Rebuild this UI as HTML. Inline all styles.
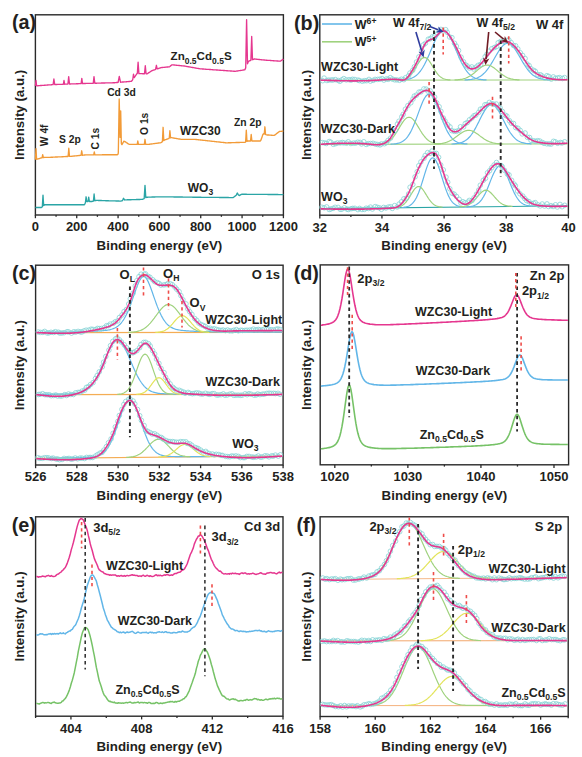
<!DOCTYPE html>
<html><head><meta charset="utf-8"><style>html,body{margin:0;padding:0;background:#fff;width:582px;height:757px;overflow:hidden}svg{display:block}</style></head>
<body><svg width="582" height="757" viewBox="0 0 582 757" font-family="Liberation Sans" font-weight="bold">
<rect width="582" height="757" fill="#fff"/>
<rect x="35.4" y="14.8" width="248.00" height="200.20" fill="none" stroke="#2a2a2a" stroke-width="1.4"/>
<line x1="35.40" y1="215.00" x2="35.40" y2="218.20" stroke="#2a2a2a" stroke-width="1.3"/>
<text x="35.40" y="231.40" font-size="13" text-anchor="middle" fill="#231f20" >0</text>
<line x1="56.07" y1="215.00" x2="56.07" y2="216.80" stroke="#2a2a2a" stroke-width="1.3"/>
<line x1="76.73" y1="215.00" x2="76.73" y2="218.20" stroke="#2a2a2a" stroke-width="1.3"/>
<text x="76.73" y="231.40" font-size="13" text-anchor="middle" fill="#231f20" >200</text>
<line x1="97.40" y1="215.00" x2="97.40" y2="216.80" stroke="#2a2a2a" stroke-width="1.3"/>
<line x1="118.07" y1="215.00" x2="118.07" y2="218.20" stroke="#2a2a2a" stroke-width="1.3"/>
<text x="118.07" y="231.40" font-size="13" text-anchor="middle" fill="#231f20" >400</text>
<line x1="138.73" y1="215.00" x2="138.73" y2="216.80" stroke="#2a2a2a" stroke-width="1.3"/>
<line x1="159.40" y1="215.00" x2="159.40" y2="218.20" stroke="#2a2a2a" stroke-width="1.3"/>
<text x="159.40" y="231.40" font-size="13" text-anchor="middle" fill="#231f20" >600</text>
<line x1="180.07" y1="215.00" x2="180.07" y2="216.80" stroke="#2a2a2a" stroke-width="1.3"/>
<line x1="200.73" y1="215.00" x2="200.73" y2="218.20" stroke="#2a2a2a" stroke-width="1.3"/>
<text x="200.73" y="231.40" font-size="13" text-anchor="middle" fill="#231f20" >800</text>
<line x1="221.40" y1="215.00" x2="221.40" y2="216.80" stroke="#2a2a2a" stroke-width="1.3"/>
<line x1="242.07" y1="215.00" x2="242.07" y2="218.20" stroke="#2a2a2a" stroke-width="1.3"/>
<text x="242.07" y="231.40" font-size="13" text-anchor="middle" fill="#231f20" >1000</text>
<line x1="262.73" y1="215.00" x2="262.73" y2="216.80" stroke="#2a2a2a" stroke-width="1.3"/>
<line x1="283.40" y1="215.00" x2="283.40" y2="218.20" stroke="#2a2a2a" stroke-width="1.3"/>
<text x="283.40" y="231.40" font-size="13" text-anchor="middle" fill="#231f20" >1200</text>
<text x="159.40" y="249.90" font-size="13.3" text-anchor="middle" fill="#231f20" >Binding energy (eV)</text>
<text x="24.2" y="114.90" font-size="13.3" text-anchor="middle" fill="#231f20" transform="rotate(-90 24.2 114.90)">Intensity (a.u.)</text>
<path d="M35.4,85.9 35.9,81.4 36.0,80.5 36.4,84.0 36.6,85.8 36.9,85.8 37.4,85.8 37.9,85.7 38.4,85.7 38.9,85.6 39.4,85.6 39.9,85.6 40.4,85.5 40.9,85.5 41.4,85.5 41.9,85.4 42.4,85.4 42.9,85.3 43.4,85.3 43.9,85.3 44.4,85.2 44.9,85.2 45.4,85.2 45.9,85.1 46.4,85.1 46.9,85.1 47.4,85.0 47.9,85.0 48.4,84.9 48.9,84.9 49.4,84.9 49.9,84.8 50.4,84.8 50.9,84.8 51.4,84.7 51.9,84.7 52.4,84.6 52.9,84.6 53.1,84.6 53.4,82.6 53.9,79.0 54.4,82.6 54.7,84.5 54.9,84.5 55.4,84.5 55.9,84.5 56.4,84.5 56.9,84.5 57.4,84.4 57.9,84.4 58.4,84.4 58.9,84.4 59.4,84.4 59.9,84.3 60.4,84.3 60.9,84.3 61.4,84.3 61.9,84.3 62.4,84.3 62.9,84.2 63.4,84.2 63.9,81.1 64.0,80.5 64.4,82.9 64.6,84.2 64.9,84.2 65.4,84.1 65.9,84.1 66.4,84.1 66.9,84.1 67.4,84.1 67.9,84.0 67.9,84.0 68.4,79.5 68.7,76.6 68.9,78.5 69.4,83.3 69.5,84.0 69.9,84.0 70.4,84.0 70.9,83.9 71.4,83.9 71.9,83.9 72.4,83.9 72.9,83.9 73.4,83.8 73.9,83.8 74.4,83.8 74.9,83.8 75.4,83.8 75.9,83.8 76.4,83.7 76.9,83.7 77.4,83.7 77.9,83.7 78.4,83.7 78.9,83.6 79.4,83.6 79.9,83.6 80.4,83.6 80.9,83.6 81.1,83.6 81.4,81.5 81.8,78.4 81.9,79.2 82.4,83.1 82.5,83.5 82.9,83.5 83.4,83.5 83.9,83.5 84.4,83.5 84.9,83.5 85.4,83.5 85.9,83.4 86.4,83.4 86.9,83.4 87.4,83.4 87.9,83.4 88.4,83.4 88.9,83.4 89.4,83.4 89.9,83.3 90.4,83.3 90.9,83.3 91.4,83.3 91.9,83.3 92.4,83.3 92.9,83.3 93.2,83.3 93.4,81.8 93.9,77.5 94.0,76.6 94.4,80.0 94.8,83.2 94.9,83.2 95.4,83.2 95.9,83.2 96.4,83.2 96.9,83.2 97.4,83.1 97.9,83.1 98.4,83.1 98.9,83.1 99.4,83.1 99.9,83.1 100.4,83.1 100.9,83.1 101.4,83.0 101.9,83.0 102.4,83.0 102.9,83.0 103.4,83.0 103.9,83.0 104.4,83.0 104.9,83.0 105.4,82.9 105.9,82.9 106.4,82.9 106.9,82.9 107.4,82.9 107.9,82.9 108.4,82.9 108.9,82.8 109.4,82.8 109.9,82.8 110.4,82.8 110.9,82.8 111.4,82.8 111.9,82.8 112.4,82.8 112.9,82.7 113.4,82.7 113.9,82.7 114.4,82.7 114.9,82.7 115.4,82.6 115.9,82.6 116.4,82.5 116.9,82.5 117.4,82.5 117.9,82.4 118.1,82.4 118.4,80.9 118.9,78.5 119.3,76.5 119.4,77.0 119.9,79.3 120.4,81.7 120.5,82.2 120.9,82.2 121.4,82.1 121.9,82.1 122.4,82.0 122.9,82.0 123.4,82.0 123.9,81.9 124.4,81.9 124.9,81.8 125.4,81.8 125.9,81.8 126.4,81.7 126.9,81.7 127.4,81.6 127.9,81.6 128.4,81.6 128.9,81.5 129.4,81.5 129.9,81.4 130.4,81.4 130.9,81.3 131.4,81.3 131.9,80.8 132.4,80.1 132.7,79.7 132.9,78.5 133.4,74.9 133.5,74.2 133.9,76.0 134.3,77.6 134.4,77.4 134.9,76.6 135.4,75.9 135.9,75.1 136.4,74.4 136.9,73.6 137.3,73.5 137.4,72.5 137.9,65.1 138.1,62.2 138.4,66.6 138.9,73.6 138.9,73.6 139.4,73.6 139.9,73.6 140.4,73.6 140.9,73.6 141.4,73.6 141.9,73.6 142.4,73.7 142.9,73.7 143.4,73.7 143.9,73.7 144.4,73.7 144.5,73.7 144.9,69.9 145.3,65.7 145.4,66.7 145.9,72.0 146.1,73.8 146.4,73.8 146.9,73.8 147.4,73.6 147.9,73.3 148.4,72.9 148.9,72.6 149.4,72.3 149.9,72.0 150.4,71.6 150.9,71.3 151.4,71.0 151.9,70.7 152.4,70.5 152.9,70.3 153.4,70.2 153.9,70.0 154.4,69.8 154.9,69.7 155.4,69.5 155.6,69.4 155.9,68.0 156.4,65.3 156.9,67.6 157.2,68.9 157.4,68.8 157.9,68.6 158.4,68.5 158.9,68.3 159.4,68.1 159.9,68.0 160.4,67.8 160.9,67.6 161.4,67.6 161.9,67.5 162.4,67.5 162.9,67.4 163.4,67.4 163.9,67.3 164.4,67.3 164.9,67.2 165.4,67.2 165.9,67.1 166.4,67.1 166.9,67.0 167.4,67.0 167.9,67.0 168.4,66.9 168.9,66.9 169.4,66.8 169.9,66.5 170.4,66.0 170.9,65.6 171.4,65.2 171.9,64.8 172.4,64.8 172.9,64.9 173.4,64.9 173.9,65.0 174.4,65.0 174.9,65.1 175.4,65.1 175.9,65.2 176.4,65.2 176.9,65.3 177.4,65.3 177.9,65.4 178.4,65.4 178.9,65.5 179.4,65.5 179.9,65.6 180.4,65.6 180.9,65.7 181.4,65.7 181.9,65.8 182.4,65.8 182.9,65.9 183.4,65.9 183.9,66.0 184.4,66.0 184.9,66.1 185.4,66.2 185.9,66.3 186.4,66.4 186.9,66.5 187.4,66.6 187.9,66.7 188.4,66.7 188.9,66.8 189.4,66.9 189.9,67.0 190.4,67.1 190.9,67.2 191.4,67.3 191.9,67.4 192.4,67.5 192.9,67.5 193.4,67.6 193.9,67.7 194.4,67.8 194.9,67.9 195.4,68.0 195.9,68.1 196.4,68.2 196.9,68.3 197.4,68.3 197.9,68.4 198.4,68.5 198.9,68.6 199.4,68.7 199.9,68.8 200.4,68.8 200.9,68.9 201.4,68.9 201.9,68.9 202.4,69.0 202.9,69.0 203.4,69.0 203.9,69.1 204.4,69.1 204.9,69.1 205.4,69.2 205.9,69.2 206.4,69.3 206.9,69.3 207.4,69.3 207.9,69.4 208.4,69.4 208.9,69.4 209.4,69.5 209.9,69.5 210.4,69.5 210.9,69.6 211.4,69.6 211.9,69.6 212.4,69.7 212.9,69.7 213.4,69.8 213.9,69.8 214.4,69.8 214.9,69.9 215.4,69.9 215.9,69.9 216.4,70.0 216.9,70.0 217.4,70.0 217.9,70.1 218.4,70.1 218.9,70.1 219.4,70.2 219.9,70.2 220.4,70.2 220.9,70.3 221.4,70.3 221.9,70.4 222.4,70.4 222.9,70.4 223.4,70.5 223.9,70.5 224.4,70.5 224.9,70.6 225.4,70.6 225.9,70.6 226.4,70.7 226.9,70.7 227.4,70.7 227.9,70.8 228.4,70.8 228.9,70.9 229.4,70.9 229.9,70.9 230.4,71.0 230.9,71.0 231.4,71.0 231.9,71.1 232.4,71.1 232.9,71.1 233.4,71.2 233.9,71.2 234.4,71.2 234.9,71.3 235.4,71.3 235.9,71.2 236.4,71.1 236.9,71.0 237.4,71.0 237.9,70.9 238.4,70.8 238.9,70.7 239.4,70.6 239.9,70.6 240.4,70.5 240.9,70.4 241.4,70.3 241.9,70.3 242.4,70.2 242.9,70.1 243.4,70.0 243.9,69.9 244.4,69.9 244.9,69.6 245.4,68.5 245.7,67.9 245.9,58.0 246.4,30.6 246.6,19.7 246.9,34.7 247.4,59.8 247.5,63.8 247.9,62.7 248.4,61.5 248.9,61.1 249.4,60.9 249.9,60.7 250.4,60.5 250.9,60.3 250.9,60.3 251.4,45.8 251.7,36.5 251.9,42.5 252.4,57.6 252.5,59.7 252.9,59.6 253.4,59.4 253.9,59.2 254.4,59.0 254.9,59.0 255.4,59.1 255.9,59.1 256.4,59.2 256.9,59.2 257.4,59.3 257.9,59.3 258.4,59.4 258.9,59.5 259.4,59.5 259.9,59.6 260.4,59.6 260.9,59.7 261.4,59.7 261.9,59.8 262.4,59.8 262.9,59.9 263.4,59.9 263.9,60.0 264.4,60.0 264.9,60.1 265.4,60.1 265.9,60.2 266.4,60.2 266.9,60.2 267.4,60.3 267.9,60.3 268.4,60.3 268.9,60.4 269.4,60.4 269.9,60.4 270.4,60.5 270.9,60.5 271.4,60.6 271.9,60.6 272.4,60.6 272.9,60.7 273.4,60.7 273.9,60.7 274.4,60.8 274.9,60.8 275.4,60.8 275.9,60.9 276.4,60.9 276.9,61.0 277.4,61.0 277.9,61.0 278.4,61.1 278.9,61.1 279.4,61.1 279.9,61.2 280.4,61.1 280.9,60.8 281.4,60.4 281.9,60.1 282.4,59.7 282.9,59.4 283.4,59.0" fill="none" stroke="#e5378f" stroke-width="1.35" stroke-linejoin="round" />
<path d="M35.4,159.7 35.9,150.5 36.0,148.6 36.4,155.8 36.6,159.3 36.9,159.2 37.4,159.1 37.9,158.9 38.4,158.8 38.9,158.6 39.4,158.5 39.9,158.3 40.4,158.2 40.9,158.0 41.4,157.9 41.9,157.7 42.1,157.7 42.4,156.1 42.7,154.6 42.9,155.6 43.3,157.5 43.4,157.5 43.9,157.5 44.4,157.4 44.9,157.4 45.4,157.4 45.9,157.4 46.4,157.4 46.9,157.4 47.4,157.4 47.9,157.3 48.4,157.3 48.9,157.3 49.4,157.3 49.9,157.3 50.4,157.3 50.9,157.2 51.4,157.2 51.9,157.2 52.4,157.2 52.9,157.2 53.4,157.1 53.9,157.1 54.4,157.1 54.9,157.1 55.4,157.0 55.9,157.0 56.4,157.0 56.9,157.0 57.4,157.0 57.9,156.9 58.4,156.9 58.9,156.9 59.4,156.9 59.9,156.8 60.4,156.8 60.9,156.8 61.4,156.8 61.9,156.7 62.4,156.7 62.9,156.7 63.4,156.7 63.9,156.6 64.4,156.6 64.9,156.6 65.4,156.6 65.9,156.5 66.4,156.5 66.9,156.5 67.4,156.5 67.9,156.5 68.1,156.4 68.4,153.2 68.8,148.2 68.9,149.4 69.4,155.6 69.5,156.4 69.9,156.4 70.4,156.3 70.9,156.3 71.4,156.3 71.9,156.2 72.4,156.2 72.9,156.1 73.4,156.1 73.9,156.0 74.4,156.0 74.9,155.9 75.4,155.9 75.9,155.8 76.4,155.8 76.9,155.7 77.4,155.7 77.9,155.6 78.4,155.6 78.9,155.5 79.4,155.5 79.9,155.4 80.4,155.4 80.9,155.3 81.0,155.3 81.4,152.9 81.7,150.8 81.9,152.1 82.4,155.2 82.4,155.2 82.9,155.2 83.4,155.1 83.9,155.1 84.4,155.0 84.9,155.0 85.4,154.9 85.9,154.9 86.4,154.8 86.9,154.8 87.4,154.8 87.9,154.8 88.4,154.8 88.9,154.8 89.4,154.8 89.9,154.8 90.4,154.8 90.9,154.8 91.4,154.8 91.9,154.8 92.4,154.8 92.9,154.8 93.4,154.8 93.7,154.8 93.9,153.9 94.3,152.0 94.4,152.5 94.9,154.8 95.4,154.8 95.9,154.8 96.4,154.8 96.9,154.8 97.4,154.8 97.9,154.8 98.4,154.8 98.9,154.8 99.4,154.8 99.9,154.8 100.4,154.8 100.9,154.8 101.4,154.8 101.9,154.8 102.4,154.7 102.9,154.7 103.4,154.7 103.9,154.7 104.4,154.7 104.9,154.7 105.4,154.7 105.9,154.7 106.4,154.7 106.9,154.7 107.4,154.7 107.9,154.7 108.4,154.7 108.9,154.7 109.4,154.7 109.9,154.7 110.4,154.7 110.9,154.7 111.4,154.7 111.9,154.7 112.4,154.7 112.9,154.7 113.4,154.7 113.9,154.7 114.4,154.7 114.9,154.7 115.4,154.7 115.9,154.7 116.4,154.7 116.9,154.7 117.4,154.7 117.9,154.4 118.3,153.0 118.4,148.0 118.9,117.3 119.2,98.9 119.4,107.7 119.9,129.5 120.1,137.4 120.1,137.1 120.4,122.5 120.7,110.9 120.9,121.2 121.3,141.9 121.4,143.6 121.9,144.6 122.4,143.8 122.9,142.9 123.4,142.0 123.9,141.2 124.4,141.3 124.9,141.6 125.4,141.9 125.9,142.2 126.4,142.6 126.9,142.9 127.4,143.2 127.9,143.6 128.4,143.9 128.9,144.2 129.4,144.4 129.9,144.4 130.4,144.4 130.9,144.4 131.4,144.4 131.9,144.4 132.4,144.4 132.9,144.4 133.4,144.4 133.9,144.4 134.4,144.4 134.9,144.4 135.4,144.4 135.9,144.4 136.4,144.4 136.9,144.4 137.2,144.4 137.4,143.3 137.8,141.0 137.9,141.6 138.4,144.4 138.9,144.4 139.4,144.4 139.9,144.4 140.4,144.4 140.9,144.4 141.4,144.4 141.9,144.4 142.4,144.4 142.9,144.4 143.4,144.4 143.9,144.4 144.3,144.4 144.4,143.9 144.9,140.1 145.0,139.3 145.4,142.4 145.7,144.4 145.9,144.4 146.4,144.4 146.9,144.4 147.4,144.4 147.9,144.4 148.4,144.4 148.9,144.3 149.4,144.2 149.9,144.2 150.4,144.1 150.9,144.0 151.4,144.0 151.9,143.9 152.4,143.8 152.9,143.8 153.4,143.7 153.9,143.6 154.4,143.6 154.9,143.5 155.4,143.4 155.9,143.4 156.4,143.3 156.9,143.2 157.4,143.2 157.9,143.1 158.4,143.0 158.9,143.0 159.4,142.9 159.9,142.8 160.4,142.8 160.9,142.7 161.4,142.4 161.9,142.0 162.4,141.6 162.4,141.6 162.9,131.6 163.1,127.3 163.4,133.3 163.8,140.6 163.9,140.5 164.4,140.1 164.9,139.9 165.4,139.7 165.9,139.6 166.4,139.4 166.9,139.2 167.4,139.0 167.9,138.8 168.4,138.7 168.9,138.5 169.2,138.3 169.4,136.5 169.9,130.7 170.4,136.1 170.6,137.9 170.9,137.7 171.4,137.6 171.9,137.7 172.4,137.8 172.9,137.9 173.4,138.0 173.9,138.1 174.4,138.2 174.9,138.2 175.4,138.3 175.9,138.4 176.4,138.5 176.9,138.6 177.4,138.7 177.9,138.8 178.4,138.9 178.9,139.0 179.4,139.0 179.9,139.1 180.4,139.2 180.9,139.3 181.4,139.3 181.9,139.3 182.4,139.3 182.9,139.3 183.4,139.3 183.9,139.3 184.4,139.3 184.9,139.3 185.4,139.3 185.9,139.3 186.4,139.3 186.9,139.3 187.4,139.3 187.9,139.3 188.4,139.3 188.9,139.3 189.4,139.3 189.9,139.3 190.4,139.3 190.9,139.3 191.4,139.3 191.9,139.3 192.4,139.3 192.9,139.3 193.4,139.3 193.9,139.3 194.4,139.3 194.9,139.3 195.4,139.4 195.9,139.5 196.4,139.5 196.9,139.6 197.4,139.6 197.9,139.7 198.4,139.7 198.9,139.8 199.4,139.8 199.9,139.9 200.4,140.0 200.9,140.0 201.4,140.1 201.9,140.1 202.4,140.2 202.9,140.2 203.4,140.3 203.9,140.3 204.4,140.4 204.9,140.4 205.4,140.5 205.9,140.6 206.4,140.6 206.9,140.7 207.4,140.7 207.9,140.8 208.4,140.8 208.9,140.9 209.4,140.9 209.9,141.0 210.4,141.1 210.9,141.1 211.4,141.2 211.9,141.2 212.4,141.3 212.9,141.3 213.4,141.4 213.9,141.4 214.4,141.5 214.9,141.6 215.4,141.6 215.9,141.7 216.4,141.7 216.9,141.8 217.4,141.8 217.9,141.9 218.4,141.9 218.9,142.0 219.4,142.0 219.9,142.1 220.4,142.2 220.9,142.2 221.4,142.3 221.9,142.3 222.4,142.4 222.9,142.4 223.4,142.5 223.9,142.5 224.4,142.6 224.9,142.7 225.4,142.7 225.9,142.8 226.4,142.8 226.9,142.8 227.4,142.8 227.9,142.8 228.4,142.7 228.9,142.7 229.4,142.7 229.9,142.7 230.4,142.7 230.9,142.7 231.4,142.7 231.9,142.6 232.4,142.6 232.9,142.6 233.4,142.6 233.9,142.6 234.4,142.6 234.9,142.6 235.4,142.6 235.9,142.5 236.4,142.5 236.9,142.5 237.4,142.5 237.9,142.5 238.4,142.5 238.9,142.5 239.4,142.5 239.9,142.4 240.4,142.4 240.9,142.4 241.4,142.4 241.9,142.4 242.4,142.4 242.9,142.4 243.4,142.3 243.9,142.3 244.4,142.3 244.9,142.3 245.4,142.2 245.6,142.0 245.9,137.4 246.3,130.2 246.4,131.9 246.9,140.4 247.0,141.4 247.4,141.2 247.9,141.0 248.4,141.0 248.9,141.0 249.4,141.0 249.9,141.0 250.4,141.0 250.5,141.0 250.9,137.5 251.2,134.5 251.4,136.5 251.9,141.0 251.9,141.0 252.4,141.0 252.9,141.0 253.4,141.0 253.9,141.0 254.4,141.0 254.9,141.0 255.4,141.0 255.9,141.0 256.4,141.0 256.9,141.0 257.4,141.0 257.9,141.0 258.4,141.0 258.9,141.0 259.4,141.0 259.9,141.0 260.4,141.0 260.9,140.2 261.4,138.8 261.9,137.4 262.4,135.9 262.9,134.5 263.4,133.8 263.9,133.9 264.2,134.1 264.4,132.3 264.9,126.8 265.4,132.7 265.6,134.5 265.9,134.7 266.4,134.8 266.9,134.9 267.4,135.0 267.9,135.0 268.4,135.0 268.9,135.0 269.4,135.1 269.9,135.1 270.4,135.1 270.9,135.2 271.4,135.2 271.9,135.2 272.4,135.3 272.9,135.3 273.4,135.3 273.9,135.4 274.4,135.3 274.9,134.9 275.4,134.6 275.9,134.2 276.4,133.8 276.9,133.4 277.4,133.0 277.9,132.6 278.4,132.2 278.9,131.9 279.4,131.5 279.9,131.4 280.4,131.3 280.9,131.3 281.4,131.3 281.9,131.2 282.4,131.2 282.9,131.1 283.4,131.1" fill="none" stroke="#f29b38" stroke-width="1.35" stroke-linejoin="round" />
<path d="M35.4,207.5 35.9,207.5 36.4,207.5 36.9,207.5 37.4,207.5 37.9,207.5 38.4,207.5 38.9,207.5 39.4,207.5 39.9,207.5 40.4,207.5 40.9,207.5 41.4,207.5 41.9,207.1 42.3,206.7 42.4,205.6 42.9,196.9 43.0,195.1 43.4,201.5 43.7,205.6 43.9,205.4 44.4,205.0 44.9,204.7 45.4,204.7 45.9,204.7 46.4,204.7 46.9,204.7 47.4,204.7 47.9,204.7 48.4,204.7 48.9,204.7 49.4,204.7 49.9,204.7 50.4,204.7 50.9,204.7 51.4,204.7 51.9,204.7 52.4,204.7 52.9,204.7 53.4,204.7 53.9,204.7 54.4,204.7 54.9,204.7 55.4,204.7 55.9,204.7 56.4,204.7 56.9,204.7 57.4,204.7 57.9,204.7 58.4,204.7 58.9,204.7 59.4,204.7 59.9,204.7 60.4,204.7 60.9,204.7 61.4,204.7 61.9,204.7 62.4,204.7 62.9,204.7 63.4,204.7 63.9,204.7 64.4,204.7 64.9,204.7 65.4,204.7 65.9,204.7 66.4,204.7 66.9,204.7 67.4,204.7 67.9,204.7 68.4,204.7 68.9,204.7 69.4,204.7 69.9,204.7 70.4,204.7 70.9,204.7 71.4,204.7 71.9,204.7 72.4,204.7 72.9,204.7 73.4,204.7 73.9,204.7 74.4,204.7 74.9,204.7 75.4,204.7 75.9,204.7 76.4,204.7 76.9,204.7 77.4,204.7 77.9,204.7 78.4,204.7 78.9,204.7 79.4,204.7 79.9,204.7 80.4,204.7 80.9,204.7 81.4,204.7 81.9,204.7 82.4,204.7 82.9,204.7 83.4,204.7 83.9,204.7 84.4,204.7 84.9,203.8 85.4,202.8 85.4,202.7 85.9,198.6 86.1,196.8 86.4,198.9 86.8,201.5 86.9,201.5 87.4,201.5 87.9,201.5 88.0,201.5 88.4,199.2 88.7,197.2 88.9,198.5 89.4,201.5 89.4,201.5 89.9,201.5 90.4,201.5 90.9,201.5 91.4,201.5 91.9,201.5 92.4,201.4 92.9,201.2 93.4,201.1 93.4,201.1 93.9,196.2 94.1,194.0 94.4,197.1 94.8,200.8 94.9,200.7 95.4,200.6 95.9,200.5 96.4,200.4 96.9,200.4 97.4,200.4 97.9,200.4 98.4,200.5 98.9,200.5 99.4,200.5 99.9,200.5 100.4,200.5 100.9,200.5 101.4,200.5 101.9,200.6 102.4,200.6 102.9,200.6 103.4,200.6 103.9,200.6 104.4,200.6 104.9,200.6 105.4,200.7 105.9,200.7 106.4,200.7 106.9,200.7 107.4,200.7 107.9,200.7 108.4,200.7 108.9,200.8 109.4,200.8 109.9,200.8 110.4,200.8 110.9,200.8 111.4,200.8 111.9,200.8 112.4,200.9 112.9,200.9 113.4,200.9 113.9,200.9 114.4,200.9 114.9,200.9 115.4,200.9 115.9,201.0 116.4,201.0 116.9,201.0 117.4,201.0 117.9,201.0 118.4,201.0 118.9,201.0 119.4,201.1 119.9,201.1 120.4,201.1 120.9,201.1 121.4,200.9 121.9,200.8 122.4,200.6 122.9,199.6 123.4,198.5 123.5,198.3 123.9,198.9 124.4,199.7 124.6,200.0 124.9,199.9 125.4,199.8 125.9,199.8 126.4,199.8 126.9,199.8 127.4,199.7 127.9,199.7 128.4,199.7 128.9,199.7 129.4,199.7 129.9,199.7 130.4,199.7 130.9,199.7 131.4,199.7 131.9,199.6 132.4,199.6 132.9,199.6 133.4,199.6 133.9,199.6 134.4,199.6 134.9,199.6 135.4,199.6 135.9,199.6 136.4,199.5 136.9,199.5 137.4,199.5 137.9,199.5 138.4,199.5 138.9,199.5 139.4,199.5 139.9,199.5 140.4,199.4 140.9,199.4 141.4,199.4 141.9,199.4 142.4,199.4 142.9,199.1 143.4,198.9 143.9,198.6 144.2,198.5 144.4,194.9 144.9,187.0 145.0,185.4 145.4,191.3 145.8,197.6 145.9,197.6 146.4,197.4 146.9,197.2 147.4,197.2 147.9,197.2 148.4,197.1 148.9,197.1 149.4,197.1 149.9,197.1 150.4,197.1 150.9,197.1 151.4,197.1 151.9,197.0 152.4,197.0 152.9,197.0 153.4,197.0 153.9,197.0 154.4,197.0 154.9,197.0 155.4,196.9 155.9,196.9 156.4,196.9 156.9,196.9 157.4,196.9 157.9,196.9 158.4,196.8 158.9,196.8 159.4,196.8 159.9,196.8 160.4,196.8 160.9,196.8 161.4,196.8 161.9,196.8 162.4,196.8 162.9,196.8 163.4,196.8 163.9,196.8 164.4,196.8 164.9,196.9 165.4,196.9 165.9,196.9 166.4,196.9 166.9,196.9 167.4,196.9 167.9,196.9 168.4,196.9 168.9,196.9 169.4,196.9 169.9,196.9 170.4,196.9 170.9,196.9 171.4,196.9 171.9,196.9 172.4,196.9 172.9,196.9 173.4,196.9 173.9,197.0 174.4,197.0 174.9,197.0 175.4,197.0 175.9,197.0 176.4,197.0 176.9,197.0 177.4,197.0 177.9,197.0 178.4,197.0 178.9,197.0 179.4,197.0 179.9,197.0 180.4,197.0 180.9,197.0 181.4,197.0 181.9,197.0 182.4,197.0 182.9,197.1 183.4,197.1 183.9,197.1 184.4,197.1 184.9,197.1 185.4,197.1 185.9,197.1 186.4,197.1 186.9,197.1 187.4,197.1 187.9,197.1 188.4,197.1 188.9,197.1 189.4,197.1 189.9,197.1 190.4,197.1 190.9,197.1 191.4,197.1 191.9,197.1 192.4,197.2 192.9,197.2 193.4,197.2 193.9,197.2 194.4,197.2 194.9,197.2 195.4,197.2 195.9,197.2 196.4,197.2 196.9,197.2 197.4,197.2 197.9,197.2 198.4,197.2 198.9,197.2 199.4,197.2 199.9,197.2 200.4,197.2 200.9,197.2 201.4,197.3 201.9,197.3 202.4,197.3 202.9,197.3 203.4,197.3 203.9,197.3 204.4,197.3 204.9,197.3 205.4,197.3 205.9,197.3 206.4,197.3 206.9,197.3 207.4,197.3 207.9,197.3 208.4,197.3 208.9,197.3 209.4,197.3 209.9,197.3 210.4,197.4 210.9,197.4 211.4,197.4 211.9,197.4 212.4,197.4 212.9,197.4 213.4,197.4 213.9,197.4 214.4,197.4 214.9,197.4 215.4,197.4 215.9,197.4 216.4,197.4 216.9,197.4 217.4,197.4 217.9,197.4 218.4,197.4 218.9,197.4 219.4,197.5 219.9,197.5 220.4,197.5 220.9,197.5 221.4,197.5 221.9,197.5 222.4,197.5 222.9,197.5 223.4,197.5 223.9,197.5 224.4,197.5 224.9,197.5 225.4,197.5 225.9,197.5 226.4,197.5 226.9,197.5 227.4,197.5 227.9,197.5 228.4,197.5 228.9,197.6 229.4,197.6 229.9,197.6 230.4,197.6 230.9,197.6 231.4,197.6 231.9,197.6 232.4,197.6 232.9,197.6 233.4,197.3 233.9,197.0 234.4,196.6 234.9,196.2 235.4,195.9 235.9,195.5 236.2,195.3 236.4,194.9 236.9,193.8 237.3,192.9 237.4,193.1 237.9,194.0 238.4,195.0 238.9,195.2 239.4,195.5 239.9,195.3 240.4,194.9 240.9,194.6 241.4,194.3 241.9,194.2 242.4,194.2 242.9,194.2 243.4,194.2 243.9,194.2 244.4,194.2 244.9,194.2 245.4,194.2 245.9,194.2 246.4,194.2 246.9,194.3 247.4,194.3 247.9,194.3 248.4,194.3 248.9,194.3 249.4,194.3 249.9,194.3 250.4,194.3 250.9,194.3 251.4,194.3 251.9,194.3 252.4,194.3 252.9,194.3 253.4,194.3 253.9,194.3 254.4,194.3 254.9,194.3 255.4,194.3 255.9,194.3 256.4,194.3 256.9,194.3 257.4,194.4 257.9,194.4 258.4,194.4 258.9,194.4 259.4,194.4 259.9,194.4 260.4,194.4 260.9,194.4 261.4,194.4 261.9,194.4 262.4,194.4 262.9,194.4 263.4,194.4 263.9,194.4 264.4,194.4 264.9,194.4 265.4,194.4 265.9,194.4 266.4,194.4 266.9,194.4 267.4,194.4 267.9,194.5 268.4,194.5 268.9,194.5 269.4,194.5 269.9,194.5 270.4,194.5 270.9,194.5 271.4,194.5 271.9,194.5 272.4,194.5 272.9,194.5 273.4,194.5 273.9,194.5 274.4,194.5 274.9,194.5 275.4,194.5 275.9,194.5 276.4,194.5 276.9,194.5 277.4,194.5 277.9,194.5 278.4,194.6 278.9,194.6 279.4,194.6 279.9,194.6 280.4,194.6 280.9,194.6 281.4,194.6 281.9,194.6 282.4,194.6 282.9,194.6 283.4,194.6" fill="none" stroke="#2ba5a6" stroke-width="1.35" stroke-linejoin="round" />
<text x="12.00" y="29.20" font-size="19.8" text-anchor="start" fill="#231f20" >(a)</text>
<text x="107.20" y="95.60" font-size="10.3" text-anchor="start" fill="#231f20" >Cd 3d</text>
<text x="170.60" y="60.30" font-size="11.6" text-anchor="start" fill="#231f20" >Zn<tspan font-size="8.5" dy="3.4">0.5</tspan><tspan dy="-3.4">Cd</tspan><tspan font-size="8.5" dy="3.4">0.5</tspan><tspan dy="-3.4">S</tspan></text>
<text x="180.00" y="134.90" font-size="12" text-anchor="start" fill="#231f20" >WZC30</text>
<text x="234.00" y="125.90" font-size="10.3" text-anchor="start" fill="#231f20" >Zn 2p</text>
<text x="59.00" y="143.40" font-size="10.3" text-anchor="start" fill="#231f20" >S 2p</text>
<text x="187.80" y="191.80" font-size="12" text-anchor="start" fill="#231f20" >WO<tspan font-size="8.5" dy="3.4">3</tspan></text>
<text x="47.6" y="135.3" font-size="10.3" text-anchor="middle" fill="#231f20" transform="rotate(-90 47.6 135.3)">W 4f</text>
<text x="99.0" y="138.6" font-size="10.3" text-anchor="middle" fill="#231f20" transform="rotate(-90 99.0 138.6)">C 1s</text>
<text x="148.3" y="123.8" font-size="10.3" text-anchor="middle" fill="#231f20" transform="rotate(-90 148.3 123.8)">O 1s</text>
<rect x="319.8" y="14.8" width="248.60" height="200.40" fill="none" stroke="#2a2a2a" stroke-width="1.4"/>
<line x1="319.80" y1="215.20" x2="319.80" y2="218.40" stroke="#2a2a2a" stroke-width="1.3"/>
<text x="319.80" y="231.60" font-size="13" text-anchor="middle" fill="#231f20" >32</text>
<line x1="350.88" y1="215.20" x2="350.88" y2="217.00" stroke="#2a2a2a" stroke-width="1.3"/>
<line x1="381.95" y1="215.20" x2="381.95" y2="218.40" stroke="#2a2a2a" stroke-width="1.3"/>
<text x="381.95" y="231.60" font-size="13" text-anchor="middle" fill="#231f20" >34</text>
<line x1="413.02" y1="215.20" x2="413.02" y2="217.00" stroke="#2a2a2a" stroke-width="1.3"/>
<line x1="444.10" y1="215.20" x2="444.10" y2="218.40" stroke="#2a2a2a" stroke-width="1.3"/>
<text x="444.10" y="231.60" font-size="13" text-anchor="middle" fill="#231f20" >36</text>
<line x1="475.17" y1="215.20" x2="475.17" y2="217.00" stroke="#2a2a2a" stroke-width="1.3"/>
<line x1="506.25" y1="215.20" x2="506.25" y2="218.40" stroke="#2a2a2a" stroke-width="1.3"/>
<text x="506.25" y="231.60" font-size="13" text-anchor="middle" fill="#231f20" >38</text>
<line x1="537.33" y1="215.20" x2="537.33" y2="217.00" stroke="#2a2a2a" stroke-width="1.3"/>
<line x1="568.40" y1="215.20" x2="568.40" y2="218.40" stroke="#2a2a2a" stroke-width="1.3"/>
<text x="568.40" y="231.60" font-size="13" text-anchor="middle" fill="#231f20" >40</text>
<text x="444.10" y="250.10" font-size="13.3" text-anchor="middle" fill="#231f20" >Binding energy (eV)</text>
<text x="310.9" y="115.00" font-size="13.3" text-anchor="middle" fill="#231f20" transform="rotate(-90 310.9 115.00)">Intensity (a.u.)</text>
<path d="M320.5,80.2 567.5,80.0" fill="none" stroke="#9fd27e" stroke-width="1.1" stroke-linejoin="round" />
<path d="M400.5,80.0 401.5,80.0 402.5,79.9 403.5,79.8 404.5,79.7 405.5,79.6 406.5,79.5 407.5,79.3 408.5,79.1 409.5,78.9 410.5,78.6 411.5,78.2 412.5,77.8 413.5,77.3 414.5,76.7 415.5,76.1 416.5,75.3 417.5,74.4 418.5,73.4 419.5,72.2 420.5,71.0 421.5,69.5 422.5,68.0 423.5,66.3 424.5,64.5 425.5,62.5 426.5,60.4 427.5,58.3 428.5,56.0 429.5,53.7 430.5,51.3 431.5,48.9 432.5,46.5 433.5,44.2 434.5,41.9 435.5,39.8 436.5,37.8 437.5,36.1 438.5,34.5 439.5,33.2 440.5,32.1 441.5,31.3 442.5,30.9 443.5,30.7 444.5,30.9 445.5,31.3 446.5,32.1 447.5,33.2 448.5,34.5 449.5,36.0 450.5,37.8 451.5,39.8 452.5,41.9 453.5,44.2 454.5,46.5 455.5,48.9 456.5,51.3 457.5,53.6 458.5,56.0 459.5,58.2 460.5,60.4 461.5,62.5 462.5,64.4 463.5,66.3 464.5,68.0 465.5,69.5 466.5,70.9 467.5,72.2 468.5,73.3 469.5,74.3 470.5,75.2 471.5,76.0 472.5,76.7 473.5,77.3 474.5,77.8 475.5,78.2 476.5,78.5 477.5,78.8 478.5,79.1 479.5,79.3 480.5,79.4 481.5,79.6 482.5,79.7 483.5,79.8 484.5,79.8 485.5,79.9 486.5,79.9" fill="none" stroke="#62b6e8" stroke-width="1.2" stroke-linejoin="round" />
<path d="M464.5,80.0 465.5,79.9 466.5,79.9 467.5,79.8 468.5,79.7 469.5,79.7 470.5,79.5 471.5,79.4 472.5,79.2 473.5,79.0 474.5,78.8 475.5,78.5 476.5,78.2 477.5,77.8 478.5,77.3 479.5,76.8 480.5,76.2 481.5,75.5 482.5,74.7 483.5,73.8 484.5,72.9 485.5,71.8 486.5,70.6 487.5,69.4 488.5,68.0 489.5,66.5 490.5,65.0 491.5,63.4 492.5,61.7 493.5,60.0 494.5,58.3 495.5,56.5 496.5,54.8 497.5,53.1 498.5,51.5 499.5,49.9 500.5,48.5 501.5,47.2 502.5,46.1 503.5,45.1 504.5,44.4 505.5,43.8 506.5,43.5 507.5,43.3 508.5,43.5 509.5,43.8 510.5,44.4 511.5,45.1 512.5,46.1 513.5,47.2 514.5,48.5 515.5,49.9 516.5,51.4 517.5,53.1 518.5,54.8 519.5,56.5 520.5,58.2 521.5,60.0 522.5,61.7 523.5,63.4 524.5,65.0 525.5,66.5 526.5,68.0 527.5,69.3 528.5,70.6 529.5,71.8 530.5,72.8 531.5,73.8 532.5,74.7 533.5,75.5 534.5,76.1 535.5,76.7 536.5,77.3 537.5,77.7 538.5,78.1 539.5,78.5 540.5,78.7 541.5,79.0 542.5,79.2 543.5,79.3 544.5,79.5 545.5,79.6 546.5,79.7 547.5,79.8 548.5,79.8 549.5,79.9 550.5,79.9" fill="none" stroke="#62b6e8" stroke-width="1.2" stroke-linejoin="round" />
<path d="M398.5,80.0 399.5,79.9 400.5,79.9 401.5,79.7 402.5,79.6 403.5,79.4 404.5,79.1 405.5,78.7 406.5,78.2 407.5,77.7 408.5,77.0 409.5,76.1 410.5,75.1 411.5,73.9 412.5,72.6 413.5,71.2 414.5,69.6 415.5,67.9 416.5,66.2 417.5,64.5 418.5,62.9 419.5,61.4 420.5,60.0 421.5,58.9 422.5,58.1 423.5,57.6 424.5,57.4 425.5,57.6 426.5,58.1 427.5,58.9 428.5,60.0 429.5,61.4 430.5,62.9 431.5,64.5 432.5,66.2 433.5,67.9 434.5,69.6 435.5,71.1 436.5,72.6 437.5,73.9 438.5,75.1 439.5,76.1 440.5,76.9 441.5,77.6 442.5,78.2 443.5,78.7 444.5,79.0 445.5,79.3 446.5,79.5 447.5,79.7 448.5,79.8 449.5,79.9 450.5,80.0" fill="none" stroke="#9fd27e" stroke-width="1.2" stroke-linejoin="round" />
<path d="M454.5,80.0 455.5,79.9 456.5,79.9 457.5,79.8 458.5,79.7 459.5,79.6 460.5,79.4 461.5,79.3 462.5,79.1 463.5,78.8 464.5,78.5 465.5,78.2 466.5,77.8 467.5,77.4 468.5,76.8 469.5,76.3 470.5,75.7 471.5,75.0 472.5,74.3 473.5,73.5 474.5,72.7 475.5,71.8 476.5,71.0 477.5,70.1 478.5,69.3 479.5,68.5 480.5,67.7 481.5,67.0 482.5,66.4 483.5,65.9 484.5,65.5 485.5,65.2 486.5,65.1 487.5,65.1 488.5,65.2 489.5,65.4 490.5,65.8 491.5,66.3 492.5,66.9 493.5,67.6 494.5,68.3 495.5,69.1 496.5,69.9 497.5,70.8 498.5,71.6 499.5,72.5 500.5,73.3 501.5,74.1 502.5,74.8 503.5,75.5 504.5,76.1 505.5,76.7 506.5,77.2 507.5,77.7 508.5,78.1 509.5,78.4 510.5,78.7 511.5,79.0 512.5,79.2 513.5,79.4 514.5,79.5 515.5,79.6 516.5,79.7 517.5,79.8 518.5,79.9 519.5,79.9" fill="none" stroke="#9fd27e" stroke-width="1.2" stroke-linejoin="round" />
<g fill="none" stroke="#86d3d6" stroke-width="0.8"><circle cx="322.7" cy="80.7" r="2.3"/><circle cx="324.1" cy="78.1" r="2.3"/><circle cx="326.9" cy="80.5" r="2.3"/><circle cx="328.7" cy="80.1" r="2.3"/><circle cx="331.2" cy="80.0" r="2.3"/><circle cx="333.0" cy="80.0" r="2.3"/><circle cx="335.4" cy="79.6" r="2.3"/><circle cx="338.2" cy="80.5" r="2.3"/><circle cx="339.9" cy="81.3" r="2.3"/><circle cx="341.9" cy="79.8" r="2.3"/><circle cx="343.8" cy="78.6" r="2.3"/><circle cx="346.3" cy="79.9" r="2.3"/><circle cx="349.1" cy="79.7" r="2.3"/><circle cx="351.0" cy="80.1" r="2.3"/><circle cx="352.6" cy="79.3" r="2.3"/><circle cx="354.9" cy="79.5" r="2.3"/><circle cx="358.0" cy="80.1" r="2.3"/><circle cx="359.4" cy="80.6" r="2.3"/><circle cx="362.2" cy="81.2" r="2.3"/><circle cx="364.5" cy="80.7" r="2.3"/><circle cx="366.6" cy="80.7" r="2.3"/><circle cx="369.0" cy="79.4" r="2.3"/><circle cx="370.4" cy="81.1" r="2.3"/><circle cx="373.1" cy="80.4" r="2.3"/><circle cx="375.1" cy="79.4" r="2.3"/><circle cx="377.7" cy="79.4" r="2.3"/><circle cx="379.8" cy="79.2" r="2.3"/><circle cx="382.1" cy="78.6" r="2.3"/><circle cx="383.9" cy="80.1" r="2.3"/><circle cx="386.5" cy="78.9" r="2.3"/><circle cx="388.3" cy="79.3" r="2.3"/><circle cx="390.3" cy="77.7" r="2.3"/><circle cx="392.4" cy="79.1" r="2.3"/><circle cx="394.7" cy="79.8" r="2.3"/><circle cx="396.9" cy="79.9" r="2.3"/><circle cx="399.5" cy="80.3" r="2.3"/><circle cx="401.5" cy="79.2" r="2.3"/><circle cx="403.8" cy="79.7" r="2.3"/><circle cx="405.6" cy="77.7" r="2.3"/><circle cx="408.5" cy="75.9" r="2.3"/><circle cx="409.9" cy="73.1" r="2.3"/><circle cx="412.7" cy="70.3" r="2.3"/><circle cx="414.4" cy="66.8" r="2.3"/><circle cx="416.5" cy="62.0" r="2.3"/><circle cx="418.9" cy="56.9" r="2.3"/><circle cx="421.7" cy="50.4" r="2.3"/><circle cx="423.5" cy="44.8" r="2.3"/><circle cx="425.4" cy="43.3" r="2.3"/><circle cx="428.3" cy="39.2" r="2.3"/><circle cx="430.3" cy="38.7" r="2.3"/><circle cx="432.2" cy="36.9" r="2.3"/><circle cx="434.7" cy="36.0" r="2.3"/><circle cx="437.2" cy="33.7" r="2.3"/><circle cx="439.1" cy="31.3" r="2.3"/><circle cx="440.9" cy="29.4" r="2.3"/><circle cx="443.0" cy="30.9" r="2.3"/><circle cx="445.7" cy="29.7" r="2.3"/><circle cx="447.2" cy="32.3" r="2.3"/><circle cx="449.6" cy="37.0" r="2.3"/><circle cx="451.9" cy="37.6" r="2.3"/><circle cx="454.5" cy="43.3" r="2.3"/><circle cx="456.3" cy="46.1" r="2.3"/><circle cx="458.6" cy="50.5" r="2.3"/><circle cx="461.1" cy="57.2" r="2.3"/><circle cx="463.4" cy="61.7" r="2.3"/><circle cx="465.5" cy="64.8" r="2.3"/><circle cx="467.2" cy="66.0" r="2.3"/><circle cx="469.5" cy="68.0" r="2.3"/><circle cx="471.8" cy="66.9" r="2.3"/><circle cx="473.7" cy="69.0" r="2.3"/><circle cx="476.2" cy="67.1" r="2.3"/><circle cx="478.1" cy="65.3" r="2.3"/><circle cx="480.5" cy="64.5" r="2.3"/><circle cx="482.8" cy="61.0" r="2.3"/><circle cx="485.2" cy="56.6" r="2.3"/><circle cx="486.9" cy="54.2" r="2.3"/><circle cx="489.2" cy="51.1" r="2.3"/><circle cx="491.8" cy="48.7" r="2.3"/><circle cx="494.4" cy="47.5" r="2.3"/><circle cx="496.6" cy="46.6" r="2.3"/><circle cx="498.2" cy="42.7" r="2.3"/><circle cx="500.6" cy="41.4" r="2.3"/><circle cx="503.0" cy="41.5" r="2.3"/><circle cx="504.7" cy="41.2" r="2.3"/><circle cx="507.1" cy="40.4" r="2.3"/><circle cx="508.8" cy="39.9" r="2.3"/><circle cx="511.1" cy="42.5" r="2.3"/><circle cx="513.4" cy="45.4" r="2.3"/><circle cx="515.6" cy="45.8" r="2.3"/><circle cx="517.8" cy="48.9" r="2.3"/><circle cx="520.3" cy="52.8" r="2.3"/><circle cx="522.6" cy="55.4" r="2.3"/><circle cx="525.1" cy="58.5" r="2.3"/><circle cx="527.1" cy="64.1" r="2.3"/><circle cx="529.1" cy="65.6" r="2.3"/><circle cx="530.9" cy="68.7" r="2.3"/><circle cx="533.5" cy="70.3" r="2.3"/><circle cx="535.3" cy="71.3" r="2.3"/><circle cx="537.8" cy="74.5" r="2.3"/><circle cx="540.5" cy="74.8" r="2.3"/><circle cx="542.1" cy="76.0" r="2.3"/><circle cx="544.4" cy="77.9" r="2.3"/><circle cx="546.9" cy="75.7" r="2.3"/><circle cx="548.7" cy="76.4" r="2.3"/><circle cx="551.3" cy="79.1" r="2.3"/><circle cx="553.3" cy="76.9" r="2.3"/><circle cx="555.5" cy="78.3" r="2.3"/><circle cx="557.8" cy="77.9" r="2.3"/><circle cx="559.7" cy="77.6" r="2.3"/><circle cx="562.5" cy="78.5" r="2.3"/><circle cx="564.6" cy="77.6" r="2.3"/></g>
<path d="M320.5,80.1 321.5,80.2 322.5,80.2 323.5,80.2 324.5,80.3 325.5,80.3 326.5,80.3 327.5,80.4 328.5,80.4 329.5,80.4 330.5,80.4 331.5,80.5 332.5,80.5 333.5,80.5 334.5,80.6 335.5,80.6 336.5,80.6 337.5,80.6 338.5,80.7 339.5,80.7 340.5,80.7 341.5,80.7 342.5,80.8 343.5,80.8 344.5,80.8 345.5,80.8 346.5,80.8 347.5,80.8 348.5,80.8 349.5,80.9 350.5,80.9 351.5,80.9 352.5,80.9 353.5,80.9 354.5,80.9 355.5,80.9 356.5,80.9 357.5,80.9 358.5,80.8 359.5,80.8 360.5,80.8 361.5,80.8 362.5,80.8 363.5,80.8 364.5,80.7 365.5,80.7 366.5,80.7 367.5,80.7 368.5,80.6 369.5,80.6 370.5,80.5 371.5,80.5 372.5,80.5 373.5,80.4 374.5,80.4 375.5,80.3 376.5,80.2 377.5,80.2 378.5,80.1 379.5,80.0 380.5,80.0 381.5,79.9 382.5,79.8 383.5,79.7 384.5,79.7 385.5,79.6 386.5,79.5 387.5,79.5 388.5,79.4 389.5,79.4 390.5,79.3 391.5,79.3 392.5,79.3 393.5,79.3 394.5,79.3 395.5,79.4 396.5,79.4 397.5,79.5 398.5,79.6 399.5,79.7 400.5,79.9 401.5,80.0 402.5,80.1 403.5,80.0 404.5,79.8 405.5,79.3 406.5,78.5 407.5,77.4 408.5,76.2 409.5,74.8 410.5,73.3 411.5,71.7 412.5,70.1 413.5,68.5 414.5,66.7 415.5,64.9 416.5,62.9 417.5,60.8 418.5,58.6 419.5,56.4 420.5,54.0 421.5,51.5 422.5,49.1 423.5,46.8 424.5,44.9 425.5,43.3 426.5,42.1 427.5,41.1 428.5,40.5 429.5,40.0 430.5,39.6 431.5,39.3 432.5,39.0 433.5,38.5 434.5,37.8 435.5,36.9 436.5,36.0 437.5,34.9 438.5,33.9 439.5,32.9 440.5,32.1 441.5,31.4 442.5,30.9 443.5,30.8 444.5,31.0 445.5,31.5 446.5,32.2 447.5,33.2 448.5,34.4 449.5,35.8 450.5,37.3 451.5,38.8 452.5,40.5 453.5,42.3 454.5,44.1 455.5,46.1 456.5,48.1 457.5,50.1 458.5,52.2 459.5,54.3 460.5,56.4 461.5,58.4 462.5,60.2 463.5,61.9 464.5,63.4 465.5,64.8 466.5,65.9 467.5,66.9 468.5,67.7 469.5,68.3 470.5,68.7 471.5,68.9 472.5,68.9 473.5,68.8 474.5,68.5 475.5,68.1 476.5,67.5 477.5,66.8 478.5,66.0 479.5,65.1 480.5,64.1 481.5,63.1 482.5,62.0 483.5,60.8 484.5,59.6 485.5,58.3 486.5,57.1 487.5,55.8 488.5,54.6 489.5,53.3 490.5,52.1 491.5,50.9 492.5,49.8 493.5,48.7 494.5,47.6 495.5,46.7 496.5,45.8 497.5,44.9 498.5,44.2 499.5,43.5 500.5,42.9 501.5,42.4 502.5,42.0 503.5,41.7 504.5,41.4 505.5,41.3 506.5,41.4 507.5,41.5 508.5,41.8 509.5,42.3 510.5,42.9 511.5,43.6 512.5,44.4 513.5,45.3 514.5,46.3 515.5,47.4 516.5,48.5 517.5,49.8 518.5,51.0 519.5,52.4 520.5,53.8 521.5,55.3 522.5,56.8 523.5,58.3 524.5,59.9 525.5,61.4 526.5,62.9 527.5,64.4 528.5,65.8 529.5,67.1 530.5,68.4 531.5,69.5 532.5,70.5 533.5,71.4 534.5,72.2 535.5,72.9 536.5,73.6 537.5,74.2 538.5,74.7 539.5,75.2 540.5,75.7 541.5,76.1 542.5,76.5 543.5,76.9 544.5,77.2 545.5,77.6 546.5,77.9 547.5,78.1 548.5,78.3 549.5,78.6 550.5,78.8 551.5,78.9 552.5,79.1 553.5,79.2 554.5,79.3 555.5,79.4 556.5,79.5 557.5,79.5 558.5,79.6 559.5,79.6 560.5,79.7 561.5,79.7 562.5,79.7 563.5,79.7 564.5,79.7 565.5,79.7 566.5,79.7 567.5,79.7" fill="none" stroke="#e5378f" stroke-width="1.6" stroke-linejoin="round" />
<path d="M320.5,144.4 567.5,143.9" fill="none" stroke="#9fd27e" stroke-width="1.1" stroke-linejoin="round" />
<path d="M390.5,144.1 391.5,144.1 392.5,144.0 393.5,144.0 394.5,143.9 395.5,143.8 396.5,143.6 397.5,143.4 398.5,143.2 399.5,142.9 400.5,142.5 401.5,142.0 402.5,141.5 403.5,140.8 404.5,140.0 405.5,139.1 406.5,138.1 407.5,136.8 408.5,135.4 409.5,133.9 410.5,132.1 411.5,130.2 412.5,128.0 413.5,125.7 414.5,123.3 415.5,120.7 416.5,118.1 417.5,115.4 418.5,112.6 419.5,109.9 420.5,107.2 421.5,104.7 422.5,102.3 423.5,100.1 424.5,98.3 425.5,96.7 426.5,95.5 427.5,94.6 428.5,94.2 429.5,94.1 430.5,94.5 431.5,95.2 432.5,96.4 433.5,97.9 434.5,99.7 435.5,101.8 436.5,104.1 437.5,106.7 438.5,109.3 439.5,112.0 440.5,114.8 441.5,117.5 442.5,120.2 443.5,122.7 444.5,125.2 445.5,127.5 446.5,129.7 447.5,131.6 448.5,133.4 449.5,135.0 450.5,136.5 451.5,137.7 452.5,138.8 453.5,139.8 454.5,140.6 455.5,141.3 456.5,141.8 457.5,142.3 458.5,142.7 459.5,143.0 460.5,143.2 461.5,143.4 462.5,143.6 463.5,143.7 464.5,143.8 465.5,143.9 466.5,143.9 467.5,144.0" fill="none" stroke="#62b6e8" stroke-width="1.2" stroke-linejoin="round" />
<path d="M451.5,144.0 452.5,144.0 453.5,143.9 454.5,143.8 455.5,143.7 456.5,143.6 457.5,143.5 458.5,143.3 459.5,143.1 460.5,142.8 461.5,142.5 462.5,142.1 463.5,141.6 464.5,141.1 465.5,140.5 466.5,139.8 467.5,139.0 468.5,138.0 469.5,137.0 470.5,135.8 471.5,134.5 472.5,133.1 473.5,131.5 474.5,129.9 475.5,128.1 476.5,126.3 477.5,124.3 478.5,122.4 479.5,120.3 480.5,118.3 481.5,116.3 482.5,114.4 483.5,112.6 484.5,110.9 485.5,109.3 486.5,107.9 487.5,106.7 488.5,105.8 489.5,105.1 490.5,104.7 491.5,104.6 492.5,104.7 493.5,105.1 494.5,105.8 495.5,106.7 496.5,107.9 497.5,109.3 498.5,110.8 499.5,112.5 500.5,114.4 501.5,116.3 502.5,118.3 503.5,120.3 504.5,122.3 505.5,124.3 506.5,126.2 507.5,128.0 508.5,129.8 509.5,131.5 510.5,133.0 511.5,134.4 512.5,135.7 513.5,136.9 514.5,137.9 515.5,138.9 516.5,139.7 517.5,140.4 518.5,141.0 519.5,141.5 520.5,142.0 521.5,142.4 522.5,142.7 523.5,142.9 524.5,143.1 525.5,143.3 526.5,143.5 527.5,143.6 528.5,143.7 529.5,143.7 530.5,143.8 531.5,143.8" fill="none" stroke="#62b6e8" stroke-width="1.2" stroke-linejoin="round" />
<path d="M377.5,144.1 378.5,144.1 379.5,144.0 380.5,143.9 381.5,143.8 382.5,143.6 383.5,143.4 384.5,143.1 385.5,142.8 386.5,142.4 387.5,141.9 388.5,141.3 389.5,140.6 390.5,139.8 391.5,138.8 392.5,137.8 393.5,136.6 394.5,135.3 395.5,133.9 396.5,132.3 397.5,130.7 398.5,129.1 399.5,127.4 400.5,125.7 401.5,124.1 402.5,122.6 403.5,121.2 404.5,119.9 405.5,118.9 406.5,118.1 407.5,117.5 408.5,117.3 409.5,117.3 410.5,117.5 411.5,118.1 412.5,118.9 413.5,119.9 414.5,121.2 415.5,122.6 416.5,124.1 417.5,125.7 418.5,127.4 419.5,129.0 420.5,130.7 421.5,132.3 422.5,133.8 423.5,135.2 424.5,136.5 425.5,137.7 426.5,138.8 427.5,139.7 428.5,140.5 429.5,141.2 430.5,141.8 431.5,142.3 432.5,142.7 433.5,143.0 434.5,143.3 435.5,143.5 436.5,143.7 437.5,143.8 438.5,143.9 439.5,144.0 440.5,144.0" fill="none" stroke="#9fd27e" stroke-width="1.2" stroke-linejoin="round" />
<path d="M434.5,144.1 435.5,144.0 436.5,144.0 437.5,143.9 438.5,143.8 439.5,143.7 440.5,143.6 441.5,143.5 442.5,143.3 443.5,143.1 444.5,142.9 445.5,142.6 446.5,142.3 447.5,141.9 448.5,141.5 449.5,141.0 450.5,140.5 451.5,140.0 452.5,139.4 453.5,138.7 454.5,138.0 455.5,137.3 456.5,136.6 457.5,135.8 458.5,135.0 459.5,134.3 460.5,133.6 461.5,132.9 462.5,132.3 463.5,131.7 464.5,131.2 465.5,130.8 466.5,130.6 467.5,130.4 468.5,130.3 469.5,130.3 470.5,130.5 471.5,130.8 472.5,131.1 473.5,131.6 474.5,132.1 475.5,132.7 476.5,133.4 477.5,134.1 478.5,134.8 479.5,135.6 480.5,136.4 481.5,137.1 482.5,137.8 483.5,138.5 484.5,139.2 485.5,139.8 486.5,140.4 487.5,140.9 488.5,141.3 489.5,141.8 490.5,142.1 491.5,142.4 492.5,142.7 493.5,143.0 494.5,143.2 495.5,143.3 496.5,143.5 497.5,143.6 498.5,143.7 499.5,143.8 500.5,143.8 501.5,143.9 502.5,143.9" fill="none" stroke="#9fd27e" stroke-width="1.2" stroke-linejoin="round" />
<g fill="none" stroke="#86d3d6" stroke-width="0.8"><circle cx="322.3" cy="142.6" r="2.3"/><circle cx="324.6" cy="142.9" r="2.3"/><circle cx="326.3" cy="143.5" r="2.3"/><circle cx="329.2" cy="141.5" r="2.3"/><circle cx="330.8" cy="142.2" r="2.3"/><circle cx="333.3" cy="144.3" r="2.3"/><circle cx="335.5" cy="143.7" r="2.3"/><circle cx="337.4" cy="143.0" r="2.3"/><circle cx="340.3" cy="142.9" r="2.3"/><circle cx="342.3" cy="142.5" r="2.3"/><circle cx="343.9" cy="142.9" r="2.3"/><circle cx="346.6" cy="143.2" r="2.3"/><circle cx="348.2" cy="141.8" r="2.3"/><circle cx="350.9" cy="143.5" r="2.3"/><circle cx="353.5" cy="143.1" r="2.3"/><circle cx="355.7" cy="143.1" r="2.3"/><circle cx="357.8" cy="142.2" r="2.3"/><circle cx="360.1" cy="142.4" r="2.3"/><circle cx="361.5" cy="143.9" r="2.3"/><circle cx="363.8" cy="141.8" r="2.3"/><circle cx="366.2" cy="144.4" r="2.3"/><circle cx="368.3" cy="143.6" r="2.3"/><circle cx="370.6" cy="143.5" r="2.3"/><circle cx="373.0" cy="143.3" r="2.3"/><circle cx="375.5" cy="144.1" r="2.3"/><circle cx="377.7" cy="144.5" r="2.3"/><circle cx="380.0" cy="144.9" r="2.3"/><circle cx="381.4" cy="143.9" r="2.3"/><circle cx="384.4" cy="143.7" r="2.3"/><circle cx="386.2" cy="142.7" r="2.3"/><circle cx="388.0" cy="140.4" r="2.3"/><circle cx="390.6" cy="138.1" r="2.3"/><circle cx="392.3" cy="132.9" r="2.3"/><circle cx="395.4" cy="130.5" r="2.3"/><circle cx="397.4" cy="124.1" r="2.3"/><circle cx="399.0" cy="121.2" r="2.3"/><circle cx="401.8" cy="116.8" r="2.3"/><circle cx="403.2" cy="114.3" r="2.3"/><circle cx="405.4" cy="109.2" r="2.3"/><circle cx="407.9" cy="105.6" r="2.3"/><circle cx="410.8" cy="102.8" r="2.3"/><circle cx="413.0" cy="99.0" r="2.3"/><circle cx="414.3" cy="96.1" r="2.3"/><circle cx="416.4" cy="95.1" r="2.3"/><circle cx="419.0" cy="92.1" r="2.3"/><circle cx="421.0" cy="91.8" r="2.3"/><circle cx="423.9" cy="88.9" r="2.3"/><circle cx="426.2" cy="89.1" r="2.3"/><circle cx="427.8" cy="91.0" r="2.3"/><circle cx="430.1" cy="90.9" r="2.3"/><circle cx="432.4" cy="93.8" r="2.3"/><circle cx="434.6" cy="97.1" r="2.3"/><circle cx="436.7" cy="102.9" r="2.3"/><circle cx="439.1" cy="106.7" r="2.3"/><circle cx="440.9" cy="111.3" r="2.3"/><circle cx="443.3" cy="118.0" r="2.3"/><circle cx="445.0" cy="121.1" r="2.3"/><circle cx="447.8" cy="124.9" r="2.3"/><circle cx="450.0" cy="126.9" r="2.3"/><circle cx="451.7" cy="130.6" r="2.3"/><circle cx="454.3" cy="131.4" r="2.3"/><circle cx="456.4" cy="131.3" r="2.3"/><circle cx="458.9" cy="130.4" r="2.3"/><circle cx="460.5" cy="126.8" r="2.3"/><circle cx="463.6" cy="126.9" r="2.3"/><circle cx="465.3" cy="123.5" r="2.3"/><circle cx="467.3" cy="122.5" r="2.3"/><circle cx="469.5" cy="119.8" r="2.3"/><circle cx="472.0" cy="117.9" r="2.3"/><circle cx="474.0" cy="115.7" r="2.3"/><circle cx="475.8" cy="115.1" r="2.3"/><circle cx="478.7" cy="112.3" r="2.3"/><circle cx="480.4" cy="109.2" r="2.3"/><circle cx="482.6" cy="108.5" r="2.3"/><circle cx="485.0" cy="104.7" r="2.3"/><circle cx="486.9" cy="104.6" r="2.3"/><circle cx="489.3" cy="102.4" r="2.3"/><circle cx="491.6" cy="103.6" r="2.3"/><circle cx="493.6" cy="104.2" r="2.3"/><circle cx="496.3" cy="104.0" r="2.3"/><circle cx="498.3" cy="107.5" r="2.3"/><circle cx="500.1" cy="107.9" r="2.3"/><circle cx="502.4" cy="111.5" r="2.3"/><circle cx="505.2" cy="115.2" r="2.3"/><circle cx="506.9" cy="116.1" r="2.3"/><circle cx="509.4" cy="120.7" r="2.3"/><circle cx="511.3" cy="123.2" r="2.3"/><circle cx="513.5" cy="123.5" r="2.3"/><circle cx="515.7" cy="127.6" r="2.3"/><circle cx="518.0" cy="128.3" r="2.3"/><circle cx="520.2" cy="130.4" r="2.3"/><circle cx="522.2" cy="133.9" r="2.3"/><circle cx="525.1" cy="133.0" r="2.3"/><circle cx="527.4" cy="137.3" r="2.3"/><circle cx="529.6" cy="137.5" r="2.3"/><circle cx="531.0" cy="140.3" r="2.3"/><circle cx="533.8" cy="140.8" r="2.3"/><circle cx="535.7" cy="141.3" r="2.3"/><circle cx="537.7" cy="140.7" r="2.3"/><circle cx="539.7" cy="141.0" r="2.3"/><circle cx="542.1" cy="142.4" r="2.3"/><circle cx="544.0" cy="143.3" r="2.3"/><circle cx="546.9" cy="143.8" r="2.3"/><circle cx="549.3" cy="143.9" r="2.3"/><circle cx="551.2" cy="144.0" r="2.3"/><circle cx="553.5" cy="141.3" r="2.3"/><circle cx="555.3" cy="141.8" r="2.3"/><circle cx="557.7" cy="143.3" r="2.3"/><circle cx="560.3" cy="142.5" r="2.3"/><circle cx="561.9" cy="143.0" r="2.3"/><circle cx="564.7" cy="141.8" r="2.3"/></g>
<path d="M320.5,144.3 321.5,144.2 322.5,144.2 323.5,144.1 324.5,144.0 325.5,144.0 326.5,143.9 327.5,143.9 328.5,143.8 329.5,143.8 330.5,143.7 331.5,143.7 332.5,143.6 333.5,143.6 334.5,143.5 335.5,143.5 336.5,143.5 337.5,143.4 338.5,143.4 339.5,143.4 340.5,143.3 341.5,143.3 342.5,143.3 343.5,143.2 344.5,143.2 345.5,143.2 346.5,143.2 347.5,143.2 348.5,143.2 349.5,143.2 350.5,143.2 351.5,143.2 352.5,143.2 353.5,143.2 354.5,143.2 355.5,143.3 356.5,143.3 357.5,143.3 358.5,143.4 359.5,143.4 360.5,143.5 361.5,143.5 362.5,143.6 363.5,143.6 364.5,143.7 365.5,143.8 366.5,143.9 367.5,144.0 368.5,144.0 369.5,144.1 370.5,144.3 371.5,144.4 372.5,144.5 373.5,144.6 374.5,144.7 375.5,144.7 376.5,144.7 377.5,144.7 378.5,144.7 379.5,144.6 380.5,144.4 381.5,144.2 382.5,143.9 383.5,143.6 384.5,143.2 385.5,142.6 386.5,142.0 387.5,141.2 388.5,140.3 389.5,139.2 390.5,137.9 391.5,136.4 392.5,134.7 393.5,132.9 394.5,131.0 395.5,129.1 396.5,127.2 397.5,125.4 398.5,123.7 399.5,121.9 400.5,120.1 401.5,118.3 402.5,116.4 403.5,114.4 404.5,112.4 405.5,110.4 406.5,108.5 407.5,106.8 408.5,105.1 409.5,103.6 410.5,102.2 411.5,100.9 412.5,99.7 413.5,98.7 414.5,97.7 415.5,96.8 416.5,95.9 417.5,95.1 418.5,94.3 419.5,93.5 420.5,92.8 421.5,92.1 422.5,91.6 423.5,91.1 424.5,90.7 425.5,90.5 426.5,90.4 427.5,90.5 428.5,90.8 429.5,91.4 430.5,92.1 431.5,93.2 432.5,94.4 433.5,96.0 434.5,97.7 435.5,99.7 436.5,101.9 437.5,104.3 438.5,106.7 439.5,109.2 440.5,111.5 441.5,113.7 442.5,115.8 443.5,117.7 444.5,119.7 445.5,121.7 446.5,123.7 447.5,125.6 448.5,127.3 449.5,128.7 450.5,129.8 451.5,130.6 452.5,131.2 453.5,131.6 454.5,131.8 455.5,131.8 456.5,131.6 457.5,131.2 458.5,130.7 459.5,130.1 460.5,129.4 461.5,128.5 462.5,127.7 463.5,126.8 464.5,125.8 465.5,124.8 466.5,123.9 467.5,123.0 468.5,122.1 469.5,121.2 470.5,120.3 471.5,119.4 472.5,118.6 473.5,117.7 474.5,116.8 475.5,115.8 476.5,114.9 477.5,113.9 478.5,112.9 479.5,111.8 480.5,110.8 481.5,109.8 482.5,108.8 483.5,107.8 484.5,106.9 485.5,106.1 486.5,105.3 487.5,104.7 488.5,104.2 489.5,103.8 490.5,103.5 491.5,103.4 492.5,103.5 493.5,103.8 494.5,104.2 495.5,104.8 496.5,105.6 497.5,106.4 498.5,107.4 499.5,108.4 500.5,109.6 501.5,110.7 502.5,112.0 503.5,113.2 504.5,114.5 505.5,115.8 506.5,117.1 507.5,118.4 508.5,119.6 509.5,120.8 510.5,122.0 511.5,123.1 512.5,124.1 513.5,125.2 514.5,126.2 515.5,127.1 516.5,128.1 517.5,129.0 518.5,129.9 519.5,130.8 520.5,131.7 521.5,132.5 522.5,133.4 523.5,134.3 524.5,135.1 525.5,135.9 526.5,136.7 527.5,137.4 528.5,138.1 529.5,138.8 530.5,139.4 531.5,139.9 532.5,140.4 533.5,140.8 534.5,141.2 535.5,141.5 536.5,141.8 537.5,142.1 538.5,142.3 539.5,142.5 540.5,142.6 541.5,142.8 542.5,142.9 543.5,143.0 544.5,143.1 545.5,143.2 546.5,143.3 547.5,143.4 548.5,143.5 549.5,143.5 550.5,143.5 551.5,143.6 552.5,143.6 553.5,143.6 554.5,143.6 555.5,143.6 556.5,143.6 557.5,143.6 558.5,143.6 559.5,143.5 560.5,143.5 561.5,143.5 562.5,143.4 563.5,143.4 564.5,143.4 565.5,143.3 566.5,143.3 567.5,143.2" fill="none" stroke="#e5378f" stroke-width="1.6" stroke-linejoin="round" />
<path d="M320.5,208.6 567.5,205.8" fill="none" stroke="#2ba5a6" stroke-width="1.1" stroke-linejoin="round" />
<path d="M401.5,207.5 402.5,207.5 403.5,207.4 404.5,207.2 405.5,207.1 406.5,206.8 407.5,206.5 408.5,206.2 409.5,205.7 410.5,205.1 411.5,204.3 412.5,203.4 413.5,202.2 414.5,200.9 415.5,199.3 416.5,197.5 417.5,195.3 418.5,193.0 419.5,190.3 420.5,187.5 421.5,184.4 422.5,181.2 423.5,178.0 424.5,174.7 425.5,171.5 426.5,168.4 427.5,165.6 428.5,163.1 429.5,161.0 430.5,159.4 431.5,158.3 432.5,157.9 433.5,158.0 434.5,158.7 435.5,159.9 436.5,161.7 437.5,163.9 438.5,166.5 439.5,169.4 440.5,172.6 441.5,175.8 442.5,179.1 443.5,182.3 444.5,185.4 445.5,188.4 446.5,191.1 447.5,193.6 448.5,195.9 449.5,197.8 450.5,199.6 451.5,201.0 452.5,202.3 453.5,203.3 454.5,204.1 455.5,204.8 456.5,205.4 457.5,205.8 458.5,206.1 459.5,206.3 460.5,206.5 461.5,206.7 462.5,206.7 463.5,206.8 464.5,206.9" fill="none" stroke="#62b6e8" stroke-width="1.2" stroke-linejoin="round" />
<path d="M466.5,206.8 467.5,206.8 468.5,206.7 469.5,206.6 470.5,206.5 471.5,206.3 472.5,206.1 473.5,205.8 474.5,205.4 475.5,205.0 476.5,204.5 477.5,203.8 478.5,203.1 479.5,202.1 480.5,201.0 481.5,199.8 482.5,198.3 483.5,196.7 484.5,194.9 485.5,192.9 486.5,190.7 487.5,188.4 488.5,186.0 489.5,183.5 490.5,180.9 491.5,178.4 492.5,176.0 493.5,173.7 494.5,171.7 495.5,169.9 496.5,168.4 497.5,167.2 498.5,166.4 499.5,166.1 500.5,166.2 501.5,166.7 502.5,167.6 503.5,168.8 504.5,170.4 505.5,172.3 506.5,174.5 507.5,176.8 508.5,179.2 509.5,181.7 510.5,184.2 511.5,186.7 512.5,189.0 513.5,191.3 514.5,193.4 515.5,195.3 516.5,197.0 517.5,198.5 518.5,199.9 519.5,201.1 520.5,202.1 521.5,202.9 522.5,203.6 523.5,204.2 524.5,204.6 525.5,205.0 526.5,205.3 527.5,205.5 528.5,205.7 529.5,205.8 530.5,205.9 531.5,206.0 532.5,206.1" fill="none" stroke="#62b6e8" stroke-width="1.2" stroke-linejoin="round" />
<path d="M393.5,207.7 394.5,207.6 395.5,207.5 396.5,207.4 397.5,207.2 398.5,207.0 399.5,206.7 400.5,206.4 401.5,205.9 402.5,205.3 403.5,204.6 404.5,203.7 405.5,202.7 406.5,201.5 407.5,200.2 408.5,198.7 409.5,197.1 410.5,195.4 411.5,193.8 412.5,192.1 413.5,190.6 414.5,189.2 415.5,188.1 416.5,187.2 417.5,186.7 418.5,186.5 419.5,186.7 420.5,187.2 421.5,188.0 422.5,189.1 423.5,190.5 424.5,192.0 425.5,193.6 426.5,195.3 427.5,196.9 428.5,198.5 429.5,199.9 430.5,201.2 431.5,202.4 432.5,203.4 433.5,204.3 434.5,205.0 435.5,205.5 436.5,206.0 437.5,206.3 438.5,206.6 439.5,206.8 440.5,206.9 441.5,207.0 442.5,207.1" fill="none" stroke="#9fd27e" stroke-width="1.2" stroke-linejoin="round" />
<path d="M459.5,206.9 460.5,206.8 461.5,206.7 462.5,206.6 463.5,206.5 464.5,206.3 465.5,206.0 466.5,205.7 467.5,205.3 468.5,204.9 469.5,204.3 470.5,203.6 471.5,202.9 472.5,202.0 473.5,201.1 474.5,200.0 475.5,198.9 476.5,197.8 477.5,196.6 478.5,195.4 479.5,194.3 480.5,193.2 481.5,192.3 482.5,191.5 483.5,190.9 484.5,190.4 485.5,190.2 486.5,190.3 487.5,190.5 488.5,191.0 489.5,191.7 490.5,192.5 491.5,193.5 492.5,194.6 493.5,195.7 494.5,196.9 495.5,198.0 496.5,199.1 497.5,200.2 498.5,201.2 499.5,202.1 500.5,202.9 501.5,203.6 502.5,204.2 503.5,204.6 504.5,205.1 505.5,205.4 506.5,205.7 507.5,205.9 508.5,206.0 509.5,206.1 510.5,206.2 511.5,206.3 512.5,206.3" fill="none" stroke="#9fd27e" stroke-width="1.2" stroke-linejoin="round" />
<g fill="none" stroke="#86d3d6" stroke-width="0.8"><circle cx="321.9" cy="207.3" r="2.3"/><circle cx="324.2" cy="207.8" r="2.3"/><circle cx="326.6" cy="206.9" r="2.3"/><circle cx="329.2" cy="209.5" r="2.3"/><circle cx="330.8" cy="209.0" r="2.3"/><circle cx="333.1" cy="208.4" r="2.3"/><circle cx="335.1" cy="207.3" r="2.3"/><circle cx="338.1" cy="207.4" r="2.3"/><circle cx="340.2" cy="209.3" r="2.3"/><circle cx="341.8" cy="209.2" r="2.3"/><circle cx="344.4" cy="207.8" r="2.3"/><circle cx="346.9" cy="209.0" r="2.3"/><circle cx="348.3" cy="209.5" r="2.3"/><circle cx="351.1" cy="208.7" r="2.3"/><circle cx="352.8" cy="208.4" r="2.3"/><circle cx="354.9" cy="208.3" r="2.3"/><circle cx="357.9" cy="209.6" r="2.3"/><circle cx="359.5" cy="208.4" r="2.3"/><circle cx="362.0" cy="209.5" r="2.3"/><circle cx="364.4" cy="209.4" r="2.3"/><circle cx="366.2" cy="208.2" r="2.3"/><circle cx="368.4" cy="208.5" r="2.3"/><circle cx="370.5" cy="207.1" r="2.3"/><circle cx="372.4" cy="209.0" r="2.3"/><circle cx="375.2" cy="206.6" r="2.3"/><circle cx="377.3" cy="207.3" r="2.3"/><circle cx="379.3" cy="207.8" r="2.3"/><circle cx="381.4" cy="209.3" r="2.3"/><circle cx="383.6" cy="207.4" r="2.3"/><circle cx="385.9" cy="208.0" r="2.3"/><circle cx="388.5" cy="207.0" r="2.3"/><circle cx="390.6" cy="206.8" r="2.3"/><circle cx="392.3" cy="208.4" r="2.3"/><circle cx="394.6" cy="205.6" r="2.3"/><circle cx="397.2" cy="207.0" r="2.3"/><circle cx="399.1" cy="204.1" r="2.3"/><circle cx="401.5" cy="201.8" r="2.3"/><circle cx="403.9" cy="198.8" r="2.3"/><circle cx="406.4" cy="198.2" r="2.3"/><circle cx="408.6" cy="194.0" r="2.3"/><circle cx="410.1" cy="187.2" r="2.3"/><circle cx="412.8" cy="184.5" r="2.3"/><circle cx="415.1" cy="176.8" r="2.3"/><circle cx="417.2" cy="171.7" r="2.3"/><circle cx="418.8" cy="165.7" r="2.3"/><circle cx="420.9" cy="161.9" r="2.3"/><circle cx="424.0" cy="158.3" r="2.3"/><circle cx="425.2" cy="155.5" r="2.3"/><circle cx="427.6" cy="152.6" r="2.3"/><circle cx="430.0" cy="153.4" r="2.3"/><circle cx="431.9" cy="151.1" r="2.3"/><circle cx="434.4" cy="153.5" r="2.3"/><circle cx="436.3" cy="153.4" r="2.3"/><circle cx="438.6" cy="157.3" r="2.3"/><circle cx="440.7" cy="165.0" r="2.3"/><circle cx="443.3" cy="169.9" r="2.3"/><circle cx="446.0" cy="177.1" r="2.3"/><circle cx="447.7" cy="182.2" r="2.3"/><circle cx="449.8" cy="188.8" r="2.3"/><circle cx="452.1" cy="193.3" r="2.3"/><circle cx="454.2" cy="194.2" r="2.3"/><circle cx="456.4" cy="196.4" r="2.3"/><circle cx="459.1" cy="199.3" r="2.3"/><circle cx="460.9" cy="202.9" r="2.3"/><circle cx="462.9" cy="201.7" r="2.3"/><circle cx="465.0" cy="202.7" r="2.3"/><circle cx="467.9" cy="202.1" r="2.3"/><circle cx="469.3" cy="200.4" r="2.3"/><circle cx="472.0" cy="200.6" r="2.3"/><circle cx="474.0" cy="197.9" r="2.3"/><circle cx="476.5" cy="194.2" r="2.3"/><circle cx="478.7" cy="190.1" r="2.3"/><circle cx="480.3" cy="185.2" r="2.3"/><circle cx="483.3" cy="180.3" r="2.3"/><circle cx="485.5" cy="178.3" r="2.3"/><circle cx="487.5" cy="172.8" r="2.3"/><circle cx="489.6" cy="170.7" r="2.3"/><circle cx="491.7" cy="167.7" r="2.3"/><circle cx="494.1" cy="165.0" r="2.3"/><circle cx="496.5" cy="162.5" r="2.3"/><circle cx="497.9" cy="164.4" r="2.3"/><circle cx="501.0" cy="165.5" r="2.3"/><circle cx="502.2" cy="166.7" r="2.3"/><circle cx="504.5" cy="170.3" r="2.3"/><circle cx="507.3" cy="174.0" r="2.3"/><circle cx="509.0" cy="174.9" r="2.3"/><circle cx="511.6" cy="180.3" r="2.3"/><circle cx="514.1" cy="184.1" r="2.3"/><circle cx="515.4" cy="185.8" r="2.3"/><circle cx="517.6" cy="191.0" r="2.3"/><circle cx="519.9" cy="193.8" r="2.3"/><circle cx="522.8" cy="196.1" r="2.3"/><circle cx="524.8" cy="198.6" r="2.3"/><circle cx="526.6" cy="200.6" r="2.3"/><circle cx="528.9" cy="201.6" r="2.3"/><circle cx="531.6" cy="203.6" r="2.3"/><circle cx="533.5" cy="203.3" r="2.3"/><circle cx="535.2" cy="202.6" r="2.3"/><circle cx="537.9" cy="204.8" r="2.3"/><circle cx="540.2" cy="205.9" r="2.3"/><circle cx="542.2" cy="204.0" r="2.3"/><circle cx="544.5" cy="206.0" r="2.3"/><circle cx="547.0" cy="203.9" r="2.3"/><circle cx="548.5" cy="206.5" r="2.3"/><circle cx="551.0" cy="205.7" r="2.3"/><circle cx="553.1" cy="206.5" r="2.3"/><circle cx="555.5" cy="204.8" r="2.3"/><circle cx="557.3" cy="207.0" r="2.3"/><circle cx="560.0" cy="204.4" r="2.3"/><circle cx="562.1" cy="206.7" r="2.3"/><circle cx="564.7" cy="205.3" r="2.3"/></g>
<path d="M320.5,208.9 321.5,208.9 322.5,208.9 323.5,208.9 324.5,209.0 325.5,209.0 326.5,209.0 327.5,209.0 328.5,209.0 329.5,209.0 330.5,209.0 331.5,209.0 332.5,209.0 333.5,209.1 334.5,209.1 335.5,209.1 336.5,209.1 337.5,209.1 338.5,209.1 339.5,209.1 340.5,209.1 341.5,209.1 342.5,209.1 343.5,209.1 344.5,209.1 345.5,209.1 346.5,209.1 347.5,209.1 348.5,209.2 349.5,209.2 350.5,209.2 351.5,209.1 352.5,209.1 353.5,209.1 354.5,209.1 355.5,209.1 356.5,209.1 357.5,209.1 358.5,209.1 359.5,209.1 360.5,209.1 361.5,209.1 362.5,209.1 363.5,209.1 364.5,209.0 365.5,209.0 366.5,209.0 367.5,209.0 368.5,209.0 369.5,209.0 370.5,208.9 371.5,208.9 372.5,208.9 373.5,208.9 374.5,208.8 375.5,208.8 376.5,208.8 377.5,208.7 378.5,208.7 379.5,208.7 380.5,208.6 381.5,208.6 382.5,208.5 383.5,208.5 384.5,208.5 385.5,208.4 386.5,208.4 387.5,208.3 388.5,208.3 389.5,208.2 390.5,208.1 391.5,208.1 392.5,208.0 393.5,207.9 394.5,207.8 395.5,207.5 396.5,207.2 397.5,206.8 398.5,206.2 399.5,205.5 400.5,204.6 401.5,203.6 402.5,202.5 403.5,201.2 404.5,199.8 405.5,198.4 406.5,196.8 407.5,195.2 408.5,193.3 409.5,191.3 410.5,189.0 411.5,186.5 412.5,183.9 413.5,181.2 414.5,178.4 415.5,175.7 416.5,173.2 417.5,170.7 418.5,168.4 419.5,166.3 420.5,164.4 421.5,162.6 422.5,160.9 423.5,159.5 424.5,158.2 425.5,157.0 426.5,156.0 427.5,155.1 428.5,154.3 429.5,153.7 430.5,153.1 431.5,152.8 432.5,152.5 433.5,152.6 434.5,152.9 435.5,153.6 436.5,154.8 437.5,156.4 438.5,158.5 439.5,160.9 440.5,163.6 441.5,166.5 442.5,169.6 443.5,172.7 444.5,175.7 445.5,178.6 446.5,181.3 447.5,183.7 448.5,185.9 449.5,188.0 450.5,189.9 451.5,191.6 452.5,193.2 453.5,194.7 454.5,196.1 455.5,197.4 456.5,198.6 457.5,199.7 458.5,200.7 459.5,201.6 460.5,202.4 461.5,203.1 462.5,203.6 463.5,204.0 464.5,204.2 465.5,204.3 466.5,204.1 467.5,203.7 468.5,203.2 469.5,202.5 470.5,201.6 471.5,200.5 472.5,199.3 473.5,198.0 474.5,196.6 475.5,195.1 476.5,193.5 477.5,191.8 478.5,190.0 479.5,188.2 480.5,186.4 481.5,184.5 482.5,182.7 483.5,180.8 484.5,179.0 485.5,177.2 486.5,175.4 487.5,173.7 488.5,172.1 489.5,170.6 490.5,169.1 491.5,167.8 492.5,166.7 493.5,165.7 494.5,164.9 495.5,164.3 496.5,163.9 497.5,163.7 498.5,163.8 499.5,164.2 500.5,164.8 501.5,165.7 502.5,166.8 503.5,168.0 504.5,169.3 505.5,170.8 506.5,172.4 507.5,174.0 508.5,175.7 509.5,177.4 510.5,179.0 511.5,180.7 512.5,182.3 513.5,183.8 514.5,185.4 515.5,186.9 516.5,188.3 517.5,189.7 518.5,191.1 519.5,192.4 520.5,193.7 521.5,194.9 522.5,196.0 523.5,197.1 524.5,198.1 525.5,199.0 526.5,199.9 527.5,200.7 528.5,201.5 529.5,202.2 530.5,202.8 531.5,203.3 532.5,203.8 533.5,204.2 534.5,204.5 535.5,204.8 536.5,205.0 537.5,205.3 538.5,205.4 539.5,205.6 540.5,205.7 541.5,205.8 542.5,205.9 543.5,206.0 544.5,206.0 545.5,206.1 546.5,206.2 547.5,206.2 548.5,206.3 549.5,206.3 550.5,206.3 551.5,206.4 552.5,206.4 553.5,206.4 554.5,206.4 555.5,206.4 556.5,206.4 557.5,206.4 558.5,206.4 559.5,206.4 560.5,206.4 561.5,206.4 562.5,206.3 563.5,206.3 564.5,206.3 565.5,206.3 566.5,206.2 567.5,206.2" fill="none" stroke="#e5378f" stroke-width="1.6" stroke-linejoin="round" />
<line x1="434.00" y1="30.50" x2="434.00" y2="168.90" stroke="#2a2a2a" stroke-width="1.9" stroke-dasharray="3.6,3.2"/>
<line x1="500.70" y1="40.50" x2="500.70" y2="177.00" stroke="#2a2a2a" stroke-width="1.9" stroke-dasharray="3.6,3.2"/>
<line x1="443.20" y1="27.40" x2="443.20" y2="54.40" stroke="#ee4d4a" stroke-width="1.6" stroke-dasharray="3.2,3"/>
<line x1="508.70" y1="36.20" x2="508.70" y2="63.50" stroke="#ee4d4a" stroke-width="1.6" stroke-dasharray="3.2,3"/>
<line x1="429.10" y1="82.00" x2="429.10" y2="106.00" stroke="#ee4d4a" stroke-width="1.6" stroke-dasharray="3.2,3"/>
<line x1="492.50" y1="96.80" x2="492.50" y2="121.30" stroke="#ee4d4a" stroke-width="1.6" stroke-dasharray="3.2,3"/>
<line x1="322" y1="24" x2="352" y2="24" stroke="#62b6e8" stroke-width="1.6"/>
<line x1="322" y1="41.8" x2="352" y2="41.8" stroke="#9fd27e" stroke-width="1.6"/>
<text x="354.80" y="29.00" font-size="12.5" text-anchor="start" fill="#231f20" >W<tspan font-size="8.6" dy="-4.6">6+</tspan></text>
<text x="354.80" y="46.10" font-size="12.5" text-anchor="start" fill="#231f20" >W<tspan font-size="8.6" dy="-4.6">5+</tspan></text>
<text x="393.00" y="26.80" font-size="12.5" text-anchor="start" fill="#231f20" >W 4f<tspan font-size="8.6" dy="3.4">7/2</tspan></text>
<text x="476.60" y="26.70" font-size="12.5" text-anchor="start" fill="#231f20" >W 4f<tspan font-size="8.6" dy="3.4">5/2</tspan></text>
<text x="563.40" y="28.90" font-size="13" text-anchor="end" fill="#231f20" >W 4f</text>
<text x="321.10" y="71.10" font-size="12.5" text-anchor="start" fill="#231f20" >WZC30-Light</text>
<text x="320.70" y="132.90" font-size="12.5" text-anchor="start" fill="#231f20" >WZC30-Dark</text>
<text x="321.10" y="201.00" font-size="12.5" text-anchor="start" fill="#231f20" >WO<tspan font-size="8.6" dy="3.4">3</tspan></text>
<line x1="415.90" y1="32.00" x2="421.87" y2="51.76" stroke="#2f3c9e" stroke-width="1.6"/>
<path d="M423.60,57.50 L418.51,51.72 L422.10,52.52 L424.64,49.87 Z" fill="#2f3c9e"/>
<line x1="429.80" y1="26.60" x2="438.11" y2="29.83" stroke="#2f3c9e" stroke-width="1.6"/>
<path d="M443.70,32.00 L436.02,32.45 L438.85,30.12 L438.33,26.48 Z" fill="#2f3c9e"/>
<line x1="488.70" y1="32.00" x2="486.08" y2="59.13" stroke="#701c24" stroke-width="1.6"/>
<path d="M485.50,65.10 L482.99,57.82 L486.00,59.92 L489.36,58.44 Z" fill="#701c24"/>
<line x1="495.00" y1="32.00" x2="503.59" y2="39.16" stroke="#701c24" stroke-width="1.6"/>
<path d="M508.20,43.00 L500.77,40.98 L504.21,39.67 L504.87,36.06 Z" fill="#701c24"/>
<text x="294.00" y="29.50" font-size="19.8" text-anchor="start" fill="#231f20" >(b)</text>
<rect x="35.6" y="265.2" width="247.50" height="199.80" fill="none" stroke="#2a2a2a" stroke-width="1.4"/>
<line x1="35.60" y1="465.00" x2="35.60" y2="468.20" stroke="#2a2a2a" stroke-width="1.3"/>
<text x="35.60" y="481.40" font-size="13" text-anchor="middle" fill="#231f20" >526</text>
<line x1="56.23" y1="465.00" x2="56.23" y2="466.80" stroke="#2a2a2a" stroke-width="1.3"/>
<line x1="76.85" y1="465.00" x2="76.85" y2="468.20" stroke="#2a2a2a" stroke-width="1.3"/>
<text x="76.85" y="481.40" font-size="13" text-anchor="middle" fill="#231f20" >528</text>
<line x1="97.48" y1="465.00" x2="97.48" y2="466.80" stroke="#2a2a2a" stroke-width="1.3"/>
<line x1="118.10" y1="465.00" x2="118.10" y2="468.20" stroke="#2a2a2a" stroke-width="1.3"/>
<text x="118.10" y="481.40" font-size="13" text-anchor="middle" fill="#231f20" >530</text>
<line x1="138.73" y1="465.00" x2="138.73" y2="466.80" stroke="#2a2a2a" stroke-width="1.3"/>
<line x1="159.35" y1="465.00" x2="159.35" y2="468.20" stroke="#2a2a2a" stroke-width="1.3"/>
<text x="159.35" y="481.40" font-size="13" text-anchor="middle" fill="#231f20" >532</text>
<line x1="179.98" y1="465.00" x2="179.98" y2="466.80" stroke="#2a2a2a" stroke-width="1.3"/>
<line x1="200.60" y1="465.00" x2="200.60" y2="468.20" stroke="#2a2a2a" stroke-width="1.3"/>
<text x="200.60" y="481.40" font-size="13" text-anchor="middle" fill="#231f20" >534</text>
<line x1="221.23" y1="465.00" x2="221.23" y2="466.80" stroke="#2a2a2a" stroke-width="1.3"/>
<line x1="241.85" y1="465.00" x2="241.85" y2="468.20" stroke="#2a2a2a" stroke-width="1.3"/>
<text x="241.85" y="481.40" font-size="13" text-anchor="middle" fill="#231f20" >536</text>
<line x1="262.48" y1="465.00" x2="262.48" y2="466.80" stroke="#2a2a2a" stroke-width="1.3"/>
<line x1="283.10" y1="465.00" x2="283.10" y2="468.20" stroke="#2a2a2a" stroke-width="1.3"/>
<text x="283.10" y="481.40" font-size="13" text-anchor="middle" fill="#231f20" >538</text>
<text x="159.35" y="499.90" font-size="13.3" text-anchor="middle" fill="#231f20" >Binding energy (eV)</text>
<text x="24.2" y="365.10" font-size="13.3" text-anchor="middle" fill="#231f20" transform="rotate(-90 24.2 365.10)">Intensity (a.u.)</text>
<path d="M36.3,332.6 282.3,332.4" fill="none" stroke="#f4ad55" stroke-width="1.1" stroke-linejoin="round" />
<path d="M36.3,332.3 37.3,332.3 38.3,332.3 39.3,332.3 40.3,332.3 41.3,332.3 42.3,332.3 43.3,332.3 44.3,332.3 45.3,332.3 46.3,332.2 47.3,332.2 48.3,332.2 49.3,332.2 50.3,332.2 51.3,332.2 52.3,332.2 53.3,332.2 54.3,332.2 55.3,332.2 56.3,332.2 57.3,332.1 58.3,332.1 59.3,332.1 60.3,332.1 61.3,332.1 62.3,332.1 63.3,332.1 64.3,332.1 65.3,332.1 66.3,332.0 67.3,332.0 68.3,332.0 69.3,332.0 70.3,332.0 71.3,332.0 72.3,331.9 73.3,331.9 74.3,331.9 75.3,331.9 76.3,331.9 77.3,331.8 78.3,331.8 79.3,331.8 80.3,331.8 81.3,331.7 82.3,331.7 83.3,331.7 84.3,331.7 85.3,331.6 86.3,331.6 87.3,331.6 88.3,331.5 89.3,331.5 90.3,331.5 91.3,331.4 92.3,331.4 93.3,331.3 94.3,331.3 95.3,331.2 96.3,331.2 97.3,331.1 98.3,331.0 99.3,331.0 100.3,330.9 101.3,330.8 102.3,330.7 103.3,330.7 104.3,330.5 105.3,330.4 106.3,330.3 107.3,330.2 108.3,330.0 109.3,329.8 110.3,329.6 111.3,329.3 112.3,329.0 113.3,328.6 114.3,328.2 115.3,327.8 116.3,327.2 117.3,326.6 118.3,325.8 119.3,324.9 120.3,324.0 121.3,322.8 122.3,321.5 123.3,320.1 124.3,318.5 125.3,316.7 126.3,314.8 127.3,312.7 128.3,310.4 129.3,307.9 130.3,305.3 131.3,302.6 132.3,299.8 133.3,296.9 134.3,294.0 135.3,291.2 136.3,288.4 137.3,285.7 138.3,283.3 139.3,281.1 140.3,279.3 141.3,277.9 142.3,277.0 143.3,276.5 144.3,276.6 145.3,277.3 146.3,278.4 147.3,280.0 148.3,281.9 149.3,284.2 150.3,286.7 151.3,289.5 152.3,292.3 153.3,295.2 154.3,298.1 155.3,300.9 156.3,303.7 157.3,306.4 158.3,308.9 159.3,311.3 160.3,313.5 161.3,315.6 162.3,317.4 163.3,319.1 164.3,320.7 165.3,322.0 166.3,323.3 167.3,324.3 168.3,325.3 169.3,326.1 170.3,326.8 171.3,327.4 172.3,327.9 173.3,328.4 174.3,328.7 175.3,329.1 176.3,329.4 177.3,329.6 178.3,329.8 179.3,330.0 180.3,330.2 181.3,330.3 182.3,330.4 183.3,330.5 184.3,330.6 185.3,330.7 186.3,330.8 187.3,330.9 188.3,330.9 189.3,331.0 190.3,331.1 191.3,331.1 192.3,331.2 193.3,331.2 194.3,331.3 195.3,331.3 196.3,331.3 197.3,331.4 198.3,331.4 199.3,331.5 200.3,331.5 201.3,331.5 202.3,331.5 203.3,331.6 204.3,331.6 205.3,331.6 206.3,331.7 207.3,331.7 208.3,331.7 209.3,331.7 210.3,331.7 211.3,331.8 212.3,331.8 213.3,331.8 214.3,331.8 215.3,331.8 216.3,331.8 217.3,331.9 218.3,331.9 219.3,331.9 220.3,331.9 221.3,331.9 222.3,331.9 223.3,331.9 224.3,332.0 225.3,332.0 226.3,332.0 227.3,332.0 228.3,332.0 229.3,332.0 230.3,332.0 231.3,332.0 232.3,332.0 233.3,332.0 234.3,332.0 235.3,332.1 236.3,332.1 237.3,332.1 238.3,332.1 239.3,332.1 240.3,332.1 241.3,332.1 242.3,332.1 243.3,332.1 244.3,332.1 245.3,332.1 246.3,332.1 247.3,332.1 248.3,332.1 249.3,332.1 250.3,332.1 251.3,332.1 252.3,332.1 253.3,332.2 254.3,332.2 255.3,332.2 256.3,332.2 257.3,332.2 258.3,332.2 259.3,332.2 260.3,332.2 261.3,332.2 262.3,332.2 263.3,332.2 264.3,332.2 265.3,332.2 266.3,332.2 267.3,332.2 268.3,332.2 269.3,332.2 270.3,332.2 271.3,332.2 272.3,332.2 273.3,332.2 274.3,332.2 275.3,332.2 276.3,332.2 277.3,332.2 278.3,332.2 279.3,332.2 280.3,332.2 281.3,332.2 282.3,332.2" fill="none" stroke="#62b6e8" stroke-width="1.2" stroke-linejoin="round" />
<path d="M128.3,332.4 129.3,332.3 130.3,332.3 131.3,332.2 132.3,332.1 133.3,332.0 134.3,331.9 135.3,331.8 136.3,331.6 137.3,331.4 138.3,331.1 139.3,330.8 140.3,330.5 141.3,330.1 142.3,329.6 143.3,329.1 144.3,328.5 145.3,327.8 146.3,327.0 147.3,326.1 148.3,325.2 149.3,324.2 150.3,323.1 151.3,321.9 152.3,320.7 153.3,319.4 154.3,318.1 155.3,316.7 156.3,315.4 157.3,314.0 158.3,312.6 159.3,311.3 160.3,310.1 161.3,308.9 162.3,307.8 163.3,306.9 164.3,306.1 165.3,305.4 166.3,304.9 167.3,304.6 168.3,304.5 169.3,304.6 170.3,304.8 171.3,305.2 172.3,305.8 173.3,306.5 174.3,307.4 175.3,308.4 176.3,309.6 177.3,310.8 178.3,312.1 179.3,313.4 180.3,314.8 181.3,316.2 182.3,317.5 183.3,318.9 184.3,320.2 185.3,321.4 186.3,322.6 187.3,323.7 188.3,324.8 189.3,325.8 190.3,326.6 191.3,327.4 192.3,328.1 193.3,328.8 194.3,329.4 195.3,329.8 196.3,330.3 197.3,330.7 198.3,331.0 199.3,331.2 200.3,331.5 201.3,331.7 202.3,331.8 203.3,331.9 204.3,332.1 205.3,332.1 206.3,332.2 207.3,332.3 208.3,332.3 209.3,332.3" fill="none" stroke="#9fd27e" stroke-width="1.2" stroke-linejoin="round" />
<path d="M155.3,332.4 156.3,332.3 157.3,332.3 158.3,332.2 159.3,332.1 160.3,331.9 161.3,331.7 162.3,331.4 163.3,331.1 164.3,330.7 165.3,330.2 166.3,329.6 167.3,329.0 168.3,328.2 169.3,327.3 170.3,326.3 171.3,325.2 172.3,324.1 173.3,322.9 174.3,321.7 175.3,320.5 176.3,319.4 177.3,318.4 178.3,317.4 179.3,316.7 180.3,316.1 181.3,315.8 182.3,315.7 183.3,315.8 184.3,316.1 185.3,316.7 186.3,317.4 187.3,318.4 188.3,319.4 189.3,320.5 190.3,321.7 191.3,322.9 192.3,324.1 193.3,325.2 194.3,326.3 195.3,327.3 196.3,328.2 197.3,328.9 198.3,329.6 199.3,330.2 200.3,330.7 201.3,331.1 202.3,331.4 203.3,331.7 204.3,331.9 205.3,332.0 206.3,332.2 207.3,332.2 208.3,332.3 209.3,332.4" fill="none" stroke="#e3e45a" stroke-width="1.2" stroke-linejoin="round" />
<g fill="none" stroke="#86d3d6" stroke-width="0.8"><circle cx="38.3" cy="332.0" r="2.3"/><circle cx="40.7" cy="332.4" r="2.3"/><circle cx="42.9" cy="332.4" r="2.3"/><circle cx="44.7" cy="331.4" r="2.3"/><circle cx="47.0" cy="332.9" r="2.3"/><circle cx="48.7" cy="332.9" r="2.3"/><circle cx="51.0" cy="332.3" r="2.3"/><circle cx="53.6" cy="332.5" r="2.3"/><circle cx="55.4" cy="331.7" r="2.3"/><circle cx="58.3" cy="332.2" r="2.3"/><circle cx="59.8" cy="333.0" r="2.3"/><circle cx="61.9" cy="333.0" r="2.3"/><circle cx="64.1" cy="332.7" r="2.3"/><circle cx="67.1" cy="331.7" r="2.3"/><circle cx="68.6" cy="331.9" r="2.3"/><circle cx="71.5" cy="333.1" r="2.3"/><circle cx="73.8" cy="331.8" r="2.3"/><circle cx="75.7" cy="332.1" r="2.3"/><circle cx="78.1" cy="331.4" r="2.3"/><circle cx="80.4" cy="331.9" r="2.3"/><circle cx="81.9" cy="332.0" r="2.3"/><circle cx="84.0" cy="330.9" r="2.3"/><circle cx="86.1" cy="330.2" r="2.3"/><circle cx="88.8" cy="330.1" r="2.3"/><circle cx="91.1" cy="329.2" r="2.3"/><circle cx="92.9" cy="329.4" r="2.3"/><circle cx="95.3" cy="329.7" r="2.3"/><circle cx="97.5" cy="328.4" r="2.3"/><circle cx="99.3" cy="328.6" r="2.3"/><circle cx="101.4" cy="328.5" r="2.3"/><circle cx="104.4" cy="327.6" r="2.3"/><circle cx="106.6" cy="325.7" r="2.3"/><circle cx="108.6" cy="325.6" r="2.3"/><circle cx="110.2" cy="324.1" r="2.3"/><circle cx="113.4" cy="323.2" r="2.3"/><circle cx="115.4" cy="321.7" r="2.3"/><circle cx="117.7" cy="320.9" r="2.3"/><circle cx="119.4" cy="317.5" r="2.3"/><circle cx="122.0" cy="315.0" r="2.3"/><circle cx="124.1" cy="311.5" r="2.3"/><circle cx="126.5" cy="309.4" r="2.3"/><circle cx="128.7" cy="304.0" r="2.3"/><circle cx="130.3" cy="298.8" r="2.3"/><circle cx="133.1" cy="293.2" r="2.3"/><circle cx="135.3" cy="285.9" r="2.3"/><circle cx="136.9" cy="280.6" r="2.3"/><circle cx="139.0" cy="276.6" r="2.3"/><circle cx="141.1" cy="274.2" r="2.3"/><circle cx="144.2" cy="274.3" r="2.3"/><circle cx="145.4" cy="273.8" r="2.3"/><circle cx="148.1" cy="276.4" r="2.3"/><circle cx="150.0" cy="277.3" r="2.3"/><circle cx="152.8" cy="279.8" r="2.3"/><circle cx="154.6" cy="281.6" r="2.3"/><circle cx="157.3" cy="282.6" r="2.3"/><circle cx="159.1" cy="283.5" r="2.3"/><circle cx="160.9" cy="285.1" r="2.3"/><circle cx="163.9" cy="284.9" r="2.3"/><circle cx="166.0" cy="284.6" r="2.3"/><circle cx="167.8" cy="283.6" r="2.3"/><circle cx="170.4" cy="283.8" r="2.3"/><circle cx="172.3" cy="284.7" r="2.3"/><circle cx="174.9" cy="287.1" r="2.3"/><circle cx="176.7" cy="289.2" r="2.3"/><circle cx="179.1" cy="291.6" r="2.3"/><circle cx="180.9" cy="295.6" r="2.3"/><circle cx="182.9" cy="299.8" r="2.3"/><circle cx="186.0" cy="303.9" r="2.3"/><circle cx="187.8" cy="308.8" r="2.3"/><circle cx="189.7" cy="311.7" r="2.3"/><circle cx="191.9" cy="314.4" r="2.3"/><circle cx="194.7" cy="318.5" r="2.3"/><circle cx="196.8" cy="320.4" r="2.3"/><circle cx="198.9" cy="323.1" r="2.3"/><circle cx="201.2" cy="324.6" r="2.3"/><circle cx="203.3" cy="325.5" r="2.3"/><circle cx="205.3" cy="326.5" r="2.3"/><circle cx="207.7" cy="328.2" r="2.3"/><circle cx="210.1" cy="328.2" r="2.3"/><circle cx="212.0" cy="329.3" r="2.3"/><circle cx="214.1" cy="328.7" r="2.3"/><circle cx="216.5" cy="329.4" r="2.3"/><circle cx="218.8" cy="330.0" r="2.3"/><circle cx="221.0" cy="330.4" r="2.3"/><circle cx="223.0" cy="330.0" r="2.3"/><circle cx="225.4" cy="330.6" r="2.3"/><circle cx="227.6" cy="330.0" r="2.3"/><circle cx="229.7" cy="330.8" r="2.3"/><circle cx="232.2" cy="330.9" r="2.3"/><circle cx="233.9" cy="330.2" r="2.3"/><circle cx="236.4" cy="329.6" r="2.3"/><circle cx="238.3" cy="330.8" r="2.3"/><circle cx="240.7" cy="330.3" r="2.3"/><circle cx="242.4" cy="330.4" r="2.3"/><circle cx="245.0" cy="330.4" r="2.3"/><circle cx="247.0" cy="330.2" r="2.3"/><circle cx="249.6" cy="330.1" r="2.3"/><circle cx="251.7" cy="330.1" r="2.3"/><circle cx="253.4" cy="329.1" r="2.3"/><circle cx="256.1" cy="329.8" r="2.3"/><circle cx="258.3" cy="329.4" r="2.3"/><circle cx="259.8" cy="330.0" r="2.3"/><circle cx="262.2" cy="329.8" r="2.3"/><circle cx="264.3" cy="329.1" r="2.3"/><circle cx="266.6" cy="329.5" r="2.3"/><circle cx="268.6" cy="329.3" r="2.3"/><circle cx="271.2" cy="329.7" r="2.3"/><circle cx="273.6" cy="329.9" r="2.3"/><circle cx="276.1" cy="329.3" r="2.3"/><circle cx="277.8" cy="328.9" r="2.3"/><circle cx="280.0" cy="329.4" r="2.3"/></g>
<path d="M36.3,332.5 37.3,332.6 38.3,332.6 39.3,332.7 40.3,332.7 41.3,332.8 42.3,332.8 43.3,332.9 44.3,332.9 45.3,332.9 46.3,333.0 47.3,333.0 48.3,333.1 49.3,333.1 50.3,333.1 51.3,333.2 52.3,333.2 53.3,333.2 54.3,333.3 55.3,333.3 56.3,333.3 57.3,333.3 58.3,333.3 59.3,333.3 60.3,333.3 61.3,333.3 62.3,333.3 63.3,333.3 64.3,333.3 65.3,333.3 66.3,333.3 67.3,333.2 68.3,333.2 69.3,333.2 70.3,333.1 71.3,333.1 72.3,333.0 73.3,333.0 74.3,332.9 75.3,332.8 76.3,332.8 77.3,332.7 78.3,332.6 79.3,332.5 80.3,332.4 81.3,332.3 82.3,332.2 83.3,332.0 84.3,331.9 85.3,331.8 86.3,331.6 87.3,331.5 88.3,331.3 89.3,331.1 90.3,330.9 91.3,330.8 92.3,330.6 93.3,330.4 94.3,330.2 95.3,330.0 96.3,329.8 97.3,329.6 98.3,329.4 99.3,329.1 100.3,328.9 101.3,328.7 102.3,328.4 103.3,328.2 104.3,327.9 105.3,327.6 106.3,327.3 107.3,327.0 108.3,326.7 109.3,326.3 110.3,325.9 111.3,325.4 112.3,324.9 113.3,324.3 114.3,323.6 115.3,322.9 116.3,322.0 117.3,321.0 118.3,320.0 119.3,318.8 120.3,317.6 121.3,316.3 122.3,315.0 123.3,313.7 124.3,312.4 125.3,310.9 126.3,309.4 127.3,307.6 128.3,305.6 129.3,303.3 130.3,300.8 131.3,298.1 132.3,295.1 133.3,291.9 134.3,288.8 135.3,285.8 136.3,283.1 137.3,280.9 138.3,279.1 139.3,277.7 140.3,276.6 141.3,275.8 142.3,275.2 143.3,274.9 144.3,274.8 145.3,274.9 146.3,275.3 147.3,275.8 148.3,276.5 149.3,277.4 150.3,278.3 151.3,279.2 152.3,280.2 153.3,281.2 154.3,282.1 155.3,283.0 156.3,283.8 157.3,284.4 158.3,284.8 159.3,285.1 160.3,285.3 161.3,285.4 162.3,285.4 163.3,285.4 164.3,285.3 165.3,285.2 166.3,285.1 167.3,285.1 168.3,285.1 169.3,285.1 170.3,285.2 171.3,285.5 172.3,285.8 173.3,286.3 174.3,287.0 175.3,287.8 176.3,288.8 177.3,290.0 178.3,291.5 179.3,293.1 180.3,294.9 181.3,296.8 182.3,298.7 183.3,300.7 184.3,302.6 185.3,304.5 186.3,306.4 187.3,308.2 188.3,309.9 189.3,311.6 190.3,313.2 191.3,314.7 192.3,316.2 193.3,317.6 194.3,318.9 195.3,320.1 196.3,321.2 197.3,322.2 198.3,323.1 199.3,324.0 200.3,324.7 201.3,325.4 202.3,326.1 203.3,326.6 204.3,327.2 205.3,327.7 206.3,328.1 207.3,328.5 208.3,328.9 209.3,329.2 210.3,329.5 211.3,329.7 212.3,330.0 213.3,330.2 214.3,330.4 215.3,330.5 216.3,330.6 217.3,330.7 218.3,330.8 219.3,330.9 220.3,331.0 221.3,331.0 222.3,331.0 223.3,331.1 224.3,331.1 225.3,331.1 226.3,331.1 227.3,331.0 228.3,331.0 229.3,331.0 230.3,331.0 231.3,331.0 232.3,331.0 233.3,330.9 234.3,330.9 235.3,330.9 236.3,330.9 237.3,330.9 238.3,330.9 239.3,330.8 240.3,330.8 241.3,330.8 242.3,330.8 243.3,330.8 244.3,330.8 245.3,330.8 246.3,330.8 247.3,330.7 248.3,330.7 249.3,330.7 250.3,330.7 251.3,330.7 252.3,330.7 253.3,330.7 254.3,330.7 255.3,330.7 256.3,330.7 257.3,330.7 258.3,330.6 259.3,330.6 260.3,330.6 261.3,330.6 262.3,330.6 263.3,330.6 264.3,330.6 265.3,330.6 266.3,330.6 267.3,330.6 268.3,330.6 269.3,330.6 270.3,330.6 271.3,330.6 272.3,330.6 273.3,330.5 274.3,330.5 275.3,330.5 276.3,330.5 277.3,330.5 278.3,330.5 279.3,330.5 280.3,330.5 281.3,330.5 282.3,330.5" fill="none" stroke="#e5378f" stroke-width="1.6" stroke-linejoin="round" />
<path d="M36.3,394.6 282.3,394.4" fill="none" stroke="#f4ad55" stroke-width="1.1" stroke-linejoin="round" />
<path d="M36.3,394.4 37.3,394.4 38.3,394.4 39.3,394.4 40.3,394.4 41.3,394.4 42.3,394.4 43.3,394.4 44.3,394.3 45.3,394.3 46.3,394.3 47.3,394.3 48.3,394.3 49.3,394.3 50.3,394.3 51.3,394.3 52.3,394.3 53.3,394.3 54.3,394.3 55.3,394.2 56.3,394.2 57.3,394.2 58.3,394.2 59.3,394.2 60.3,394.2 61.3,394.2 62.3,394.1 63.3,394.1 64.3,394.1 65.3,394.1 66.3,394.1 67.3,394.0 68.3,394.0 69.3,393.9 70.3,393.9 71.3,393.8 72.3,393.8 73.3,393.7 74.3,393.6 75.3,393.5 76.3,393.4 77.3,393.2 78.3,393.0 79.3,392.8 80.3,392.5 81.3,392.3 82.3,391.9 83.3,391.5 84.3,391.0 85.3,390.5 86.3,389.9 87.3,389.2 88.3,388.4 89.3,387.5 90.3,386.5 91.3,385.4 92.3,384.2 93.3,382.8 94.3,381.3 95.3,379.7 96.3,378.0 97.3,376.2 98.3,374.2 99.3,372.2 100.3,370.0 101.3,367.8 102.3,365.5 103.3,363.1 104.3,360.8 105.3,358.4 106.3,356.1 107.3,353.8 108.3,351.6 109.3,349.6 110.3,347.6 111.3,345.9 112.3,344.3 113.3,343.0 114.3,342.0 115.3,341.2 116.3,340.7 117.3,340.5 118.3,340.7 119.3,341.1 120.3,341.8 121.3,342.8 122.3,344.1 123.3,345.5 124.3,347.3 125.3,349.1 126.3,351.2 127.3,353.3 128.3,355.6 129.3,357.9 130.3,360.3 131.3,362.6 132.3,365.0 133.3,367.3 134.3,369.5 135.3,371.7 136.3,373.8 137.3,375.8 138.3,377.6 139.3,379.4 140.3,381.0 141.3,382.5 142.3,383.9 143.3,385.1 144.3,386.3 145.3,387.3 146.3,388.2 147.3,389.0 148.3,389.7 149.3,390.3 150.3,390.9 151.3,391.4 152.3,391.8 153.3,392.1 154.3,392.4 155.3,392.7 156.3,392.9 157.3,393.1 158.3,393.3 159.3,393.4 160.3,393.5 161.3,393.6 162.3,393.7 163.3,393.7 164.3,393.8 165.3,393.9 166.3,393.9 167.3,393.9 168.3,394.0 169.3,394.0 170.3,394.0 171.3,394.0 172.3,394.1 173.3,394.1 174.3,394.1 175.3,394.1 176.3,394.1 177.3,394.1 178.3,394.1 179.3,394.1 180.3,394.2 181.3,394.2 182.3,394.2 183.3,394.2 184.3,394.2 185.3,394.2 186.3,394.2 187.3,394.2 188.3,394.2 189.3,394.2 190.3,394.2 191.3,394.2 192.3,394.2 193.3,394.2 194.3,394.2 195.3,394.3 196.3,394.3 197.3,394.3 198.3,394.3 199.3,394.3 200.3,394.3 201.3,394.3 202.3,394.3 203.3,394.3 204.3,394.3 205.3,394.3 206.3,394.3 207.3,394.3 208.3,394.3 209.3,394.3 210.3,394.3 211.3,394.3 212.3,394.3" fill="none" stroke="#62b6e8" stroke-width="1.2" stroke-linejoin="round" />
<path d="M117.3,394.4 118.3,394.3 119.3,394.2 120.3,394.1 121.3,393.9 122.3,393.6 123.3,393.2 124.3,392.8 125.3,392.1 126.3,391.4 127.3,390.4 128.3,389.3 129.3,387.8 130.3,386.2 131.3,384.3 132.3,382.1 133.3,379.7 134.3,377.0 135.3,374.2 136.3,371.3 137.3,368.4 138.3,365.5 139.3,362.7 140.3,360.2 141.3,358.0 142.3,356.3 143.3,355.1 144.3,354.4 145.3,354.2 146.3,354.7 147.3,355.7 148.3,357.3 149.3,359.3 150.3,361.7 151.3,364.3 152.3,367.2 153.3,370.1 154.3,373.1 155.3,375.9 156.3,378.6 157.3,381.1 158.3,383.4 159.3,385.4 160.3,387.2 161.3,388.7 162.3,390.0 163.3,391.0 164.3,391.8 165.3,392.5 166.3,393.0 167.3,393.4 168.3,393.7 169.3,393.9 170.3,394.1 171.3,394.2 172.3,394.3 173.3,394.4" fill="none" stroke="#9fd27e" stroke-width="1.2" stroke-linejoin="round" />
<path d="M136.3,394.4 137.3,394.3 138.3,394.2 139.3,394.1 140.3,393.9 141.3,393.7 142.3,393.3 143.3,392.9 144.3,392.3 145.3,391.7 146.3,390.8 147.3,389.9 148.3,388.8 149.3,387.6 150.3,386.2 151.3,384.9 152.3,383.4 153.3,382.1 154.3,380.8 155.3,379.7 156.3,378.8 157.3,378.1 158.3,377.8 159.3,377.7 160.3,378.0 161.3,378.6 162.3,379.5 163.3,380.5 164.3,381.8 165.3,383.2 166.3,384.6 167.3,386.0 168.3,387.3 169.3,388.5 170.3,389.7 171.3,390.6 172.3,391.5 173.3,392.2 174.3,392.8 175.3,393.2 176.3,393.6 177.3,393.8 178.3,394.0 179.3,394.2 180.3,394.3 181.3,394.3" fill="none" stroke="#e3e45a" stroke-width="1.2" stroke-linejoin="round" />
<g fill="none" stroke="#86d3d6" stroke-width="0.8"><circle cx="38.4" cy="394.5" r="2.3"/><circle cx="40.1" cy="394.3" r="2.3"/><circle cx="42.7" cy="393.7" r="2.3"/><circle cx="45.0" cy="394.7" r="2.3"/><circle cx="47.2" cy="394.8" r="2.3"/><circle cx="49.4" cy="394.8" r="2.3"/><circle cx="51.2" cy="395.7" r="2.3"/><circle cx="53.7" cy="395.5" r="2.3"/><circle cx="55.8" cy="395.0" r="2.3"/><circle cx="57.7" cy="396.0" r="2.3"/><circle cx="60.3" cy="396.0" r="2.3"/><circle cx="62.1" cy="395.9" r="2.3"/><circle cx="64.8" cy="394.6" r="2.3"/><circle cx="66.6" cy="395.5" r="2.3"/><circle cx="68.6" cy="394.0" r="2.3"/><circle cx="70.9" cy="394.5" r="2.3"/><circle cx="73.4" cy="394.5" r="2.3"/><circle cx="75.7" cy="392.8" r="2.3"/><circle cx="78.1" cy="392.4" r="2.3"/><circle cx="79.9" cy="392.4" r="2.3"/><circle cx="82.3" cy="391.0" r="2.3"/><circle cx="84.8" cy="390.1" r="2.3"/><circle cx="86.4" cy="387.4" r="2.3"/><circle cx="88.5" cy="386.6" r="2.3"/><circle cx="90.5" cy="384.6" r="2.3"/><circle cx="93.1" cy="382.6" r="2.3"/><circle cx="95.5" cy="378.5" r="2.3"/><circle cx="97.2" cy="375.5" r="2.3"/><circle cx="99.3" cy="371.8" r="2.3"/><circle cx="102.3" cy="366.8" r="2.3"/><circle cx="103.6" cy="362.2" r="2.3"/><circle cx="105.8" cy="356.5" r="2.3"/><circle cx="108.9" cy="350.1" r="2.3"/><circle cx="110.5" cy="345.6" r="2.3"/><circle cx="112.8" cy="341.4" r="2.3"/><circle cx="115.6" cy="338.8" r="2.3"/><circle cx="117.2" cy="338.0" r="2.3"/><circle cx="119.4" cy="339.8" r="2.3"/><circle cx="121.4" cy="342.0" r="2.3"/><circle cx="124.3" cy="344.9" r="2.3"/><circle cx="126.5" cy="347.7" r="2.3"/><circle cx="128.6" cy="350.2" r="2.3"/><circle cx="130.5" cy="352.6" r="2.3"/><circle cx="132.9" cy="352.8" r="2.3"/><circle cx="134.5" cy="352.0" r="2.3"/><circle cx="136.9" cy="350.6" r="2.3"/><circle cx="139.6" cy="347.7" r="2.3"/><circle cx="141.0" cy="344.5" r="2.3"/><circle cx="143.8" cy="342.4" r="2.3"/><circle cx="145.7" cy="342.3" r="2.3"/><circle cx="148.5" cy="343.7" r="2.3"/><circle cx="150.2" cy="346.0" r="2.3"/><circle cx="152.6" cy="350.6" r="2.3"/><circle cx="154.7" cy="354.0" r="2.3"/><circle cx="156.5" cy="359.0" r="2.3"/><circle cx="158.9" cy="363.4" r="2.3"/><circle cx="161.1" cy="368.5" r="2.3"/><circle cx="164.0" cy="372.6" r="2.3"/><circle cx="165.6" cy="377.3" r="2.3"/><circle cx="167.7" cy="380.8" r="2.3"/><circle cx="170.1" cy="383.9" r="2.3"/><circle cx="172.7" cy="387.2" r="2.3"/><circle cx="174.0" cy="388.3" r="2.3"/><circle cx="176.3" cy="389.9" r="2.3"/><circle cx="179.2" cy="390.3" r="2.3"/><circle cx="181.3" cy="391.2" r="2.3"/><circle cx="183.7" cy="392.1" r="2.3"/><circle cx="185.1" cy="393.2" r="2.3"/><circle cx="188.1" cy="392.4" r="2.3"/><circle cx="189.8" cy="393.3" r="2.3"/><circle cx="192.4" cy="393.7" r="2.3"/><circle cx="194.3" cy="393.4" r="2.3"/><circle cx="196.4" cy="392.9" r="2.3"/><circle cx="198.8" cy="393.1" r="2.3"/><circle cx="200.5" cy="393.9" r="2.3"/><circle cx="202.7" cy="394.1" r="2.3"/><circle cx="205.4" cy="393.3" r="2.3"/><circle cx="207.9" cy="394.0" r="2.3"/><circle cx="209.9" cy="394.4" r="2.3"/><circle cx="212.2" cy="393.6" r="2.3"/><circle cx="214.2" cy="393.6" r="2.3"/><circle cx="216.7" cy="395.0" r="2.3"/><circle cx="218.5" cy="395.0" r="2.3"/><circle cx="221.0" cy="394.7" r="2.3"/><circle cx="223.3" cy="393.9" r="2.3"/><circle cx="225.0" cy="395.2" r="2.3"/><circle cx="227.2" cy="395.0" r="2.3"/><circle cx="229.7" cy="394.2" r="2.3"/><circle cx="232.0" cy="393.8" r="2.3"/><circle cx="233.7" cy="395.3" r="2.3"/><circle cx="235.7" cy="395.2" r="2.3"/><circle cx="238.1" cy="395.1" r="2.3"/><circle cx="240.4" cy="395.3" r="2.3"/><circle cx="242.2" cy="395.2" r="2.3"/><circle cx="245.2" cy="393.8" r="2.3"/><circle cx="247.1" cy="394.7" r="2.3"/><circle cx="249.0" cy="393.7" r="2.3"/><circle cx="251.1" cy="394.2" r="2.3"/><circle cx="254.0" cy="395.1" r="2.3"/><circle cx="256.1" cy="395.0" r="2.3"/><circle cx="257.7" cy="394.0" r="2.3"/><circle cx="259.9" cy="394.6" r="2.3"/><circle cx="262.5" cy="394.2" r="2.3"/><circle cx="264.3" cy="394.1" r="2.3"/><circle cx="266.9" cy="393.4" r="2.3"/><circle cx="269.1" cy="393.2" r="2.3"/><circle cx="271.1" cy="393.4" r="2.3"/><circle cx="273.6" cy="393.3" r="2.3"/><circle cx="275.4" cy="393.6" r="2.3"/><circle cx="278.0" cy="393.3" r="2.3"/><circle cx="280.0" cy="394.3" r="2.3"/></g>
<path d="M36.3,394.6 37.3,394.8 38.3,394.9 39.3,395.0 40.3,395.1 41.3,395.2 42.3,395.3 43.3,395.4 44.3,395.5 45.3,395.6 46.3,395.7 47.3,395.8 48.3,395.9 49.3,396.0 50.3,396.1 51.3,396.1 52.3,396.2 53.3,396.2 54.3,396.3 55.3,396.3 56.3,396.3 57.3,396.3 58.3,396.3 59.3,396.3 60.3,396.3 61.3,396.2 62.3,396.2 63.3,396.1 64.3,396.0 65.3,395.9 66.3,395.8 67.3,395.7 68.3,395.6 69.3,395.4 70.3,395.3 71.3,395.1 72.3,394.9 73.3,394.6 74.3,394.4 75.3,394.1 76.3,393.8 77.3,393.5 78.3,393.2 79.3,392.8 80.3,392.4 81.3,392.0 82.3,391.5 83.3,391.0 84.3,390.4 85.3,389.8 86.3,389.1 87.3,388.4 88.3,387.6 89.3,386.8 90.3,385.8 91.3,384.8 92.3,383.7 93.3,382.6 94.3,381.3 95.3,379.9 96.3,378.5 97.3,376.9 98.3,375.2 99.3,373.4 100.3,371.5 101.3,369.4 102.3,367.1 103.3,364.7 104.3,362.2 105.3,359.5 106.3,356.9 107.3,354.2 108.3,351.7 109.3,349.3 110.3,347.1 111.3,345.1 112.3,343.3 113.3,341.9 114.3,340.8 115.3,340.1 116.3,339.6 117.3,339.5 118.3,339.6 119.3,340.1 120.3,340.7 121.3,341.6 122.3,342.8 123.3,344.1 124.3,345.5 125.3,347.0 126.3,348.5 127.3,349.8 128.3,351.0 129.3,352.0 130.3,352.8 131.3,353.3 132.3,353.6 133.3,353.6 134.3,353.2 135.3,352.6 136.3,351.8 137.3,350.8 138.3,349.7 139.3,348.5 140.3,347.3 141.3,346.0 142.3,344.9 143.3,344.0 144.3,343.4 145.3,343.2 146.3,343.4 147.3,343.9 148.3,344.7 149.3,345.8 150.3,347.2 151.3,348.7 152.3,350.5 153.3,352.4 154.3,354.4 155.3,356.4 156.3,358.5 157.3,360.7 158.3,362.7 159.3,364.8 160.3,366.8 161.3,368.8 162.3,370.8 163.3,372.7 164.3,374.7 165.3,376.6 166.3,378.5 167.3,380.4 168.3,382.1 169.3,383.7 170.3,385.1 171.3,386.4 172.3,387.5 173.3,388.4 174.3,389.3 175.3,390.0 176.3,390.6 177.3,391.1 178.3,391.6 179.3,392.0 180.3,392.3 181.3,392.6 182.3,392.9 183.3,393.1 184.3,393.3 185.3,393.4 186.3,393.6 187.3,393.7 188.3,393.8 189.3,393.8 190.3,393.9 191.3,394.0 192.3,394.1 193.3,394.1 194.3,394.2 195.3,394.3 196.3,394.3 197.3,394.4 198.3,394.4 199.3,394.5 200.3,394.5 201.3,394.6 202.3,394.6 203.3,394.7 204.3,394.7 205.3,394.8 206.3,394.8 207.3,394.9 208.3,394.9 209.3,394.9 210.3,395.0 211.3,395.0 212.3,395.0 213.3,395.1 214.3,395.1 215.3,395.1 216.3,395.1 217.3,395.2 218.3,395.2 219.3,395.2 220.3,395.2 221.3,395.2 222.3,395.3 223.3,395.3 224.3,395.3 225.3,395.3 226.3,395.3 227.3,395.3 228.3,395.3 229.3,395.3 230.3,395.3 231.3,395.3 232.3,395.3 233.3,395.3 234.3,395.3 235.3,395.3 236.3,395.3 237.3,395.3 238.3,395.3 239.3,395.3 240.3,395.3 241.3,395.3 242.3,395.3 243.3,395.3 244.3,395.3 245.3,395.3 246.3,395.3 247.3,395.2 248.3,395.2 249.3,395.2 250.3,395.2 251.3,395.2 252.3,395.2 253.3,395.2 254.3,395.1 255.3,395.1 256.3,395.1 257.3,395.1 258.3,395.1 259.3,395.0 260.3,395.0 261.3,395.0 262.3,395.0 263.3,394.9 264.3,394.9 265.3,394.9 266.3,394.9 267.3,394.8 268.3,394.8 269.3,394.8 270.3,394.8 271.3,394.7 272.3,394.7 273.3,394.7 274.3,394.6 275.3,394.6 276.3,394.6 277.3,394.6 278.3,394.5 279.3,394.5 280.3,394.5 281.3,394.4 282.3,394.4" fill="none" stroke="#e5378f" stroke-width="1.6" stroke-linejoin="round" />
<path d="M36.3,458.4 282.3,456.0" fill="none" stroke="#f4ad55" stroke-width="1.1" stroke-linejoin="round" />
<path d="M46.3,458.1 47.3,458.1 48.3,458.1 49.3,458.1 50.3,458.1 51.3,458.1 52.3,458.1 53.3,458.1 54.3,458.0 55.3,458.0 56.3,458.0 57.3,458.0 58.3,458.0 59.3,458.0 60.3,458.0 61.3,457.9 62.3,457.9 63.3,457.9 64.3,457.9 65.3,457.9 66.3,457.9 67.3,457.8 68.3,457.8 69.3,457.8 70.3,457.8 71.3,457.8 72.3,457.7 73.3,457.7 74.3,457.7 75.3,457.7 76.3,457.7 77.3,457.6 78.3,457.6 79.3,457.6 80.3,457.6 81.3,457.5 82.3,457.5 83.3,457.5 84.3,457.4 85.3,457.4 86.3,457.4 87.3,457.3 88.3,457.3 89.3,457.2 90.3,457.1 91.3,457.0 92.3,456.9 93.3,456.8 94.3,456.7 95.3,456.5 96.3,456.3 97.3,456.0 98.3,455.7 99.3,455.3 100.3,454.8 101.3,454.3 102.3,453.6 103.3,452.9 104.3,452.0 105.3,451.0 106.3,449.8 107.3,448.5 108.3,447.0 109.3,445.3 110.3,443.4 111.3,441.3 112.3,439.1 113.3,436.6 114.3,434.1 115.3,431.3 116.3,428.5 117.3,425.5 118.3,422.6 119.3,419.6 120.3,416.6 121.3,413.7 122.3,411.0 123.3,408.4 124.3,406.1 125.3,404.1 126.3,402.4 127.3,401.1 128.3,400.2 129.3,399.8 130.3,399.9 131.3,400.4 132.3,401.3 133.3,402.6 134.3,404.4 135.3,406.4 136.3,408.8 137.3,411.3 138.3,414.1 139.3,417.0 140.3,419.9 141.3,422.9 142.3,425.9 143.3,428.8 144.3,431.6 145.3,434.3 146.3,436.8 147.3,439.2 148.3,441.4 149.3,443.4 150.3,445.2 151.3,446.9 152.3,448.3 153.3,449.6 154.3,450.7 155.3,451.7 156.3,452.5 157.3,453.2 158.3,453.8 159.3,454.4 160.3,454.8 161.3,455.1 162.3,455.4 163.3,455.7 164.3,455.8 165.3,456.0 166.3,456.1 167.3,456.2 168.3,456.3 169.3,456.4 170.3,456.4 171.3,456.5 172.3,456.5 173.3,456.5 174.3,456.5 175.3,456.6 176.3,456.6 177.3,456.6 178.3,456.6 179.3,456.6 180.3,456.6 181.3,456.6 182.3,456.6 183.3,456.6 184.3,456.6 185.3,456.6 186.3,456.6 187.3,456.6 188.3,456.6 189.3,456.6 190.3,456.6 191.3,456.6 192.3,456.6 193.3,456.6 194.3,456.6 195.3,456.6 196.3,456.6 197.3,456.6 198.3,456.6 199.3,456.6 200.3,456.6 201.3,456.6 202.3,456.6 203.3,456.6 204.3,456.6 205.3,456.6 206.3,456.6 207.3,456.6 208.3,456.6 209.3,456.6 210.3,456.5 211.3,456.5 212.3,456.5" fill="none" stroke="#62b6e8" stroke-width="1.2" stroke-linejoin="round" />
<path d="M126.3,457.4 127.3,457.3 128.3,457.3 129.3,457.2 130.3,457.1 131.3,456.9 132.3,456.8 133.3,456.6 134.3,456.3 135.3,456.1 136.3,455.7 137.3,455.3 138.3,454.8 139.3,454.3 140.3,453.7 141.3,453.0 142.3,452.2 143.3,451.3 144.3,450.4 145.3,449.5 146.3,448.4 147.3,447.4 148.3,446.3 149.3,445.2 150.3,444.2 151.3,443.2 152.3,442.2 153.3,441.4 154.3,440.6 155.3,440.1 156.3,439.6 157.3,439.3 158.3,439.2 159.3,439.3 160.3,439.5 161.3,439.9 162.3,440.4 163.3,441.1 164.3,441.9 165.3,442.8 166.3,443.8 167.3,444.8 168.3,445.9 169.3,446.9 170.3,448.0 171.3,449.0 172.3,450.0 173.3,450.9 174.3,451.7 175.3,452.5 176.3,453.2 177.3,453.8 178.3,454.3 179.3,454.8 180.3,455.2 181.3,455.5 182.3,455.8 183.3,456.1 184.3,456.2 185.3,456.4 186.3,456.5 187.3,456.6 188.3,456.7 189.3,456.7 190.3,456.8" fill="none" stroke="#9fd27e" stroke-width="1.2" stroke-linejoin="round" />
<path d="M158.3,457.1 159.3,457.0 160.3,457.0 161.3,456.9 162.3,456.7 163.3,456.6 164.3,456.4 165.3,456.2 166.3,455.9 167.3,455.5 168.3,455.1 169.3,454.6 170.3,454.0 171.3,453.4 172.3,452.7 173.3,451.9 174.3,451.1 175.3,450.2 176.3,449.4 177.3,448.5 178.3,447.6 179.3,446.8 180.3,446.1 181.3,445.5 182.3,445.0 183.3,444.7 184.3,444.5 185.3,444.5 186.3,444.6 187.3,444.9 188.3,445.3 189.3,445.9 190.3,446.6 191.3,447.4 192.3,448.2 193.3,449.0 194.3,449.9 195.3,450.7 196.3,451.5 197.3,452.3 198.3,453.0 199.3,453.6 200.3,454.2 201.3,454.7 202.3,455.1 203.3,455.4 204.3,455.7 205.3,456.0 206.3,456.1 207.3,456.3 208.3,456.4 209.3,456.5 210.3,456.5 211.3,456.6" fill="none" stroke="#e3e45a" stroke-width="1.2" stroke-linejoin="round" />
<g fill="none" stroke="#86d3d6" stroke-width="0.8"><circle cx="37.8" cy="457.7" r="2.3"/><circle cx="39.9" cy="458.4" r="2.3"/><circle cx="42.4" cy="458.3" r="2.3"/><circle cx="44.7" cy="457.7" r="2.3"/><circle cx="46.8" cy="457.7" r="2.3"/><circle cx="48.7" cy="457.9" r="2.3"/><circle cx="51.6" cy="458.5" r="2.3"/><circle cx="53.2" cy="458.1" r="2.3"/><circle cx="56.1" cy="459.0" r="2.3"/><circle cx="57.8" cy="459.0" r="2.3"/><circle cx="59.6" cy="459.7" r="2.3"/><circle cx="62.1" cy="459.5" r="2.3"/><circle cx="64.1" cy="458.4" r="2.3"/><circle cx="67.0" cy="458.6" r="2.3"/><circle cx="69.0" cy="458.4" r="2.3"/><circle cx="71.0" cy="459.1" r="2.3"/><circle cx="72.9" cy="458.9" r="2.3"/><circle cx="75.2" cy="458.0" r="2.3"/><circle cx="77.6" cy="458.8" r="2.3"/><circle cx="80.0" cy="458.1" r="2.3"/><circle cx="81.9" cy="458.1" r="2.3"/><circle cx="84.5" cy="458.5" r="2.3"/><circle cx="86.6" cy="457.4" r="2.3"/><circle cx="89.1" cy="457.5" r="2.3"/><circle cx="90.7" cy="457.5" r="2.3"/><circle cx="92.7" cy="457.5" r="2.3"/><circle cx="95.6" cy="456.0" r="2.3"/><circle cx="97.5" cy="454.7" r="2.3"/><circle cx="99.9" cy="453.2" r="2.3"/><circle cx="102.0" cy="452.4" r="2.3"/><circle cx="103.9" cy="450.1" r="2.3"/><circle cx="106.4" cy="446.6" r="2.3"/><circle cx="108.5" cy="442.7" r="2.3"/><circle cx="111.1" cy="438.9" r="2.3"/><circle cx="113.1" cy="433.3" r="2.3"/><circle cx="115.3" cy="426.9" r="2.3"/><circle cx="117.8" cy="421.4" r="2.3"/><circle cx="119.3" cy="415.5" r="2.3"/><circle cx="121.9" cy="409.4" r="2.3"/><circle cx="123.9" cy="404.4" r="2.3"/><circle cx="125.7" cy="401.5" r="2.3"/><circle cx="128.6" cy="399.3" r="2.3"/><circle cx="130.2" cy="399.1" r="2.3"/><circle cx="133.1" cy="401.0" r="2.3"/><circle cx="134.8" cy="403.9" r="2.3"/><circle cx="137.5" cy="409.5" r="2.3"/><circle cx="139.7" cy="415.7" r="2.3"/><circle cx="141.4" cy="420.4" r="2.3"/><circle cx="144.1" cy="425.5" r="2.3"/><circle cx="145.6" cy="430.2" r="2.3"/><circle cx="147.8" cy="431.4" r="2.3"/><circle cx="150.3" cy="432.7" r="2.3"/><circle cx="152.3" cy="434.0" r="2.3"/><circle cx="154.6" cy="433.8" r="2.3"/><circle cx="157.0" cy="435.2" r="2.3"/><circle cx="159.3" cy="437.1" r="2.3"/><circle cx="161.4" cy="437.5" r="2.3"/><circle cx="163.1" cy="438.9" r="2.3"/><circle cx="166.0" cy="440.5" r="2.3"/><circle cx="168.2" cy="441.5" r="2.3"/><circle cx="170.0" cy="441.5" r="2.3"/><circle cx="172.4" cy="441.6" r="2.3"/><circle cx="174.1" cy="441.9" r="2.3"/><circle cx="176.4" cy="442.2" r="2.3"/><circle cx="178.5" cy="442.3" r="2.3"/><circle cx="180.8" cy="441.6" r="2.3"/><circle cx="183.2" cy="441.7" r="2.3"/><circle cx="185.9" cy="441.8" r="2.3"/><circle cx="187.3" cy="443.4" r="2.3"/><circle cx="189.7" cy="443.8" r="2.3"/><circle cx="191.7" cy="445.2" r="2.3"/><circle cx="194.8" cy="447.3" r="2.3"/><circle cx="196.5" cy="448.0" r="2.3"/><circle cx="198.3" cy="448.6" r="2.3"/><circle cx="200.7" cy="450.1" r="2.3"/><circle cx="202.8" cy="451.8" r="2.3"/><circle cx="205.8" cy="451.4" r="2.3"/><circle cx="207.1" cy="452.9" r="2.3"/><circle cx="209.2" cy="453.5" r="2.3"/><circle cx="212.4" cy="454.0" r="2.3"/><circle cx="214.3" cy="454.9" r="2.3"/><circle cx="216.2" cy="454.3" r="2.3"/><circle cx="218.8" cy="454.5" r="2.3"/><circle cx="221.0" cy="455.4" r="2.3"/><circle cx="222.6" cy="455.4" r="2.3"/><circle cx="225.6" cy="456.4" r="2.3"/><circle cx="227.6" cy="456.6" r="2.3"/><circle cx="229.7" cy="456.8" r="2.3"/><circle cx="231.7" cy="456.0" r="2.3"/><circle cx="233.4" cy="456.3" r="2.3"/><circle cx="235.9" cy="455.9" r="2.3"/><circle cx="238.5" cy="456.4" r="2.3"/><circle cx="240.4" cy="457.6" r="2.3"/><circle cx="243.2" cy="457.6" r="2.3"/><circle cx="244.8" cy="457.6" r="2.3"/><circle cx="246.8" cy="456.4" r="2.3"/><circle cx="249.0" cy="456.4" r="2.3"/><circle cx="251.9" cy="457.0" r="2.3"/><circle cx="253.7" cy="457.3" r="2.3"/><circle cx="256.2" cy="457.0" r="2.3"/><circle cx="258.3" cy="456.0" r="2.3"/><circle cx="260.6" cy="457.2" r="2.3"/><circle cx="262.5" cy="456.9" r="2.3"/><circle cx="265.0" cy="455.8" r="2.3"/><circle cx="267.2" cy="456.0" r="2.3"/><circle cx="269.0" cy="456.9" r="2.3"/><circle cx="271.7" cy="455.8" r="2.3"/><circle cx="273.2" cy="456.2" r="2.3"/><circle cx="275.4" cy="455.1" r="2.3"/><circle cx="278.2" cy="456.2" r="2.3"/><circle cx="280.4" cy="454.8" r="2.3"/></g>
<path d="M36.3,458.7 37.3,458.8 38.3,458.8 39.3,458.9 40.3,458.9 41.3,459.0 42.3,459.0 43.3,459.1 44.3,459.1 45.3,459.2 46.3,459.2 47.3,459.3 48.3,459.3 49.3,459.4 50.3,459.4 51.3,459.5 52.3,459.5 53.3,459.5 54.3,459.6 55.3,459.6 56.3,459.6 57.3,459.7 58.3,459.7 59.3,459.7 60.3,459.7 61.3,459.7 62.3,459.7 63.3,459.8 64.3,459.8 65.3,459.8 66.3,459.7 67.3,459.7 68.3,459.7 69.3,459.7 70.3,459.7 71.3,459.7 72.3,459.6 73.3,459.6 74.3,459.5 75.3,459.5 76.3,459.4 77.3,459.4 78.3,459.3 79.3,459.3 80.3,459.2 81.3,459.1 82.3,459.0 83.3,458.9 84.3,458.8 85.3,458.7 86.3,458.6 87.3,458.5 88.3,458.3 89.3,458.2 90.3,458.1 91.3,457.9 92.3,457.7 93.3,457.5 94.3,457.3 95.3,457.0 96.3,456.6 97.3,456.1 98.3,455.6 99.3,455.0 100.3,454.2 101.3,453.4 102.3,452.4 103.3,451.3 104.3,450.0 105.3,448.6 106.3,447.1 107.3,445.5 108.3,443.8 109.3,441.9 110.3,440.0 111.3,437.8 112.3,435.6 113.3,433.2 114.3,430.6 115.3,427.8 116.3,424.9 117.3,422.0 118.3,419.1 119.3,416.3 120.3,413.7 121.3,411.3 122.3,409.1 123.3,407.1 124.3,405.3 125.3,403.8 126.3,402.6 127.3,401.6 128.3,400.8 129.3,400.5 130.3,400.4 131.3,400.8 132.3,401.6 133.3,402.7 134.3,404.3 135.3,406.1 136.3,408.3 137.3,410.8 138.3,413.3 139.3,416.0 140.3,418.6 141.3,421.1 142.3,423.5 143.3,425.7 144.3,427.7 145.3,429.4 146.3,430.8 147.3,432.0 148.3,432.9 149.3,433.5 150.3,434.0 151.3,434.3 152.3,434.6 153.3,434.9 154.3,435.3 155.3,435.6 156.3,435.9 157.3,436.3 158.3,436.8 159.3,437.2 160.3,437.7 161.3,438.2 162.3,438.8 163.3,439.3 164.3,439.9 165.3,440.4 166.3,440.9 167.3,441.4 168.3,441.8 169.3,442.2 170.3,442.5 171.3,442.8 172.3,443.1 173.3,443.2 174.3,443.4 175.3,443.5 176.3,443.5 177.3,443.5 178.3,443.4 179.3,443.4 180.3,443.3 181.3,443.2 182.3,443.2 183.3,443.2 184.3,443.2 185.3,443.3 186.3,443.6 187.3,443.9 188.3,444.2 189.3,444.7 190.3,445.2 191.3,445.8 192.3,446.4 193.3,447.0 194.3,447.6 195.3,448.2 196.3,448.7 197.3,449.3 198.3,449.8 199.3,450.4 200.3,450.9 201.3,451.3 202.3,451.8 203.3,452.2 204.3,452.6 205.3,452.9 206.3,453.3 207.3,453.6 208.3,453.9 209.3,454.1 210.3,454.4 211.3,454.6 212.3,454.8 213.3,455.0 214.3,455.2 215.3,455.4 216.3,455.5 217.3,455.7 218.3,455.8 219.3,456.0 220.3,456.1 221.3,456.2 222.3,456.4 223.3,456.5 224.3,456.6 225.3,456.7 226.3,456.8 227.3,456.9 228.3,457.0 229.3,457.1 230.3,457.1 231.3,457.2 232.3,457.3 233.3,457.3 234.3,457.4 235.3,457.4 236.3,457.5 237.3,457.5 238.3,457.6 239.3,457.6 240.3,457.6 241.3,457.6 242.3,457.7 243.3,457.7 244.3,457.7 245.3,457.7 246.3,457.7 247.3,457.7 248.3,457.7 249.3,457.7 250.3,457.7 251.3,457.6 252.3,457.6 253.3,457.6 254.3,457.6 255.3,457.5 256.3,457.5 257.3,457.5 258.3,457.4 259.3,457.4 260.3,457.4 261.3,457.3 262.3,457.3 263.3,457.2 264.3,457.2 265.3,457.1 266.3,457.1 267.3,457.0 268.3,457.0 269.3,456.9 270.3,456.8 271.3,456.8 272.3,456.7 273.3,456.7 274.3,456.6 275.3,456.5 276.3,456.5 277.3,456.4 278.3,456.3 279.3,456.3 280.3,456.2 281.3,456.1 282.3,456.0" fill="none" stroke="#e5378f" stroke-width="1.6" stroke-linejoin="round" />
<line x1="129.90" y1="286.50" x2="129.90" y2="437.30" stroke="#2a2a2a" stroke-width="1.9" stroke-dasharray="3.6,3.2"/>
<line x1="143.50" y1="267.40" x2="143.50" y2="298.00" stroke="#ee4d4a" stroke-width="1.6" stroke-dasharray="3.2,3"/>
<line x1="168.50" y1="278.20" x2="168.50" y2="309.50" stroke="#ee4d4a" stroke-width="1.6" stroke-dasharray="3.2,3"/>
<line x1="182.00" y1="301.00" x2="182.00" y2="327.50" stroke="#ee4d4a" stroke-width="1.6" stroke-dasharray="3.2,3"/>
<line x1="117.40" y1="328.00" x2="117.40" y2="359.60" stroke="#ee4d4a" stroke-width="1.6" stroke-dasharray="3.2,3"/>
<text x="279.90" y="278.50" font-size="13" text-anchor="end" fill="#231f20" >O 1s</text>
<text x="119.60" y="279.00" font-size="13" text-anchor="start" fill="#231f20" >O<tspan font-size="8.6" dy="3.4">L</tspan></text>
<text x="163.00" y="277.60" font-size="13" text-anchor="start" fill="#231f20" >O<tspan font-size="8.6" dy="3.4">H</tspan></text>
<text x="189.50" y="307.10" font-size="13" text-anchor="start" fill="#231f20" >O<tspan font-size="8.6" dy="3.4">V</tspan></text>
<text x="205.20" y="324.10" font-size="12.5" text-anchor="start" fill="#231f20" >WZC30-Light</text>
<text x="279.90" y="385.80" font-size="12.5" text-anchor="end" fill="#231f20" >WZC30-Dark</text>
<text x="232.30" y="448.00" font-size="12.5" text-anchor="start" fill="#231f20" >WO<tspan font-size="8.6" dy="3.4">3</tspan></text>
<text x="11.90" y="280.00" font-size="19.8" text-anchor="start" fill="#231f20" >(c)</text>
<rect x="320.2" y="264.9" width="248.40" height="199.90" fill="none" stroke="#2a2a2a" stroke-width="1.4"/>
<line x1="334.81" y1="464.80" x2="334.81" y2="468.00" stroke="#2a2a2a" stroke-width="1.3"/>
<text x="334.81" y="481.20" font-size="13" text-anchor="middle" fill="#231f20" >1020</text>
<line x1="371.34" y1="464.80" x2="371.34" y2="466.60" stroke="#2a2a2a" stroke-width="1.3"/>
<line x1="407.87" y1="464.80" x2="407.87" y2="468.00" stroke="#2a2a2a" stroke-width="1.3"/>
<text x="407.87" y="481.20" font-size="13" text-anchor="middle" fill="#231f20" >1030</text>
<line x1="444.40" y1="464.80" x2="444.40" y2="466.60" stroke="#2a2a2a" stroke-width="1.3"/>
<line x1="480.93" y1="464.80" x2="480.93" y2="468.00" stroke="#2a2a2a" stroke-width="1.3"/>
<text x="480.93" y="481.20" font-size="13" text-anchor="middle" fill="#231f20" >1040</text>
<line x1="517.46" y1="464.80" x2="517.46" y2="466.60" stroke="#2a2a2a" stroke-width="1.3"/>
<line x1="553.99" y1="464.80" x2="553.99" y2="468.00" stroke="#2a2a2a" stroke-width="1.3"/>
<text x="553.99" y="481.20" font-size="13" text-anchor="middle" fill="#231f20" >1050</text>
<text x="444.40" y="499.70" font-size="13.3" text-anchor="middle" fill="#231f20" >Binding energy (eV)</text>
<text x="310.9" y="364.85" font-size="13.3" text-anchor="middle" fill="#231f20" transform="rotate(-90 310.9 364.85)">Intensity (a.u.)</text>
<path d="M320.9,325.2 321.9,325.1 322.9,324.9 323.9,324.8 324.9,324.7 325.9,324.5 326.9,324.3 327.9,324.1 328.9,323.9 329.9,323.6 330.9,323.2 331.9,322.8 332.9,322.3 333.9,321.6 334.9,320.7 335.9,319.5 336.9,317.9 337.9,315.6 338.9,312.7 339.9,309.0 340.9,304.4 341.9,299.0 342.9,292.8 343.9,286.2 344.9,279.7 345.9,274.0 346.9,270.1 347.9,269.0 348.9,270.7 349.9,275.0 350.9,280.9 351.9,287.5 352.9,294.0 353.9,300.0 354.9,305.3 355.9,309.7 356.9,313.2 357.9,316.0 358.9,318.1 359.9,319.6 360.9,320.7 361.9,321.5 362.9,322.2 363.9,322.6 364.9,323.0 365.9,323.3 366.9,323.5 367.9,323.7 368.9,323.9 369.9,324.1 370.9,324.2 371.9,324.3 372.9,324.4 373.9,324.5 374.9,324.6 375.9,324.7 376.9,324.7 377.9,324.8 378.9,324.8 379.9,324.8 380.9,324.8 381.9,324.8 382.9,324.8 383.9,324.8 384.9,324.8 385.9,324.8 386.9,324.7 387.9,324.7 388.9,324.7 389.9,324.7 390.9,324.6 391.9,324.6 392.9,324.6 393.9,324.5 394.9,324.5 395.9,324.5 396.9,324.4 397.9,324.4 398.9,324.4 399.9,324.3 400.9,324.3 401.9,324.2 402.9,324.2 403.9,324.2 404.9,324.1 405.9,324.1 406.9,324.0 407.9,324.0 408.9,323.9 409.9,323.9 410.9,323.9 411.9,323.8 412.9,323.8 413.9,323.7 414.9,323.7 415.9,323.6 416.9,323.6 417.9,323.5 418.9,323.5 419.9,323.4 420.9,323.4 421.9,323.4 422.9,323.3 423.9,323.3 424.9,323.2 425.9,323.2 426.9,323.1 427.9,323.1 428.9,323.0 429.9,323.0 430.9,322.9 431.9,322.9 432.9,322.8 433.9,322.8 434.9,322.7 435.9,322.7 436.9,322.6 437.9,322.6 438.9,322.5 439.9,322.5 440.9,322.4 441.9,322.4 442.9,322.3 443.9,322.3 444.9,322.2 445.9,322.2 446.9,322.1 447.9,322.1 448.9,322.0 449.9,322.0 450.9,321.9 451.9,321.8 452.9,321.8 453.9,321.7 454.9,321.7 455.9,321.6 456.9,321.6 457.9,321.5 458.9,321.5 459.9,321.4 460.9,321.4 461.9,321.3 462.9,321.2 463.9,321.2 464.9,321.1 465.9,321.1 466.9,321.0 467.9,321.0 468.9,320.9 469.9,320.8 470.9,320.8 471.9,320.7 472.9,320.7 473.9,320.6 474.9,320.5 475.9,320.5 476.9,320.4 477.9,320.4 478.9,320.3 479.9,320.2 480.9,320.1 481.9,320.1 482.9,320.0 483.9,319.9 484.9,319.9 485.9,319.8 486.9,319.7 487.9,319.6 488.9,319.5 489.9,319.4 490.9,319.3 491.9,319.2 492.9,319.1 493.9,319.0 494.9,318.9 495.9,318.7 496.9,318.6 497.9,318.4 498.9,318.2 499.9,317.9 500.9,317.7 501.9,317.4 502.9,317.0 503.9,316.5 504.9,315.8 505.9,314.8 506.9,313.6 507.9,312.2 508.9,310.4 509.9,308.2 510.9,305.9 511.9,303.3 512.9,300.7 513.9,298.2 514.9,296.2 515.9,295.0 516.9,294.8 517.9,295.7 518.9,297.4 519.9,299.8 520.9,302.4 521.9,305.0 522.9,307.5 523.9,309.7 524.9,311.7 525.9,313.3 526.9,314.7 527.9,315.7 528.9,316.5 529.9,317.2 530.9,317.6 531.9,318.0 532.9,318.3 533.9,318.5 534.9,318.7 535.9,318.8 536.9,319.0 537.9,319.1 538.9,319.2 539.9,319.3 540.9,319.3 541.9,319.4 542.9,319.5 543.9,319.5 544.9,319.6 545.9,319.6 546.9,319.7 547.9,319.7 548.9,319.8 549.9,319.8 550.9,319.8 551.9,319.9 552.9,319.9 553.9,319.9 554.9,320.0 555.9,320.0 556.9,320.0 557.9,320.1 558.9,320.1 559.9,320.1 560.9,320.1 561.9,320.2 562.9,320.2 563.9,320.2 564.9,320.2 565.9,320.2 566.9,320.3 567.9,320.3" fill="none" stroke="#e5378f" stroke-width="1.6" stroke-linejoin="round" />
<path d="M320.9,386.1 321.9,386.0 322.9,385.9 323.9,385.8 324.9,385.7 325.9,385.6 326.9,385.5 327.9,385.4 328.9,385.3 329.9,385.1 330.9,385.0 331.9,384.8 332.9,384.5 333.9,384.3 334.9,384.0 335.9,383.6 336.9,383.1 337.9,382.4 338.9,381.6 339.9,380.4 340.9,378.8 341.9,376.7 342.9,374.0 343.9,370.5 344.9,366.2 345.9,361.1 346.9,355.3 347.9,349.1 348.9,342.8 349.9,337.3 350.9,333.3 351.9,331.6 352.9,332.7 353.9,336.3 354.9,341.6 355.9,347.7 356.9,354.0 357.9,359.9 358.9,365.1 359.9,369.5 360.9,373.2 361.9,376.0 362.9,378.2 363.9,379.8 364.9,381.0 365.9,381.9 366.9,382.6 367.9,383.1 368.9,383.5 369.9,383.8 370.9,384.0 371.9,384.2 372.9,384.4 373.9,384.6 374.9,384.7 375.9,384.8 376.9,384.9 377.9,385.0 378.9,385.0 379.9,385.1 380.9,385.1 381.9,385.1 382.9,385.1 383.9,385.2 384.9,385.2 385.9,385.2 386.9,385.2 387.9,385.2 388.9,385.2 389.9,385.2 390.9,385.1 391.9,385.1 392.9,385.1 393.9,385.1 394.9,385.1 395.9,385.1 396.9,385.0 397.9,385.0 398.9,385.0 399.9,385.0 400.9,384.9 401.9,384.9 402.9,384.9 403.9,384.8 404.9,384.8 405.9,384.8 406.9,384.8 407.9,384.7 408.9,384.7 409.9,384.7 410.9,384.6 411.9,384.6 412.9,384.6 413.9,384.5 414.9,384.5 415.9,384.4 416.9,384.4 417.9,384.4 418.9,384.3 419.9,384.3 420.9,384.3 421.9,384.2 422.9,384.2 423.9,384.2 424.9,384.1 425.9,384.1 426.9,384.0 427.9,384.0 428.9,384.0 429.9,383.9 430.9,383.9 431.9,383.8 432.9,383.8 433.9,383.8 434.9,383.7 435.9,383.7 436.9,383.6 437.9,383.6 438.9,383.6 439.9,383.5 440.9,383.5 441.9,383.4 442.9,383.4 443.9,383.4 444.9,383.3 445.9,383.3 446.9,383.2 447.9,383.2 448.9,383.1 449.9,383.1 450.9,383.1 451.9,383.0 452.9,383.0 453.9,382.9 454.9,382.9 455.9,382.8 456.9,382.8 457.9,382.7 458.9,382.7 459.9,382.7 460.9,382.6 461.9,382.6 462.9,382.5 463.9,382.5 464.9,382.4 465.9,382.4 466.9,382.3 467.9,382.3 468.9,382.2 469.9,382.2 470.9,382.1 471.9,382.1 472.9,382.0 473.9,382.0 474.9,381.9 475.9,381.9 476.9,381.8 477.9,381.8 478.9,381.7 479.9,381.7 480.9,381.6 481.9,381.6 482.9,381.5 483.9,381.4 484.9,381.4 485.9,381.3 486.9,381.2 487.9,381.2 488.9,381.1 489.9,381.0 490.9,381.0 491.9,380.9 492.9,380.8 493.9,380.7 494.9,380.6 495.9,380.5 496.9,380.4 497.9,380.3 498.9,380.1 499.9,380.0 500.9,379.8 501.9,379.7 502.9,379.5 503.9,379.2 504.9,378.9 505.9,378.5 506.9,377.9 507.9,377.2 508.9,376.2 509.9,375.0 510.9,373.5 511.9,371.7 512.9,369.5 513.9,367.1 514.9,364.4 515.9,361.7 516.9,359.0 517.9,356.8 518.9,355.3 519.9,354.9 520.9,355.5 521.9,357.1 522.9,359.4 523.9,362.1 524.9,364.8 525.9,367.4 526.9,369.8 527.9,371.9 528.9,373.6 529.9,375.0 530.9,376.1 531.9,377.0 532.9,377.7 533.9,378.2 534.9,378.5 535.9,378.8 536.9,379.0 537.9,379.2 538.9,379.3 539.9,379.4 540.9,379.5 541.9,379.6 542.9,379.7 543.9,379.7 544.9,379.8 545.9,379.8 546.9,379.8 547.9,379.9 548.9,379.9 549.9,379.9 550.9,379.9 551.9,379.9 552.9,380.0 553.9,380.0 554.9,380.0 555.9,380.0 556.9,380.0 557.9,380.0 558.9,380.0 559.9,380.0 560.9,380.0 561.9,380.0 562.9,380.0 563.9,380.0 564.9,380.0 565.9,380.0 566.9,380.0 567.9,380.0" fill="none" stroke="#62b6e8" stroke-width="1.6" stroke-linejoin="round" />
<path d="M320.9,448.8 321.9,448.7 322.9,448.6 323.9,448.5 324.9,448.3 325.9,448.2 326.9,448.0 327.9,447.8 328.9,447.6 329.9,447.4 330.9,447.1 331.9,446.7 332.9,446.3 333.9,445.7 334.9,445.0 335.9,444.1 336.9,442.8 337.9,441.0 338.9,438.7 339.9,435.7 340.9,431.7 341.9,426.9 342.9,421.0 343.9,414.3 344.9,407.0 345.9,399.6 346.9,392.8 347.9,387.6 348.9,385.0 349.9,385.7 350.9,389.4 351.9,395.3 352.9,402.5 353.9,409.9 354.9,417.0 355.9,423.4 356.9,428.8 357.9,433.3 358.9,436.8 359.9,439.6 360.9,441.6 361.9,443.2 362.9,444.3 363.9,445.1 364.9,445.7 365.9,446.2 366.9,446.6 367.9,446.9 368.9,447.2 369.9,447.4 370.9,447.6 371.9,447.8 372.9,447.9 373.9,448.0 374.9,448.1 375.9,448.2 376.9,448.3 377.9,448.4 378.9,448.5 379.9,448.5 380.9,448.5 381.9,448.6 382.9,448.6 383.9,448.6 384.9,448.6 385.9,448.6 386.9,448.6 387.9,448.6 388.9,448.6 389.9,448.6 390.9,448.6 391.9,448.6 392.9,448.6 393.9,448.6 394.9,448.6 395.9,448.6 396.9,448.5 397.9,448.5 398.9,448.5 399.9,448.5 400.9,448.5 401.9,448.4 402.9,448.4 403.9,448.4 404.9,448.4 405.9,448.4 406.9,448.3 407.9,448.3 408.9,448.3 409.9,448.3 410.9,448.2 411.9,448.2 412.9,448.2 413.9,448.2 414.9,448.1 415.9,448.1 416.9,448.1 417.9,448.0 418.9,448.0 419.9,448.0 420.9,448.0 421.9,447.9 422.9,447.9 423.9,447.9 424.9,447.8 425.9,447.8 426.9,447.8 427.9,447.7 428.9,447.7 429.9,447.7 430.9,447.6 431.9,447.6 432.9,447.6 433.9,447.5 434.9,447.5 435.9,447.5 436.9,447.4 437.9,447.4 438.9,447.4 439.9,447.3 440.9,447.3 441.9,447.3 442.9,447.2 443.9,447.2 444.9,447.2 445.9,447.1 446.9,447.1 447.9,447.1 448.9,447.0 449.9,447.0 450.9,446.9 451.9,446.9 452.9,446.9 453.9,446.8 454.9,446.8 455.9,446.8 456.9,446.7 457.9,446.7 458.9,446.6 459.9,446.6 460.9,446.6 461.9,446.5 462.9,446.5 463.9,446.5 464.9,446.4 465.9,446.4 466.9,446.3 467.9,446.3 468.9,446.2 469.9,446.2 470.9,446.2 471.9,446.1 472.9,446.1 473.9,446.0 474.9,446.0 475.9,445.9 476.9,445.9 477.9,445.8 478.9,445.8 479.9,445.7 480.9,445.6 481.9,445.6 482.9,445.5 483.9,445.5 484.9,445.4 485.9,445.3 486.9,445.3 487.9,445.2 488.9,445.1 489.9,445.0 490.9,444.9 491.9,444.8 492.9,444.7 493.9,444.6 494.9,444.5 495.9,444.3 496.9,444.2 497.9,444.0 498.9,443.8 499.9,443.6 500.9,443.3 501.9,442.9 502.9,442.5 503.9,441.9 504.9,441.1 505.9,440.0 506.9,438.7 507.9,437.0 508.9,435.0 509.9,432.5 510.9,429.7 511.9,426.6 512.9,423.3 513.9,420.1 514.9,417.3 515.9,415.2 516.9,414.3 517.9,414.7 518.9,416.3 519.9,418.8 520.9,421.9 521.9,425.2 522.9,428.3 523.9,431.3 524.9,433.8 525.9,436.0 526.9,437.9 527.9,439.3 528.9,440.4 529.9,441.3 530.9,441.9 531.9,442.4 532.9,442.8 533.9,443.1 534.9,443.3 535.9,443.5 536.9,443.6 537.9,443.7 538.9,443.8 539.9,443.9 540.9,444.0 541.9,444.1 542.9,444.1 543.9,444.2 544.9,444.2 545.9,444.2 546.9,444.3 547.9,444.3 548.9,444.3 549.9,444.3 550.9,444.4 551.9,444.4 552.9,444.4 553.9,444.4 554.9,444.4 555.9,444.4 556.9,444.4 557.9,444.4 558.9,444.4 559.9,444.5 560.9,444.5 561.9,444.5 562.9,444.5 563.9,444.5 564.9,444.5 565.9,444.5 566.9,444.5 567.9,444.5" fill="none" stroke="#76c267" stroke-width="1.6" stroke-linejoin="round" />
<line x1="349.20" y1="266.60" x2="349.20" y2="417.30" stroke="#2a2a2a" stroke-width="1.8" stroke-dasharray="3.6,3.2"/>
<line x1="517.10" y1="272.90" x2="517.10" y2="431.40" stroke="#2a2a2a" stroke-width="1.8" stroke-dasharray="3.6,3.2"/>
<line x1="347.60" y1="267.30" x2="347.60" y2="295.00" stroke="#ee4d4a" stroke-width="1.6" stroke-dasharray="3.2,3"/>
<line x1="352.20" y1="314.80" x2="352.20" y2="351.80" stroke="#ee4d4a" stroke-width="1.6" stroke-dasharray="3.2,3"/>
<line x1="515.80" y1="272.90" x2="515.80" y2="309.90" stroke="#ee4d4a" stroke-width="1.6" stroke-dasharray="3.2,3"/>
<line x1="521.10" y1="336.30" x2="521.10" y2="373.30" stroke="#ee4d4a" stroke-width="1.6" stroke-dasharray="3.2,3"/>
<text x="564.40" y="279.50" font-size="13" text-anchor="end" fill="#231f20" >Zn 2p</text>
<text x="357.30" y="282.50" font-size="13" text-anchor="start" fill="#231f20" >2p<tspan font-size="8.6" dy="3.4">3/2</tspan></text>
<text x="521.90" y="295.40" font-size="13" text-anchor="start" fill="#231f20" >2p<tspan font-size="8.6" dy="3.4">1/2</tspan></text>
<text x="415.00" y="315.90" font-size="12.5" text-anchor="start" fill="#231f20" >WZC30-Light</text>
<text x="415.80" y="375.30" font-size="12.5" text-anchor="start" fill="#231f20" >WZC30-Dark</text>
<text x="419.70" y="438.70" font-size="12.5" text-anchor="start" fill="#231f20" >Zn<tspan font-size="8.6" dy="3.4">0.5</tspan><tspan dy="-3.4">Cd</tspan><tspan font-size="8.6" dy="3.4">0.5</tspan><tspan dy="-3.4">S</tspan></text>
<text x="293.70" y="280.00" font-size="19.8" text-anchor="start" fill="#231f20" >(d)</text>
<rect x="35.6" y="516.8" width="247.40" height="199.40" fill="none" stroke="#2a2a2a" stroke-width="1.4"/>
<line x1="35.60" y1="716.20" x2="35.60" y2="718.00" stroke="#2a2a2a" stroke-width="1.3"/>
<line x1="70.94" y1="716.20" x2="70.94" y2="719.40" stroke="#2a2a2a" stroke-width="1.3"/>
<text x="70.94" y="732.60" font-size="13" text-anchor="middle" fill="#231f20" >404</text>
<line x1="106.29" y1="716.20" x2="106.29" y2="718.00" stroke="#2a2a2a" stroke-width="1.3"/>
<line x1="141.63" y1="716.20" x2="141.63" y2="719.40" stroke="#2a2a2a" stroke-width="1.3"/>
<text x="141.63" y="732.60" font-size="13" text-anchor="middle" fill="#231f20" >408</text>
<line x1="176.97" y1="716.20" x2="176.97" y2="718.00" stroke="#2a2a2a" stroke-width="1.3"/>
<line x1="212.31" y1="716.20" x2="212.31" y2="719.40" stroke="#2a2a2a" stroke-width="1.3"/>
<text x="212.31" y="732.60" font-size="13" text-anchor="middle" fill="#231f20" >412</text>
<line x1="247.66" y1="716.20" x2="247.66" y2="718.00" stroke="#2a2a2a" stroke-width="1.3"/>
<line x1="283.00" y1="716.20" x2="283.00" y2="719.40" stroke="#2a2a2a" stroke-width="1.3"/>
<text x="283.00" y="732.60" font-size="13" text-anchor="middle" fill="#231f20" >416</text>
<text x="159.30" y="751.10" font-size="13.3" text-anchor="middle" fill="#231f20" >Binding energy (eV)</text>
<text x="24.2" y="616.50" font-size="13.3" text-anchor="middle" fill="#231f20" transform="rotate(-90 24.2 616.50)">Intensity (a.u.)</text>
<path d="M36.3,576.5 37.3,576.6 38.3,577.2 39.3,576.8 40.3,576.7 41.3,576.7 42.3,576.1 43.3,576.2 44.3,576.4 45.3,576.8 46.3,576.0 47.3,575.8 48.3,575.3 49.3,576.0 50.3,576.3 51.3,575.5 52.3,576.3 53.3,576.6 54.3,576.4 55.3,576.1 56.3,575.1 57.3,574.2 58.3,574.1 59.3,573.2 60.3,572.5 61.3,571.8 62.3,570.5 63.3,569.8 64.3,568.5 65.3,567.5 66.3,565.4 67.3,563.1 68.3,560.2 69.3,557.3 70.3,553.7 71.3,549.6 72.3,546.4 73.3,542.8 74.3,538.7 75.3,534.5 76.3,530.1 77.3,526.1 78.3,522.9 79.3,520.1 80.3,519.2 81.3,518.4 82.3,519.2 83.3,519.9 84.3,522.4 85.3,525.2 86.3,527.4 87.3,530.6 88.3,535.4 89.3,539.3 90.3,544.0 91.3,547.6 92.3,550.7 93.3,554.7 94.3,558.4 95.3,560.9 96.3,563.0 97.3,565.2 98.3,568.1 99.3,569.9 100.3,570.5 101.3,571.3 102.3,571.8 103.3,572.2 104.3,573.6 105.3,573.7 106.3,574.3 107.3,574.6 108.3,574.5 109.3,575.2 110.3,574.8 111.3,575.3 112.3,574.9 113.3,575.0 114.3,574.9 115.3,574.9 116.3,575.8 117.3,576.2 118.3,575.7 119.3,576.3 120.3,575.7 121.3,575.5 122.3,576.1 123.3,576.2 124.3,575.5 125.3,576.3 126.3,575.7 127.3,575.4 128.3,575.9 129.3,575.6 130.3,575.4 131.3,575.0 132.3,574.7 133.3,575.3 134.3,575.1 135.3,575.5 136.3,575.4 137.3,575.5 138.3,576.3 139.3,576.0 140.3,576.0 141.3,576.4 142.3,575.7 143.3,575.2 144.3,576.0 145.3,576.3 146.3,575.7 147.3,575.3 148.3,575.8 149.3,576.4 150.3,575.7 151.3,576.3 152.3,576.6 153.3,576.3 154.3,575.9 155.3,575.2 156.3,574.7 157.3,575.7 158.3,575.3 159.3,575.7 160.3,575.2 161.3,575.8 162.3,575.8 163.3,575.3 164.3,574.8 165.3,575.3 166.3,574.7 167.3,574.5 168.3,574.8 169.3,575.4 170.3,575.3 171.3,574.8 172.3,575.3 173.3,574.6 174.3,573.8 175.3,573.6 176.3,573.6 177.3,572.9 178.3,572.4 179.3,572.2 180.3,572.0 181.3,570.9 182.3,570.1 183.3,569.8 184.3,569.1 185.3,567.5 186.3,565.7 187.3,563.5 188.3,560.5 189.3,557.5 190.3,554.5 191.3,552.7 192.3,550.2 193.3,547.9 194.3,544.1 195.3,541.8 196.3,539.5 197.3,537.9 198.3,536.1 199.3,535.9 200.3,534.8 201.3,535.3 202.3,536.6 203.3,538.5 204.3,540.5 205.3,542.8 206.3,545.4 207.3,548.4 208.3,550.6 209.3,553.5 210.3,556.5 211.3,559.3 212.3,561.1 213.3,563.5 214.3,565.6 215.3,567.1 216.3,568.4 217.3,569.2 218.3,570.3 219.3,571.2 220.3,571.1 221.3,572.0 222.3,573.2 223.3,573.7 224.3,573.9 225.3,573.6 226.3,573.9 227.3,573.9 228.3,573.7 229.3,574.2 230.3,573.4 231.3,573.9 232.3,573.1 233.3,573.5 234.3,573.6 235.3,573.2 236.3,573.7 237.3,573.7 238.3,573.8 239.3,574.4 240.3,573.7 241.3,573.0 242.3,573.0 243.3,573.5 244.3,573.1 245.3,572.9 246.3,573.7 247.3,573.9 248.3,573.7 249.3,574.2 250.3,573.7 251.3,573.8 252.3,573.3 253.3,573.3 254.3,573.8 255.3,574.2 256.3,574.4 257.3,573.9 258.3,573.8 259.3,573.4 260.3,572.8 261.3,573.0 262.3,573.6 263.3,574.0 264.3,574.0 265.3,574.3 266.3,573.6 267.3,573.0 268.3,573.0 269.3,572.7 270.3,572.5 271.3,572.6 272.3,573.0 273.3,573.0 274.3,572.8 275.3,573.4 276.3,573.9 277.3,573.5 278.3,572.7 279.3,572.1 280.3,573.0 281.3,572.3 282.3,572.8" fill="none" stroke="#e5378f" stroke-width="1.5" stroke-linejoin="round" />
<path d="M36.3,634.7 37.3,634.9 38.3,635.0 39.3,634.3 40.3,633.7 41.3,633.9 42.3,633.8 43.3,634.5 44.3,634.7 45.3,634.7 46.3,634.6 47.3,634.7 48.3,634.0 49.3,634.0 50.3,633.6 51.3,634.4 52.3,633.6 53.3,634.2 54.3,633.5 55.3,634.0 56.3,633.7 57.3,633.6 58.3,634.1 59.3,633.3 60.3,632.8 61.3,633.6 62.3,633.5 63.3,632.8 64.3,633.6 65.3,633.9 66.3,632.8 67.3,632.4 68.3,631.6 69.3,631.1 70.3,630.9 71.3,629.8 72.3,629.4 73.3,627.7 74.3,626.2 75.3,625.3 76.3,623.3 77.3,621.0 78.3,618.7 79.3,615.7 80.3,612.3 81.3,608.2 82.3,605.1 83.3,601.8 84.3,598.2 85.3,593.9 86.3,589.5 87.3,585.5 88.3,582.4 89.3,579.8 90.3,577.0 91.3,575.4 92.3,574.8 93.3,575.4 94.3,577.1 95.3,579.0 96.3,580.9 97.3,584.7 98.3,588.1 99.3,592.0 100.3,595.7 101.3,599.7 102.3,603.7 103.3,608.0 104.3,610.9 105.3,614.4 106.3,617.0 107.3,620.1 108.3,621.7 109.3,623.7 110.3,625.4 111.3,627.2 112.3,627.8 113.3,628.9 114.3,629.4 115.3,630.0 116.3,630.7 117.3,631.8 118.3,631.9 119.3,632.7 120.3,632.1 121.3,632.8 122.3,632.4 123.3,632.0 124.3,632.5 125.3,633.1 126.3,632.2 127.3,632.0 128.3,632.6 129.3,632.3 130.3,632.0 131.3,631.6 132.3,631.3 133.3,632.0 134.3,632.9 135.3,633.4 136.3,633.1 137.3,632.2 138.3,632.1 139.3,632.6 140.3,633.0 141.3,633.0 142.3,632.4 143.3,632.5 144.3,632.4 145.3,632.6 146.3,632.2 147.3,632.9 148.3,633.3 149.3,632.4 150.3,632.1 151.3,632.7 152.3,632.3 153.3,632.9 154.3,632.7 155.3,632.8 156.3,632.9 157.3,632.2 158.3,631.9 159.3,631.7 160.3,632.1 161.3,632.4 162.3,631.8 163.3,632.5 164.3,632.2 165.3,631.8 166.3,631.8 167.3,632.6 168.3,632.5 169.3,632.5 170.3,632.9 171.3,633.1 172.3,633.0 173.3,632.5 174.3,632.4 175.3,632.7 176.3,632.8 177.3,632.5 178.3,632.0 179.3,631.7 180.3,632.0 181.3,631.9 182.3,631.0 183.3,631.5 184.3,631.9 185.3,632.0 186.3,632.1 187.3,632.1 188.3,631.4 189.3,631.1 190.3,630.2 191.3,628.9 192.3,628.2 193.3,627.2 194.3,627.0 195.3,625.9 196.3,624.4 197.3,622.7 198.3,620.1 199.3,618.1 200.3,616.1 201.3,613.2 202.3,610.2 203.3,607.3 204.3,604.4 205.3,602.0 206.3,598.9 207.3,596.2 208.3,594.2 209.3,593.2 210.3,592.7 211.3,592.3 212.3,593.0 213.3,593.2 214.3,593.8 215.3,595.8 216.3,598.1 217.3,600.3 218.3,603.4 219.3,606.1 220.3,608.7 221.3,611.4 222.3,614.9 223.3,616.6 224.3,618.8 225.3,620.7 226.3,622.3 227.3,624.1 228.3,625.2 229.3,627.2 230.3,628.0 231.3,629.0 232.3,628.9 233.3,629.4 234.3,630.0 235.3,630.8 236.3,630.4 237.3,630.6 238.3,631.2 239.3,631.6 240.3,631.0 241.3,631.1 242.3,631.5 243.3,631.2 244.3,631.4 245.3,631.5 246.3,632.0 247.3,631.8 248.3,631.8 249.3,631.3 250.3,631.6 251.3,631.2 252.3,631.2 253.3,631.0 254.3,630.8 255.3,630.5 256.3,630.4 257.3,630.8 258.3,630.6 259.3,630.2 260.3,631.0 261.3,630.8 262.3,631.6 263.3,631.5 264.3,631.2 265.3,631.7 266.3,632.1 267.3,631.5 268.3,630.8 269.3,631.1 270.3,631.6 271.3,631.6 272.3,631.8 273.3,631.4 274.3,631.5 275.3,631.0 276.3,630.9 277.3,630.8 278.3,630.8 279.3,630.8 280.3,631.3 281.3,630.8 282.3,630.5" fill="none" stroke="#62b6e8" stroke-width="1.5" stroke-linejoin="round" />
<path d="M36.3,703.1 37.3,703.5 38.3,703.7 39.3,704.1 40.3,703.4 41.3,703.0 42.3,702.6 43.3,702.5 44.3,703.2 45.3,702.7 46.3,702.9 47.3,702.6 48.3,702.6 49.3,702.7 50.3,703.3 51.3,703.4 52.3,702.5 53.3,702.4 54.3,702.0 55.3,702.8 56.3,703.1 57.3,703.2 58.3,703.2 59.3,702.9 60.3,702.9 61.3,702.4 62.3,701.0 63.3,700.7 64.3,699.4 65.3,698.5 66.3,696.9 67.3,694.9 68.3,692.6 69.3,690.1 70.3,687.0 71.3,683.3 72.3,680.3 73.3,676.6 74.3,672.7 75.3,667.7 76.3,662.4 77.3,657.4 78.3,651.4 79.3,646.7 80.3,641.8 81.3,637.0 82.3,633.1 83.3,630.5 84.3,628.2 85.3,627.4 86.3,627.7 87.3,628.6 88.3,630.2 89.3,633.3 90.3,636.8 91.3,641.0 92.3,645.6 93.3,650.8 94.3,655.6 95.3,661.4 96.3,667.2 97.3,671.7 98.3,676.5 99.3,681.1 100.3,683.8 101.3,686.7 102.3,690.2 103.3,693.1 104.3,695.2 105.3,696.2 106.3,697.6 107.3,699.3 108.3,700.6 109.3,701.4 110.3,701.2 111.3,702.1 112.3,702.1 113.3,702.6 114.3,702.1 115.3,703.0 116.3,703.1 117.3,703.3 118.3,702.7 119.3,703.0 120.3,703.1 121.3,703.2 122.3,702.9 123.3,703.3 124.3,702.9 125.3,702.7 126.3,702.4 127.3,702.9 128.3,702.4 129.3,702.3 130.3,702.0 131.3,702.7 132.3,702.9 133.3,703.1 134.3,702.5 135.3,702.7 136.3,702.6 137.3,702.3 138.3,701.9 139.3,703.1 140.3,702.6 141.3,702.6 142.3,702.5 143.3,702.9 144.3,702.4 145.3,702.7 146.3,702.7 147.3,703.3 148.3,702.6 149.3,702.6 150.3,702.8 151.3,703.6 152.3,703.4 153.3,703.3 154.3,703.5 155.3,703.0 156.3,702.4 157.3,702.7 158.3,703.4 159.3,703.6 160.3,703.1 161.3,703.3 162.3,703.6 163.3,703.0 164.3,703.1 165.3,702.7 166.3,702.4 167.3,702.2 168.3,701.9 169.3,702.0 170.3,701.5 171.3,701.7 172.3,701.4 173.3,702.1 174.3,702.2 175.3,701.4 176.3,702.0 177.3,701.4 178.3,701.3 179.3,701.3 180.3,700.7 181.3,700.1 182.3,699.7 183.3,698.7 184.3,698.7 185.3,697.1 186.3,696.5 187.3,694.6 188.3,692.6 189.3,690.6 190.3,687.8 191.3,684.9 192.3,682.2 193.3,679.2 194.3,676.6 195.3,673.6 196.3,668.9 197.3,665.4 198.3,661.3 199.3,658.7 200.3,655.4 201.3,653.6 202.3,651.6 203.3,649.7 204.3,648.7 205.3,648.9 206.3,650.8 207.3,652.0 208.3,654.5 209.3,657.2 210.3,660.3 211.3,664.3 212.3,667.4 213.3,671.5 214.3,675.2 215.3,679.1 216.3,682.0 217.3,685.4 218.3,687.6 219.3,689.9 220.3,691.9 221.3,694.0 222.3,695.7 223.3,696.0 224.3,696.5 225.3,697.5 226.3,698.6 227.3,699.0 228.3,699.0 229.3,700.0 230.3,699.7 231.3,699.2 232.3,698.9 233.3,698.7 234.3,699.6 235.3,699.2 236.3,699.9 237.3,700.4 238.3,701.0 239.3,701.0 240.3,700.5 241.3,700.5 242.3,700.7 243.3,700.7 244.3,700.1 245.3,700.4 246.3,699.6 247.3,699.4 248.3,700.3 249.3,700.0 250.3,699.6 251.3,700.0 252.3,699.8 253.3,699.1 254.3,698.6 255.3,698.7 256.3,698.8 257.3,699.7 258.3,699.3 259.3,699.8 260.3,700.2 261.3,699.7 262.3,700.3 263.3,700.3 264.3,699.9 265.3,699.3 266.3,699.2 267.3,699.8 268.3,699.6 269.3,699.0 270.3,698.8 271.3,698.9 272.3,698.5 273.3,698.8 274.3,698.2 275.3,698.9 276.3,698.5 277.3,698.1 278.3,698.5 279.3,698.3 280.3,699.0 281.3,698.9 282.3,698.8" fill="none" stroke="#76c267" stroke-width="1.5" stroke-linejoin="round" />
<line x1="85.20" y1="518.10" x2="85.20" y2="669.60" stroke="#2a2a2a" stroke-width="1.5" stroke-dasharray="3.6,3.2"/>
<line x1="204.90" y1="525.60" x2="204.90" y2="676.20" stroke="#2a2a2a" stroke-width="1.5" stroke-dasharray="3.6,3.2"/>
<line x1="81.60" y1="522.00" x2="81.60" y2="548.20" stroke="#ee4d4a" stroke-width="1.6" stroke-dasharray="3.2,3"/>
<line x1="92.00" y1="564.50" x2="92.00" y2="587.70" stroke="#ee4d4a" stroke-width="1.6" stroke-dasharray="3.2,3"/>
<line x1="200.40" y1="525.60" x2="200.40" y2="556.00" stroke="#ee4d4a" stroke-width="1.6" stroke-dasharray="3.2,3"/>
<line x1="212.00" y1="584.20" x2="212.00" y2="606.10" stroke="#ee4d4a" stroke-width="1.6" stroke-dasharray="3.2,3"/>
<text x="280.20" y="530.90" font-size="13" text-anchor="end" fill="#231f20" >Cd 3d</text>
<text x="93.20" y="531.70" font-size="13" text-anchor="start" fill="#231f20" >3d<tspan font-size="8.6" dy="3.4">5/2</tspan></text>
<text x="211.50" y="541.40" font-size="13" text-anchor="start" fill="#231f20" >3d<tspan font-size="8.6" dy="3.4">3/2</tspan></text>
<text x="106.10" y="569.80" font-size="12.5" text-anchor="start" fill="#231f20" >WZC30-Light</text>
<text x="117.70" y="625.40" font-size="12.5" text-anchor="start" fill="#231f20" >WZC30-Dark</text>
<text x="115.40" y="693.50" font-size="12.5" text-anchor="start" fill="#231f20" >Zn<tspan font-size="8.6" dy="3.4">0.5</tspan><tspan dy="-3.4">Cd</tspan><tspan font-size="8.6" dy="3.4">0.5</tspan><tspan dy="-3.4">S</tspan></text>
<text x="11.70" y="531.50" font-size="19.8" text-anchor="start" fill="#231f20" >(e)</text>
<rect x="320.1" y="516.8" width="248.10" height="199.70" fill="none" stroke="#2a2a2a" stroke-width="1.4"/>
<line x1="320.10" y1="716.50" x2="320.10" y2="719.70" stroke="#2a2a2a" stroke-width="1.3"/>
<text x="320.10" y="732.90" font-size="13" text-anchor="middle" fill="#231f20" >158</text>
<line x1="347.67" y1="716.50" x2="347.67" y2="718.30" stroke="#2a2a2a" stroke-width="1.3"/>
<line x1="375.23" y1="716.50" x2="375.23" y2="719.70" stroke="#2a2a2a" stroke-width="1.3"/>
<text x="375.23" y="732.90" font-size="13" text-anchor="middle" fill="#231f20" >160</text>
<line x1="402.80" y1="716.50" x2="402.80" y2="718.30" stroke="#2a2a2a" stroke-width="1.3"/>
<line x1="430.37" y1="716.50" x2="430.37" y2="719.70" stroke="#2a2a2a" stroke-width="1.3"/>
<text x="430.37" y="732.90" font-size="13" text-anchor="middle" fill="#231f20" >162</text>
<line x1="457.93" y1="716.50" x2="457.93" y2="718.30" stroke="#2a2a2a" stroke-width="1.3"/>
<line x1="485.50" y1="716.50" x2="485.50" y2="719.70" stroke="#2a2a2a" stroke-width="1.3"/>
<text x="485.50" y="732.90" font-size="13" text-anchor="middle" fill="#231f20" >164</text>
<line x1="513.07" y1="716.50" x2="513.07" y2="718.30" stroke="#2a2a2a" stroke-width="1.3"/>
<line x1="540.63" y1="716.50" x2="540.63" y2="719.70" stroke="#2a2a2a" stroke-width="1.3"/>
<text x="540.63" y="732.90" font-size="13" text-anchor="middle" fill="#231f20" >166</text>
<line x1="568.20" y1="716.50" x2="568.20" y2="718.30" stroke="#2a2a2a" stroke-width="1.3"/>
<text x="444.15" y="751.40" font-size="13.3" text-anchor="middle" fill="#231f20" >Binding energy (eV)</text>
<text x="310.9" y="616.65" font-size="13.3" text-anchor="middle" fill="#231f20" transform="rotate(-90 310.9 616.65)">Intensity (a.u.)</text>
<path d="M320.8,579.5 566.8,577.6" fill="none" stroke="#f5b98a" stroke-width="1.1" stroke-linejoin="round" />
<path d="M356.8,579.1 357.8,579.0 358.8,579.0 359.8,578.9 360.8,578.9 361.8,578.8 362.8,578.7 363.8,578.6 364.8,578.4 365.8,578.2 366.8,578.0 367.8,577.8 368.8,577.5 369.8,577.2 370.8,576.9 371.8,576.4 372.8,576.0 373.8,575.4 374.8,574.8 375.8,574.1 376.8,573.3 377.8,572.4 378.8,571.4 379.8,570.4 380.8,569.2 381.8,567.9 382.8,566.5 383.8,564.9 384.8,563.3 385.8,561.6 386.8,559.7 387.8,557.7 388.8,555.7 389.8,553.6 390.8,551.4 391.8,549.2 392.8,546.9 393.8,544.6 394.8,542.3 395.8,540.0 396.8,537.8 397.8,535.7 398.8,533.6 399.8,531.7 400.8,529.9 401.8,528.3 402.8,526.8 403.8,525.6 404.8,524.6 405.8,523.8 406.8,523.2 407.8,522.9 408.8,522.8 409.8,523.0 410.8,523.5 411.8,524.2 412.8,525.1 413.8,526.2 414.8,527.6 415.8,529.1 416.8,530.8 417.8,532.7 418.8,534.7 419.8,536.8 420.8,539.0 421.8,541.2 422.8,543.5 423.8,545.7 424.8,548.0 425.8,550.2 426.8,552.4 427.8,554.6 428.8,556.6 429.8,558.6 430.8,560.5 431.8,562.3 432.8,563.9 433.8,565.5 434.8,566.9 435.8,568.2 436.8,569.5 437.8,570.6 438.8,571.6 439.8,572.5 440.8,573.3 441.8,574.0 442.8,574.7 443.8,575.2 444.8,575.7 445.8,576.1 446.8,576.5 447.8,576.8 448.8,577.1 449.8,577.3 450.8,577.5 451.8,577.7 452.8,577.8 453.8,577.9 454.8,578.0 455.8,578.1 456.8,578.2 457.8,578.2 458.8,578.3 459.8,578.3" fill="none" stroke="#9fd27e" stroke-width="1.2" stroke-linejoin="round" />
<path d="M396.8,578.8 397.8,578.7 398.8,578.7 399.8,578.6 400.8,578.5 401.8,578.4 402.8,578.3 403.8,578.2 404.8,578.1 405.8,577.9 406.8,577.7 407.8,577.5 408.8,577.3 409.8,577.0 410.8,576.7 411.8,576.3 412.8,575.9 413.8,575.5 414.8,575.0 415.8,574.4 416.8,573.8 417.8,573.1 418.8,572.4 419.8,571.6 420.8,570.8 421.8,569.9 422.8,569.0 423.8,568.0 424.8,566.9 425.8,565.8 426.8,564.7 427.8,563.6 428.8,562.5 429.8,561.3 430.8,560.2 431.8,559.1 432.8,558.0 433.8,557.0 434.8,556.0 435.8,555.1 436.8,554.3 437.8,553.6 438.8,552.9 439.8,552.4 440.8,552.0 441.8,551.7 442.8,551.6 443.8,551.6 444.8,551.7 445.8,551.9 446.8,552.3 447.8,552.7 448.8,553.3 449.8,554.0 450.8,554.8 451.8,555.7 452.8,556.6 453.8,557.6 454.8,558.7 455.8,559.8 456.8,560.9 457.8,562.0 458.8,563.2 459.8,564.3 460.8,565.4 461.8,566.4 462.8,567.5 463.8,568.4 464.8,569.4 465.8,570.3 466.8,571.1 467.8,571.9 468.8,572.6 469.8,573.3 470.8,573.9 471.8,574.4 472.8,574.9 473.8,575.4 474.8,575.8 475.8,576.1 476.8,576.4 477.8,576.7 478.8,576.9 479.8,577.2 480.8,577.3 481.8,577.5 482.8,577.6 483.8,577.7 484.8,577.8 485.8,577.9 486.8,577.9 487.8,578.0 488.8,578.0 489.8,578.0" fill="none" stroke="#e3e45a" stroke-width="1.2" stroke-linejoin="round" />
<g fill="none" stroke="#86d3d6" stroke-width="0.8"><circle cx="322.8" cy="578.0" r="2.3"/><circle cx="325.2" cy="579.2" r="2.3"/><circle cx="326.8" cy="578.6" r="2.3"/><circle cx="329.4" cy="579.6" r="2.3"/><circle cx="331.6" cy="578.9" r="2.3"/><circle cx="333.9" cy="579.1" r="2.3"/><circle cx="335.5" cy="578.7" r="2.3"/><circle cx="337.9" cy="580.3" r="2.3"/><circle cx="340.5" cy="579.1" r="2.3"/><circle cx="342.0" cy="579.8" r="2.3"/><circle cx="344.8" cy="579.6" r="2.3"/><circle cx="347.0" cy="578.8" r="2.3"/><circle cx="348.8" cy="578.7" r="2.3"/><circle cx="350.9" cy="578.5" r="2.3"/><circle cx="353.3" cy="580.1" r="2.3"/><circle cx="355.5" cy="580.0" r="2.3"/><circle cx="358.2" cy="579.0" r="2.3"/><circle cx="359.6" cy="578.9" r="2.3"/><circle cx="362.3" cy="578.4" r="2.3"/><circle cx="364.0" cy="577.1" r="2.3"/><circle cx="366.6" cy="578.0" r="2.3"/><circle cx="368.8" cy="576.1" r="2.3"/><circle cx="371.3" cy="575.3" r="2.3"/><circle cx="372.8" cy="575.0" r="2.3"/><circle cx="375.0" cy="574.4" r="2.3"/><circle cx="377.1" cy="571.8" r="2.3"/><circle cx="379.4" cy="570.7" r="2.3"/><circle cx="381.6" cy="567.8" r="2.3"/><circle cx="384.4" cy="564.5" r="2.3"/><circle cx="386.4" cy="560.7" r="2.3"/><circle cx="388.5" cy="556.1" r="2.3"/><circle cx="390.4" cy="551.2" r="2.3"/><circle cx="392.7" cy="545.6" r="2.3"/><circle cx="395.6" cy="541.1" r="2.3"/><circle cx="397.0" cy="534.6" r="2.3"/><circle cx="399.7" cy="531.7" r="2.3"/><circle cx="402.0" cy="526.9" r="2.3"/><circle cx="403.9" cy="526.0" r="2.3"/><circle cx="406.3" cy="523.0" r="2.3"/><circle cx="408.2" cy="523.4" r="2.3"/><circle cx="410.3" cy="522.4" r="2.3"/><circle cx="412.8" cy="524.2" r="2.3"/><circle cx="414.9" cy="525.4" r="2.3"/><circle cx="417.0" cy="527.4" r="2.3"/><circle cx="419.5" cy="532.2" r="2.3"/><circle cx="422.0" cy="533.9" r="2.3"/><circle cx="423.6" cy="537.2" r="2.3"/><circle cx="425.6" cy="539.3" r="2.3"/><circle cx="427.9" cy="541.8" r="2.3"/><circle cx="430.2" cy="544.7" r="2.3"/><circle cx="432.7" cy="544.5" r="2.3"/><circle cx="434.6" cy="546.4" r="2.3"/><circle cx="436.9" cy="546.4" r="2.3"/><circle cx="439.3" cy="546.4" r="2.3"/><circle cx="441.7" cy="548.0" r="2.3"/><circle cx="443.9" cy="548.5" r="2.3"/><circle cx="445.7" cy="550.2" r="2.3"/><circle cx="448.0" cy="553.7" r="2.3"/><circle cx="450.0" cy="555.8" r="2.3"/><circle cx="452.5" cy="558.7" r="2.3"/><circle cx="455.0" cy="560.1" r="2.3"/><circle cx="456.6" cy="563.4" r="2.3"/><circle cx="458.6" cy="565.7" r="2.3"/><circle cx="461.4" cy="568.1" r="2.3"/><circle cx="463.2" cy="570.1" r="2.3"/><circle cx="465.6" cy="572.5" r="2.3"/><circle cx="468.1" cy="573.8" r="2.3"/><circle cx="469.9" cy="574.7" r="2.3"/><circle cx="471.8" cy="575.9" r="2.3"/><circle cx="474.0" cy="576.3" r="2.3"/><circle cx="476.2" cy="577.8" r="2.3"/><circle cx="478.5" cy="578.1" r="2.3"/><circle cx="481.2" cy="578.5" r="2.3"/><circle cx="483.6" cy="578.1" r="2.3"/><circle cx="485.5" cy="578.9" r="2.3"/><circle cx="487.5" cy="577.9" r="2.3"/><circle cx="489.8" cy="578.4" r="2.3"/><circle cx="492.4" cy="579.7" r="2.3"/><circle cx="494.4" cy="578.0" r="2.3"/><circle cx="496.4" cy="579.7" r="2.3"/><circle cx="499.0" cy="578.0" r="2.3"/><circle cx="501.3" cy="578.6" r="2.3"/><circle cx="503.3" cy="579.5" r="2.3"/><circle cx="504.8" cy="579.5" r="2.3"/><circle cx="507.2" cy="579.2" r="2.3"/><circle cx="509.5" cy="577.8" r="2.3"/><circle cx="511.3" cy="578.7" r="2.3"/><circle cx="514.3" cy="578.4" r="2.3"/><circle cx="516.2" cy="578.4" r="2.3"/><circle cx="518.9" cy="577.9" r="2.3"/><circle cx="520.8" cy="577.8" r="2.3"/><circle cx="522.3" cy="578.5" r="2.3"/><circle cx="524.7" cy="579.1" r="2.3"/><circle cx="527.6" cy="579.1" r="2.3"/><circle cx="529.8" cy="578.8" r="2.3"/><circle cx="531.5" cy="577.7" r="2.3"/><circle cx="534.2" cy="577.6" r="2.3"/><circle cx="535.6" cy="576.9" r="2.3"/><circle cx="538.5" cy="578.7" r="2.3"/><circle cx="540.9" cy="578.1" r="2.3"/><circle cx="542.9" cy="577.6" r="2.3"/><circle cx="545.2" cy="577.4" r="2.3"/><circle cx="546.9" cy="576.6" r="2.3"/><circle cx="549.5" cy="577.5" r="2.3"/><circle cx="551.6" cy="577.1" r="2.3"/><circle cx="553.5" cy="578.1" r="2.3"/><circle cx="555.3" cy="576.5" r="2.3"/><circle cx="558.0" cy="577.8" r="2.3"/><circle cx="560.2" cy="576.8" r="2.3"/><circle cx="562.1" cy="576.1" r="2.3"/><circle cx="564.4" cy="576.3" r="2.3"/></g>
<path d="M320.8,579.5 321.8,579.5 322.8,579.6 323.8,579.6 324.8,579.7 325.8,579.8 326.8,579.8 327.8,579.9 328.8,579.9 329.8,580.0 330.8,580.0 331.8,580.1 332.8,580.1 333.8,580.2 334.8,580.2 335.8,580.2 336.8,580.3 337.8,580.3 338.8,580.3 339.8,580.3 340.8,580.3 341.8,580.3 342.8,580.4 343.8,580.3 344.8,580.3 345.8,580.3 346.8,580.3 347.8,580.3 348.8,580.2 349.8,580.2 350.8,580.1 351.8,580.1 352.8,580.0 353.8,579.9 354.8,579.9 355.8,579.8 356.8,579.7 357.8,579.6 358.8,579.5 359.8,579.3 360.8,579.2 361.8,579.0 362.8,578.9 363.8,578.7 364.8,578.5 365.8,578.3 366.8,578.0 367.8,577.8 368.8,577.5 369.8,577.1 370.8,576.8 371.8,576.4 372.8,575.9 373.8,575.5 374.8,574.9 375.8,574.3 376.8,573.6 377.8,572.9 378.8,572.0 379.8,571.1 380.8,570.0 381.8,568.8 382.8,567.4 383.8,566.0 384.8,564.3 385.8,562.6 386.8,560.7 387.8,558.6 388.8,556.5 389.8,554.2 390.8,551.8 391.8,549.4 392.8,547.0 393.8,544.5 394.8,542.1 395.8,539.8 396.8,537.6 397.8,535.5 398.8,533.5 399.8,531.7 400.8,530.1 401.8,528.6 402.8,527.3 403.8,526.1 404.8,525.2 405.8,524.4 406.8,523.8 407.8,523.5 408.8,523.3 409.8,523.4 410.8,523.7 411.8,524.1 412.8,524.8 413.8,525.5 414.8,526.5 415.8,527.5 416.8,528.7 417.8,529.9 418.8,531.2 419.8,532.6 420.8,534.0 421.8,535.4 422.8,536.8 423.8,538.2 424.8,539.6 425.8,540.8 426.8,541.9 427.8,542.9 428.8,543.7 429.8,544.4 430.8,545.0 431.8,545.5 432.8,545.8 433.8,546.1 434.8,546.3 435.8,546.5 436.8,546.7 437.8,546.8 438.8,547.0 439.8,547.3 440.8,547.6 441.8,548.1 442.8,548.7 443.8,549.4 444.8,550.3 445.8,551.2 446.8,552.3 447.8,553.3 448.8,554.4 449.8,555.6 450.8,556.8 451.8,558.0 452.8,559.2 453.8,560.4 454.8,561.7 455.8,563.0 456.8,564.3 457.8,565.5 458.8,566.8 459.8,568.0 460.8,569.1 461.8,570.1 462.8,571.1 463.8,572.0 464.8,572.8 465.8,573.5 466.8,574.2 467.8,574.8 468.8,575.4 469.8,575.9 470.8,576.3 471.8,576.7 472.8,577.1 473.8,577.4 474.8,577.7 475.8,578.0 476.8,578.2 477.8,578.4 478.8,578.6 479.8,578.8 480.8,578.9 481.8,579.1 482.8,579.2 483.8,579.3 484.8,579.4 485.8,579.5 486.8,579.5 487.8,579.6 488.8,579.6 489.8,579.6 490.8,579.7 491.8,579.7 492.8,579.7 493.8,579.7 494.8,579.7 495.8,579.7 496.8,579.7 497.8,579.6 498.8,579.6 499.8,579.6 500.8,579.6 501.8,579.6 502.8,579.5 503.8,579.5 504.8,579.5 505.8,579.5 506.8,579.4 507.8,579.4 508.8,579.4 509.8,579.4 510.8,579.3 511.8,579.3 512.8,579.3 513.8,579.3 514.8,579.2 515.8,579.2 516.8,579.2 517.8,579.2 518.8,579.1 519.8,579.1 520.8,579.1 521.8,579.0 522.8,579.0 523.8,579.0 524.8,579.0 525.8,578.9 526.8,578.9 527.8,578.9 528.8,578.8 529.8,578.8 530.8,578.8 531.8,578.7 532.8,578.7 533.8,578.7 534.8,578.7 535.8,578.6 536.8,578.6 537.8,578.6 538.8,578.5 539.8,578.5 540.8,578.5 541.8,578.4 542.8,578.4 543.8,578.4 544.8,578.3 545.8,578.3 546.8,578.3 547.8,578.2 548.8,578.2 549.8,578.1 550.8,578.1 551.8,578.1 552.8,578.0 553.8,578.0 554.8,578.0 555.8,577.9 556.8,577.9 557.8,577.9 558.8,577.8 559.8,577.8 560.8,577.8 561.8,577.7 562.8,577.7 563.8,577.7 564.8,577.6 565.8,577.6 566.8,577.5" fill="none" stroke="#e5378f" stroke-width="1.6" stroke-linejoin="round" />
<path d="M320.8,640.9 566.8,640.6" fill="none" stroke="#f5b98a" stroke-width="1.1" stroke-linejoin="round" />
<path d="M384.8,640.7 385.8,640.6 386.8,640.6 387.8,640.5 388.8,640.4 389.8,640.4 390.8,640.2 391.8,640.1 392.8,639.9 393.8,639.8 394.8,639.5 395.8,639.2 396.8,638.9 397.8,638.5 398.8,638.1 399.8,637.6 400.8,637.0 401.8,636.4 402.8,635.6 403.8,634.8 404.8,633.8 405.8,632.8 406.8,631.6 407.8,630.3 408.8,628.9 409.8,627.4 410.8,625.8 411.8,624.1 412.8,622.2 413.8,620.2 414.8,618.2 415.8,616.1 416.8,613.9 417.8,611.7 418.8,609.4 419.8,607.2 420.8,605.0 421.8,602.8 422.8,600.7 423.8,598.7 424.8,596.8 425.8,595.0 426.8,593.5 427.8,592.1 428.8,590.9 429.8,590.0 430.8,589.3 431.8,588.9 432.8,588.8 433.8,588.9 434.8,589.2 435.8,589.9 436.8,590.7 437.8,591.8 438.8,593.2 439.8,594.7 440.8,596.4 441.8,598.2 442.8,600.2 443.8,602.3 444.8,604.5 445.8,606.7 446.8,609.0 447.8,611.2 448.8,613.4 449.8,615.6 450.8,617.7 451.8,619.8 452.8,621.8 453.8,623.6 454.8,625.4 455.8,627.1 456.8,628.6 457.8,630.0 458.8,631.3 459.8,632.5 460.8,633.6 461.8,634.5 462.8,635.4 463.8,636.2 464.8,636.8 465.8,637.4 466.8,637.9 467.8,638.4 468.8,638.8 469.8,639.1 470.8,639.4 471.8,639.6 472.8,639.8 473.8,640.0 474.8,640.1 475.8,640.2 476.8,640.3 477.8,640.4 478.8,640.5 479.8,640.5 480.8,640.6" fill="none" stroke="#9fd27e" stroke-width="1.2" stroke-linejoin="round" />
<path d="M420.8,640.7 421.8,640.6 422.8,640.6 423.8,640.5 424.8,640.5 425.8,640.4 426.8,640.3 427.8,640.2 428.8,640.1 429.8,639.9 430.8,639.8 431.8,639.5 432.8,639.3 433.8,639.0 434.8,638.7 435.8,638.4 436.8,638.0 437.8,637.5 438.8,637.0 439.8,636.5 440.8,635.8 441.8,635.2 442.8,634.4 443.8,633.6 444.8,632.7 445.8,631.8 446.8,630.8 447.8,629.8 448.8,628.7 449.8,627.6 450.8,626.4 451.8,625.2 452.8,624.0 453.8,622.9 454.8,621.7 455.8,620.5 456.8,619.4 457.8,618.4 458.8,617.4 459.8,616.5 460.8,615.6 461.8,614.9 462.8,614.3 463.8,613.8 464.8,613.5 465.8,613.3 466.8,613.2 467.8,613.3 468.8,613.5 469.8,613.8 470.8,614.3 471.8,614.9 472.8,615.6 473.8,616.4 474.8,617.3 475.8,618.3 476.8,619.4 477.8,620.5 478.8,621.6 479.8,622.8 480.8,624.0 481.8,625.2 482.8,626.4 483.8,627.5 484.8,628.6 485.8,629.7 486.8,630.8 487.8,631.7 488.8,632.7 489.8,633.5 490.8,634.3 491.8,635.1 492.8,635.8 493.8,636.4 494.8,637.0 495.8,637.5 496.8,637.9 497.8,638.3 498.8,638.7 499.8,639.0 500.8,639.2 501.8,639.5 502.8,639.7 503.8,639.8 504.8,640.0 505.8,640.1 506.8,640.2 507.8,640.3 508.8,640.4 509.8,640.4 510.8,640.5 511.8,640.5 512.8,640.5" fill="none" stroke="#e3e45a" stroke-width="1.2" stroke-linejoin="round" />
<g fill="none" stroke="#86d3d6" stroke-width="0.8"><circle cx="322.1" cy="641.3" r="2.3"/><circle cx="324.5" cy="640.9" r="2.3"/><circle cx="326.5" cy="641.6" r="2.3"/><circle cx="329.4" cy="641.5" r="2.3"/><circle cx="331.9" cy="641.5" r="2.3"/><circle cx="333.4" cy="640.4" r="2.3"/><circle cx="335.6" cy="641.4" r="2.3"/><circle cx="337.7" cy="640.6" r="2.3"/><circle cx="340.6" cy="641.9" r="2.3"/><circle cx="342.1" cy="641.8" r="2.3"/><circle cx="344.6" cy="642.1" r="2.3"/><circle cx="346.8" cy="640.8" r="2.3"/><circle cx="348.6" cy="641.2" r="2.3"/><circle cx="351.1" cy="641.5" r="2.3"/><circle cx="353.8" cy="641.5" r="2.3"/><circle cx="355.5" cy="641.7" r="2.3"/><circle cx="358.3" cy="642.1" r="2.3"/><circle cx="360.4" cy="641.3" r="2.3"/><circle cx="361.8" cy="640.3" r="2.3"/><circle cx="364.8" cy="640.5" r="2.3"/><circle cx="366.8" cy="641.4" r="2.3"/><circle cx="368.8" cy="640.5" r="2.3"/><circle cx="370.6" cy="641.5" r="2.3"/><circle cx="372.7" cy="639.8" r="2.3"/><circle cx="375.7" cy="640.3" r="2.3"/><circle cx="377.5" cy="640.2" r="2.3"/><circle cx="379.5" cy="639.8" r="2.3"/><circle cx="381.9" cy="640.4" r="2.3"/><circle cx="384.0" cy="638.6" r="2.3"/><circle cx="386.2" cy="639.3" r="2.3"/><circle cx="388.4" cy="638.9" r="2.3"/><circle cx="390.4" cy="637.1" r="2.3"/><circle cx="393.3" cy="637.0" r="2.3"/><circle cx="394.8" cy="634.9" r="2.3"/><circle cx="397.3" cy="633.3" r="2.3"/><circle cx="400.0" cy="632.2" r="2.3"/><circle cx="401.6" cy="630.0" r="2.3"/><circle cx="404.4" cy="626.3" r="2.3"/><circle cx="405.9" cy="625.5" r="2.3"/><circle cx="408.4" cy="621.9" r="2.3"/><circle cx="410.1" cy="619.9" r="2.3"/><circle cx="413.1" cy="615.0" r="2.3"/><circle cx="415.0" cy="612.8" r="2.3"/><circle cx="417.3" cy="609.6" r="2.3"/><circle cx="419.2" cy="605.3" r="2.3"/><circle cx="421.1" cy="599.6" r="2.3"/><circle cx="423.9" cy="595.6" r="2.3"/><circle cx="425.8" cy="591.8" r="2.3"/><circle cx="428.4" cy="589.2" r="2.3"/><circle cx="430.2" cy="587.1" r="2.3"/><circle cx="432.9" cy="586.4" r="2.3"/><circle cx="435.2" cy="586.4" r="2.3"/><circle cx="437.2" cy="585.4" r="2.3"/><circle cx="439.1" cy="587.5" r="2.3"/><circle cx="441.0" cy="590.0" r="2.3"/><circle cx="444.1" cy="592.2" r="2.3"/><circle cx="446.2" cy="595.3" r="2.3"/><circle cx="447.8" cy="598.8" r="2.3"/><circle cx="450.3" cy="600.6" r="2.3"/><circle cx="452.2" cy="603.3" r="2.3"/><circle cx="454.3" cy="603.6" r="2.3"/><circle cx="457.0" cy="606.2" r="2.3"/><circle cx="459.3" cy="605.5" r="2.3"/><circle cx="461.0" cy="607.0" r="2.3"/><circle cx="463.0" cy="608.3" r="2.3"/><circle cx="465.4" cy="607.6" r="2.3"/><circle cx="467.8" cy="610.1" r="2.3"/><circle cx="470.4" cy="611.3" r="2.3"/><circle cx="472.5" cy="613.4" r="2.3"/><circle cx="474.7" cy="615.3" r="2.3"/><circle cx="476.8" cy="618.7" r="2.3"/><circle cx="479.0" cy="623.3" r="2.3"/><circle cx="481.1" cy="625.8" r="2.3"/><circle cx="483.1" cy="628.8" r="2.3"/><circle cx="485.5" cy="630.0" r="2.3"/><circle cx="487.2" cy="632.5" r="2.3"/><circle cx="489.8" cy="634.0" r="2.3"/><circle cx="492.2" cy="634.6" r="2.3"/><circle cx="494.0" cy="636.9" r="2.3"/><circle cx="496.9" cy="637.9" r="2.3"/><circle cx="498.5" cy="638.2" r="2.3"/><circle cx="500.4" cy="638.0" r="2.3"/><circle cx="503.5" cy="638.4" r="2.3"/><circle cx="505.6" cy="638.3" r="2.3"/><circle cx="507.7" cy="639.8" r="2.3"/><circle cx="509.7" cy="638.8" r="2.3"/><circle cx="512.0" cy="639.1" r="2.3"/><circle cx="514.2" cy="640.3" r="2.3"/><circle cx="516.6" cy="639.8" r="2.3"/><circle cx="518.1" cy="639.2" r="2.3"/><circle cx="520.2" cy="640.4" r="2.3"/><circle cx="522.7" cy="639.5" r="2.3"/><circle cx="524.9" cy="640.4" r="2.3"/><circle cx="527.2" cy="639.8" r="2.3"/><circle cx="529.4" cy="639.6" r="2.3"/><circle cx="531.7" cy="639.6" r="2.3"/><circle cx="533.7" cy="639.5" r="2.3"/><circle cx="536.5" cy="640.5" r="2.3"/><circle cx="538.6" cy="639.1" r="2.3"/><circle cx="540.2" cy="638.7" r="2.3"/><circle cx="542.3" cy="640.5" r="2.3"/><circle cx="545.3" cy="640.0" r="2.3"/><circle cx="547.0" cy="639.9" r="2.3"/><circle cx="549.2" cy="638.7" r="2.3"/><circle cx="551.7" cy="639.6" r="2.3"/><circle cx="553.9" cy="639.5" r="2.3"/><circle cx="555.9" cy="639.5" r="2.3"/><circle cx="557.7" cy="640.3" r="2.3"/><circle cx="560.2" cy="640.7" r="2.3"/><circle cx="562.9" cy="639.7" r="2.3"/><circle cx="564.6" cy="639.9" r="2.3"/></g>
<path d="M320.8,641.0 321.8,641.1 322.8,641.2 323.8,641.2 324.8,641.3 325.8,641.3 326.8,641.4 327.8,641.4 328.8,641.5 329.8,641.5 330.8,641.6 331.8,641.6 332.8,641.7 333.8,641.7 334.8,641.8 335.8,641.8 336.8,641.8 337.8,641.9 338.8,641.9 339.8,642.0 340.8,642.0 341.8,642.0 342.8,642.0 343.8,642.1 344.8,642.1 345.8,642.1 346.8,642.1 347.8,642.2 348.8,642.2 349.8,642.2 350.8,642.2 351.8,642.2 352.8,642.2 353.8,642.2 354.8,642.2 355.8,642.2 356.8,642.2 357.8,642.2 358.8,642.1 359.8,642.1 360.8,642.1 361.8,642.0 362.8,642.0 363.8,642.0 364.8,641.9 365.8,641.9 366.8,641.8 367.8,641.8 368.8,641.7 369.8,641.6 370.8,641.5 371.8,641.5 372.8,641.4 373.8,641.3 374.8,641.2 375.8,641.1 376.8,641.0 377.8,640.9 378.8,640.8 379.8,640.6 380.8,640.5 381.8,640.4 382.8,640.2 383.8,640.0 384.8,639.8 385.8,639.6 386.8,639.4 387.8,639.1 388.8,638.8 389.8,638.4 390.8,638.0 391.8,637.6 392.8,637.1 393.8,636.6 394.8,636.0 395.8,635.3 396.8,634.6 397.8,633.9 398.8,633.0 399.8,632.2 400.8,631.3 401.8,630.3 402.8,629.3 403.8,628.2 404.8,627.1 405.8,625.9 406.8,624.7 407.8,623.5 408.8,622.2 409.8,620.8 410.8,619.5 411.8,618.1 412.8,616.7 413.8,615.2 414.8,613.7 415.8,612.2 416.8,610.5 417.8,608.8 418.8,606.9 419.8,604.9 420.8,602.9 421.8,600.8 422.8,598.7 423.8,596.7 424.8,594.9 425.8,593.1 426.8,591.6 427.8,590.3 428.8,589.1 429.8,588.1 430.8,587.4 431.8,586.9 432.8,586.5 433.8,586.4 434.8,586.4 435.8,586.7 436.8,587.0 437.8,587.6 438.8,588.3 439.8,589.1 440.8,590.1 441.8,591.3 442.8,592.5 443.8,593.8 444.8,595.1 445.8,596.5 446.8,597.8 447.8,599.0 448.8,600.2 449.8,601.3 450.8,602.3 451.8,603.2 452.8,604.1 453.8,604.8 454.8,605.4 455.8,605.9 456.8,606.3 457.8,606.7 458.8,607.0 459.8,607.3 460.8,607.6 461.8,607.8 462.8,608.1 463.8,608.4 464.8,608.8 465.8,609.3 466.8,609.8 467.8,610.4 468.8,611.1 469.8,612.0 470.8,612.9 471.8,614.0 472.8,615.1 473.8,616.3 474.8,617.6 475.8,619.0 476.8,620.5 477.8,621.9 478.8,623.4 479.8,624.8 480.8,626.2 481.8,627.5 482.8,628.6 483.8,629.7 484.8,630.8 485.8,631.7 486.8,632.6 487.8,633.4 488.8,634.1 489.8,634.8 490.8,635.4 491.8,636.0 492.8,636.5 493.8,636.9 494.8,637.4 495.8,637.8 496.8,638.1 497.8,638.4 498.8,638.7 499.8,639.0 500.8,639.2 501.8,639.4 502.8,639.6 503.8,639.8 504.8,639.9 505.8,640.1 506.8,640.2 507.8,640.2 508.8,640.3 509.8,640.4 510.8,640.4 511.8,640.5 512.8,640.5 513.8,640.5 514.8,640.5 515.8,640.5 516.8,640.5 517.8,640.5 518.8,640.5 519.8,640.5 520.8,640.5 521.8,640.5 522.8,640.5 523.8,640.5 524.8,640.5 525.8,640.5 526.8,640.5 527.8,640.5 528.8,640.5 529.8,640.5 530.8,640.5 531.8,640.5 532.8,640.5 533.8,640.5 534.8,640.5 535.8,640.5 536.8,640.5 537.8,640.5 538.8,640.5 539.8,640.5 540.8,640.5 541.8,640.5 542.8,640.5 543.8,640.5 544.8,640.5 545.8,640.5 546.8,640.5 547.8,640.5 548.8,640.5 549.8,640.5 550.8,640.5 551.8,640.5 552.8,640.5 553.8,640.5 554.8,640.5 555.8,640.5 556.8,640.5 557.8,640.5 558.8,640.5 559.8,640.5 560.8,640.6 561.8,640.6 562.8,640.6 563.8,640.6 564.8,640.6 565.8,640.6 566.8,640.6" fill="none" stroke="#e5378f" stroke-width="1.6" stroke-linejoin="round" />
<path d="M320.8,705.5 566.8,705.6" fill="none" stroke="#f5b98a" stroke-width="1.1" stroke-linejoin="round" />
<path d="M367.8,705.4 368.8,705.3 369.8,705.3 370.8,705.2 371.8,705.2 372.8,705.1 373.8,705.0 374.8,704.9 375.8,704.7 376.8,704.5 377.8,704.3 378.8,704.1 379.8,703.8 380.8,703.4 381.8,703.0 382.8,702.6 383.8,702.0 384.8,701.4 385.8,700.7 386.8,699.9 387.8,699.1 388.8,698.1 389.8,697.0 390.8,695.7 391.8,694.4 392.8,692.9 393.8,691.3 394.8,689.6 395.8,687.8 396.8,685.8 397.8,683.8 398.8,681.6 399.8,679.3 400.8,677.0 401.8,674.6 402.8,672.2 403.8,669.7 404.8,667.3 405.8,664.8 406.8,662.5 407.8,660.2 408.8,658.0 409.8,655.9 410.8,654.1 411.8,652.3 412.8,650.8 413.8,649.6 414.8,648.5 415.8,647.8 416.8,647.3 417.8,647.1 418.8,647.1 419.8,647.4 420.8,648.1 421.8,648.9 422.8,650.1 423.8,651.4 424.8,653.0 425.8,654.8 426.8,656.8 427.8,658.9 428.8,661.1 429.8,663.4 430.8,665.8 431.8,668.2 432.8,670.7 433.8,673.2 434.8,675.6 435.8,678.0 436.8,680.3 437.8,682.5 438.8,684.6 439.8,686.6 440.8,688.5 441.8,690.3 442.8,692.0 443.8,693.6 444.8,695.0 445.8,696.3 446.8,697.4 447.8,698.5 448.8,699.5 449.8,700.3 450.8,701.1 451.8,701.7 452.8,702.3 453.8,702.8 454.8,703.2 455.8,703.6 456.8,703.9 457.8,704.2 458.8,704.5 459.8,704.7 460.8,704.8 461.8,705.0 462.8,705.1 463.8,705.2 464.8,705.2 465.8,705.3 466.8,705.4 467.8,705.4 468.8,705.4 536.8,705.6" fill="none" stroke="#9fd27e" stroke-width="1.2" stroke-linejoin="round" />
<path d="M404.8,705.4 405.8,705.4 406.8,705.3 407.8,705.3 408.8,705.2 409.8,705.1 410.8,705.0 411.8,704.9 412.8,704.8 413.8,704.7 414.8,704.5 415.8,704.3 416.8,704.0 417.8,703.8 418.8,703.5 419.8,703.1 420.8,702.7 421.8,702.3 422.8,701.8 423.8,701.2 424.8,700.6 425.8,699.9 426.8,699.2 427.8,698.4 428.8,697.5 429.8,696.6 430.8,695.6 431.8,694.6 432.8,693.5 433.8,692.4 434.8,691.2 435.8,690.0 436.8,688.8 437.8,687.5 438.8,686.3 439.8,685.1 440.8,683.9 441.8,682.8 442.8,681.7 443.8,680.7 444.8,679.8 445.8,678.9 446.8,678.2 447.8,677.6 448.8,677.1 449.8,676.7 450.8,676.5 451.8,676.4 452.8,676.4 453.8,676.6 454.8,676.9 455.8,677.3 456.8,677.9 457.8,678.6 458.8,679.4 459.8,680.3 460.8,681.3 461.8,682.4 462.8,683.5 463.8,684.6 464.8,685.8 465.8,687.1 466.8,688.3 467.8,689.5 468.8,690.7 469.8,691.9 470.8,693.1 471.8,694.2 472.8,695.2 473.8,696.2 474.8,697.2 475.8,698.1 476.8,698.9 477.8,699.6 478.8,700.3 479.8,701.0 480.8,701.6 481.8,702.1 482.8,702.6 483.8,703.0 484.8,703.4 485.8,703.7 486.8,704.0 487.8,704.2 488.8,704.4 489.8,704.6 490.8,704.8 491.8,704.9 492.8,705.0 493.8,705.1 494.8,705.2 495.8,705.3 496.8,705.3 497.8,705.4 498.8,705.4 499.8,705.5" fill="none" stroke="#e3e45a" stroke-width="1.2" stroke-linejoin="round" />
<g fill="none" stroke="#86d3d6" stroke-width="0.8"><circle cx="322.6" cy="704.4" r="2.3"/><circle cx="324.7" cy="704.8" r="2.3"/><circle cx="327.2" cy="705.0" r="2.3"/><circle cx="329.3" cy="704.9" r="2.3"/><circle cx="331.2" cy="704.6" r="2.3"/><circle cx="333.2" cy="705.5" r="2.3"/><circle cx="335.6" cy="706.5" r="2.3"/><circle cx="338.5" cy="706.7" r="2.3"/><circle cx="340.6" cy="705.8" r="2.3"/><circle cx="342.6" cy="707.0" r="2.3"/><circle cx="344.6" cy="705.5" r="2.3"/><circle cx="346.6" cy="706.8" r="2.3"/><circle cx="348.8" cy="706.0" r="2.3"/><circle cx="351.5" cy="706.0" r="2.3"/><circle cx="353.3" cy="706.1" r="2.3"/><circle cx="356.0" cy="706.6" r="2.3"/><circle cx="357.3" cy="705.7" r="2.3"/><circle cx="360.3" cy="706.9" r="2.3"/><circle cx="362.2" cy="706.2" r="2.3"/><circle cx="364.1" cy="704.8" r="2.3"/><circle cx="366.6" cy="704.5" r="2.3"/><circle cx="369.0" cy="703.6" r="2.3"/><circle cx="370.5" cy="704.4" r="2.3"/><circle cx="373.2" cy="704.0" r="2.3"/><circle cx="375.4" cy="703.4" r="2.3"/><circle cx="377.6" cy="702.3" r="2.3"/><circle cx="379.8" cy="700.9" r="2.3"/><circle cx="381.6" cy="698.3" r="2.3"/><circle cx="384.1" cy="697.2" r="2.3"/><circle cx="386.4" cy="695.5" r="2.3"/><circle cx="388.5" cy="693.7" r="2.3"/><circle cx="390.8" cy="690.1" r="2.3"/><circle cx="393.3" cy="687.8" r="2.3"/><circle cx="395.5" cy="683.0" r="2.3"/><circle cx="397.0" cy="677.4" r="2.3"/><circle cx="399.2" cy="672.1" r="2.3"/><circle cx="401.9" cy="666.8" r="2.3"/><circle cx="403.6" cy="663.6" r="2.3"/><circle cx="406.6" cy="658.6" r="2.3"/><circle cx="408.1" cy="654.7" r="2.3"/><circle cx="410.4" cy="651.0" r="2.3"/><circle cx="412.3" cy="647.4" r="2.3"/><circle cx="415.4" cy="646.2" r="2.3"/><circle cx="416.8" cy="644.5" r="2.3"/><circle cx="418.9" cy="645.2" r="2.3"/><circle cx="421.8" cy="646.5" r="2.3"/><circle cx="423.3" cy="648.4" r="2.3"/><circle cx="425.7" cy="650.0" r="2.3"/><circle cx="428.6" cy="653.9" r="2.3"/><circle cx="430.0" cy="656.4" r="2.3"/><circle cx="432.5" cy="658.4" r="2.3"/><circle cx="434.4" cy="660.6" r="2.3"/><circle cx="437.3" cy="663.4" r="2.3"/><circle cx="439.6" cy="664.6" r="2.3"/><circle cx="441.3" cy="667.2" r="2.3"/><circle cx="443.3" cy="667.0" r="2.3"/><circle cx="446.1" cy="668.8" r="2.3"/><circle cx="447.7" cy="670.0" r="2.3"/><circle cx="449.7" cy="670.1" r="2.3"/><circle cx="452.2" cy="671.2" r="2.3"/><circle cx="454.2" cy="672.7" r="2.3"/><circle cx="456.6" cy="676.8" r="2.3"/><circle cx="459.0" cy="678.4" r="2.3"/><circle cx="461.3" cy="681.1" r="2.3"/><circle cx="463.4" cy="683.8" r="2.3"/><circle cx="465.7" cy="685.6" r="2.3"/><circle cx="468.0" cy="689.3" r="2.3"/><circle cx="470.0" cy="691.0" r="2.3"/><circle cx="472.4" cy="694.2" r="2.3"/><circle cx="474.2" cy="694.7" r="2.3"/><circle cx="476.8" cy="696.7" r="2.3"/><circle cx="478.7" cy="698.6" r="2.3"/><circle cx="481.0" cy="699.5" r="2.3"/><circle cx="483.3" cy="701.6" r="2.3"/><circle cx="485.3" cy="701.5" r="2.3"/><circle cx="487.2" cy="703.0" r="2.3"/><circle cx="489.3" cy="704.2" r="2.3"/><circle cx="491.6" cy="704.1" r="2.3"/><circle cx="494.4" cy="705.1" r="2.3"/><circle cx="496.4" cy="703.9" r="2.3"/><circle cx="499.0" cy="705.3" r="2.3"/><circle cx="500.9" cy="705.0" r="2.3"/><circle cx="503.4" cy="705.2" r="2.3"/><circle cx="505.3" cy="704.8" r="2.3"/><circle cx="507.4" cy="705.3" r="2.3"/><circle cx="509.7" cy="704.1" r="2.3"/><circle cx="512.0" cy="704.4" r="2.3"/><circle cx="514.4" cy="705.1" r="2.3"/><circle cx="515.7" cy="703.8" r="2.3"/><circle cx="518.6" cy="705.5" r="2.3"/><circle cx="520.9" cy="705.6" r="2.3"/><circle cx="522.5" cy="705.5" r="2.3"/><circle cx="525.1" cy="703.9" r="2.3"/><circle cx="526.8" cy="705.1" r="2.3"/><circle cx="529.1" cy="705.4" r="2.3"/><circle cx="531.5" cy="704.0" r="2.3"/><circle cx="533.4" cy="703.9" r="2.3"/><circle cx="535.5" cy="703.7" r="2.3"/><circle cx="538.4" cy="703.9" r="2.3"/><circle cx="540.7" cy="705.1" r="2.3"/><circle cx="542.9" cy="704.4" r="2.3"/><circle cx="545.2" cy="703.8" r="2.3"/><circle cx="546.6" cy="704.4" r="2.3"/><circle cx="548.9" cy="704.4" r="2.3"/><circle cx="551.3" cy="705.1" r="2.3"/><circle cx="553.3" cy="703.7" r="2.3"/><circle cx="556.3" cy="703.8" r="2.3"/><circle cx="558.3" cy="704.5" r="2.3"/><circle cx="560.1" cy="704.9" r="2.3"/><circle cx="562.5" cy="705.2" r="2.3"/><circle cx="565.1" cy="703.9" r="2.3"/></g>
<path d="M320.8,705.3 321.8,705.4 322.8,705.5 323.8,705.6 324.8,705.7 325.8,705.8 326.8,706.0 327.8,706.1 328.8,706.2 329.8,706.3 330.8,706.4 331.8,706.5 332.8,706.6 333.8,706.6 334.8,706.7 335.8,706.8 336.8,706.9 337.8,707.0 338.8,707.0 339.8,707.1 340.8,707.1 341.8,707.2 342.8,707.2 343.8,707.3 344.8,707.3 345.8,707.3 346.8,707.3 347.8,707.3 348.8,707.3 349.8,707.3 350.8,707.3 351.8,707.3 352.8,707.3 353.8,707.2 354.8,707.2 355.8,707.1 356.8,707.0 357.8,707.0 358.8,706.9 359.8,706.8 360.8,706.6 361.8,706.5 362.8,706.4 363.8,706.2 364.8,706.1 365.8,705.9 366.8,705.7 367.8,705.5 368.8,705.3 369.8,705.0 370.8,704.8 371.8,704.5 372.8,704.3 373.8,704.0 374.8,703.6 375.8,703.3 376.8,702.9 377.8,702.4 378.8,701.9 379.8,701.4 380.8,700.9 381.8,700.2 382.8,699.6 383.8,698.8 384.8,698.0 385.8,697.1 386.8,696.1 387.8,695.1 388.8,693.9 389.8,692.6 390.8,691.2 391.8,689.7 392.8,688.1 393.8,686.3 394.8,684.3 395.8,682.3 396.8,680.1 397.8,677.8 398.8,675.5 399.8,673.2 400.8,670.9 401.8,668.5 402.8,666.3 403.8,664.0 404.8,661.9 405.8,659.8 406.8,657.8 407.8,656.0 408.8,654.3 409.8,652.7 410.8,651.2 411.8,650.0 412.8,648.8 413.8,647.9 414.8,647.1 415.8,646.5 416.8,646.2 417.8,646.0 418.8,646.1 419.8,646.4 420.8,646.9 421.8,647.5 422.8,648.4 423.8,649.3 424.8,650.3 425.8,651.5 426.8,652.7 427.8,653.9 428.8,655.2 429.8,656.4 430.8,657.7 431.8,658.9 432.8,660.0 433.8,661.2 434.8,662.2 435.8,663.2 436.8,664.1 437.8,664.9 438.8,665.7 439.8,666.4 440.8,667.0 441.8,667.5 442.8,668.0 443.8,668.4 444.8,668.8 445.8,669.2 446.8,669.6 447.8,670.0 448.8,670.4 449.8,670.9 450.8,671.4 451.8,672.0 452.8,672.7 453.8,673.5 454.8,674.5 455.8,675.5 456.8,676.6 457.8,677.8 458.8,679.0 459.8,680.2 460.8,681.4 461.8,682.7 462.8,683.9 463.8,685.1 464.8,686.3 465.8,687.5 466.8,688.7 467.8,689.8 468.8,690.9 469.8,692.0 470.8,693.0 471.8,694.0 472.8,694.9 473.8,695.9 474.8,696.7 475.8,697.5 476.8,698.3 477.8,699.0 478.8,699.6 479.8,700.2 480.8,700.8 481.8,701.3 482.8,701.8 483.8,702.2 484.8,702.6 485.8,703.0 486.8,703.3 487.8,703.6 488.8,703.9 489.8,704.2 490.8,704.4 491.8,704.6 492.8,704.8 493.8,704.9 494.8,705.1 495.8,705.2 496.8,705.3 497.8,705.4 498.8,705.4 499.8,705.5 500.8,705.5 501.8,705.5 502.8,705.5 503.8,705.6 504.8,705.6 505.8,705.6 506.8,705.5 507.8,705.5 508.8,705.5 509.8,705.5 510.8,705.5 511.8,705.5 512.8,705.5 513.8,705.4 514.8,705.4 515.8,705.4 516.8,705.4 517.8,705.4 518.8,705.4 519.8,705.4 520.8,705.4 521.8,705.4 522.8,705.4 523.8,705.4 524.8,705.4 525.8,705.4 526.8,705.4 527.8,705.4 528.8,705.4 529.8,705.4 530.8,705.4 531.8,705.4 532.8,705.4 533.8,705.4 534.8,705.4 535.8,705.4 536.8,705.4 537.8,705.4 538.8,705.4 539.8,705.4 540.8,705.4 541.8,705.4 542.8,705.4 543.8,705.4 544.8,705.4 545.8,705.4 546.8,705.4 547.8,705.4 548.8,705.4 549.8,705.4 550.8,705.4 551.8,705.4 552.8,705.5 553.8,705.5 554.8,705.5 555.8,705.5 556.8,705.5 557.8,705.5 558.8,705.5 559.8,705.5 560.8,705.5 561.8,705.5 562.8,705.5 563.8,705.6 564.8,705.6 565.8,705.6 566.8,705.6" fill="none" stroke="#e5378f" stroke-width="1.6" stroke-linejoin="round" />
<line x1="418.10" y1="524.00" x2="418.10" y2="668.90" stroke="#2a2a2a" stroke-width="1.9" stroke-dasharray="3.6,3.2"/>
<line x1="453.10" y1="546.00" x2="453.10" y2="691.00" stroke="#2a2a2a" stroke-width="1.9" stroke-dasharray="3.6,3.2"/>
<line x1="409.30" y1="517.40" x2="409.30" y2="547.50" stroke="#ee4d4a" stroke-width="1.6" stroke-dasharray="3.2,3"/>
<line x1="443.60" y1="533.70" x2="443.60" y2="557.80" stroke="#ee4d4a" stroke-width="1.6" stroke-dasharray="3.2,3"/>
<line x1="433.50" y1="572.00" x2="433.50" y2="602.10" stroke="#ee4d4a" stroke-width="1.6" stroke-dasharray="3.2,3"/>
<line x1="466.40" y1="595.10" x2="466.40" y2="626.00" stroke="#ee4d4a" stroke-width="1.6" stroke-dasharray="3.2,3"/>
<text x="562.30" y="530.50" font-size="13" text-anchor="end" fill="#231f20" >S 2p</text>
<text x="369.40" y="530.60" font-size="13" text-anchor="start" fill="#231f20" >2p<tspan font-size="8.6" dy="3.4">3/2</tspan></text>
<text x="457.80" y="553.70" font-size="13" text-anchor="start" fill="#231f20" >2p<tspan font-size="8.6" dy="3.4">1/2</tspan></text>
<text x="565.60" y="572.90" font-size="12.5" text-anchor="end" fill="#231f20" >WZC30-Light</text>
<text x="565.60" y="631.70" font-size="12.5" text-anchor="end" fill="#231f20" >WZC30-Dark</text>
<text x="565.60" y="696.70" font-size="12.5" text-anchor="end" fill="#231f20" >Zn<tspan font-size="8.6" dy="3.4">0.5</tspan><tspan dy="-3.4">Cd</tspan><tspan font-size="8.6" dy="3.4">0.5</tspan><tspan dy="-3.4">S</tspan></text>
<text x="296.40" y="531.50" font-size="19.8" text-anchor="start" fill="#231f20" >(f)</text>
</svg></body></html>
